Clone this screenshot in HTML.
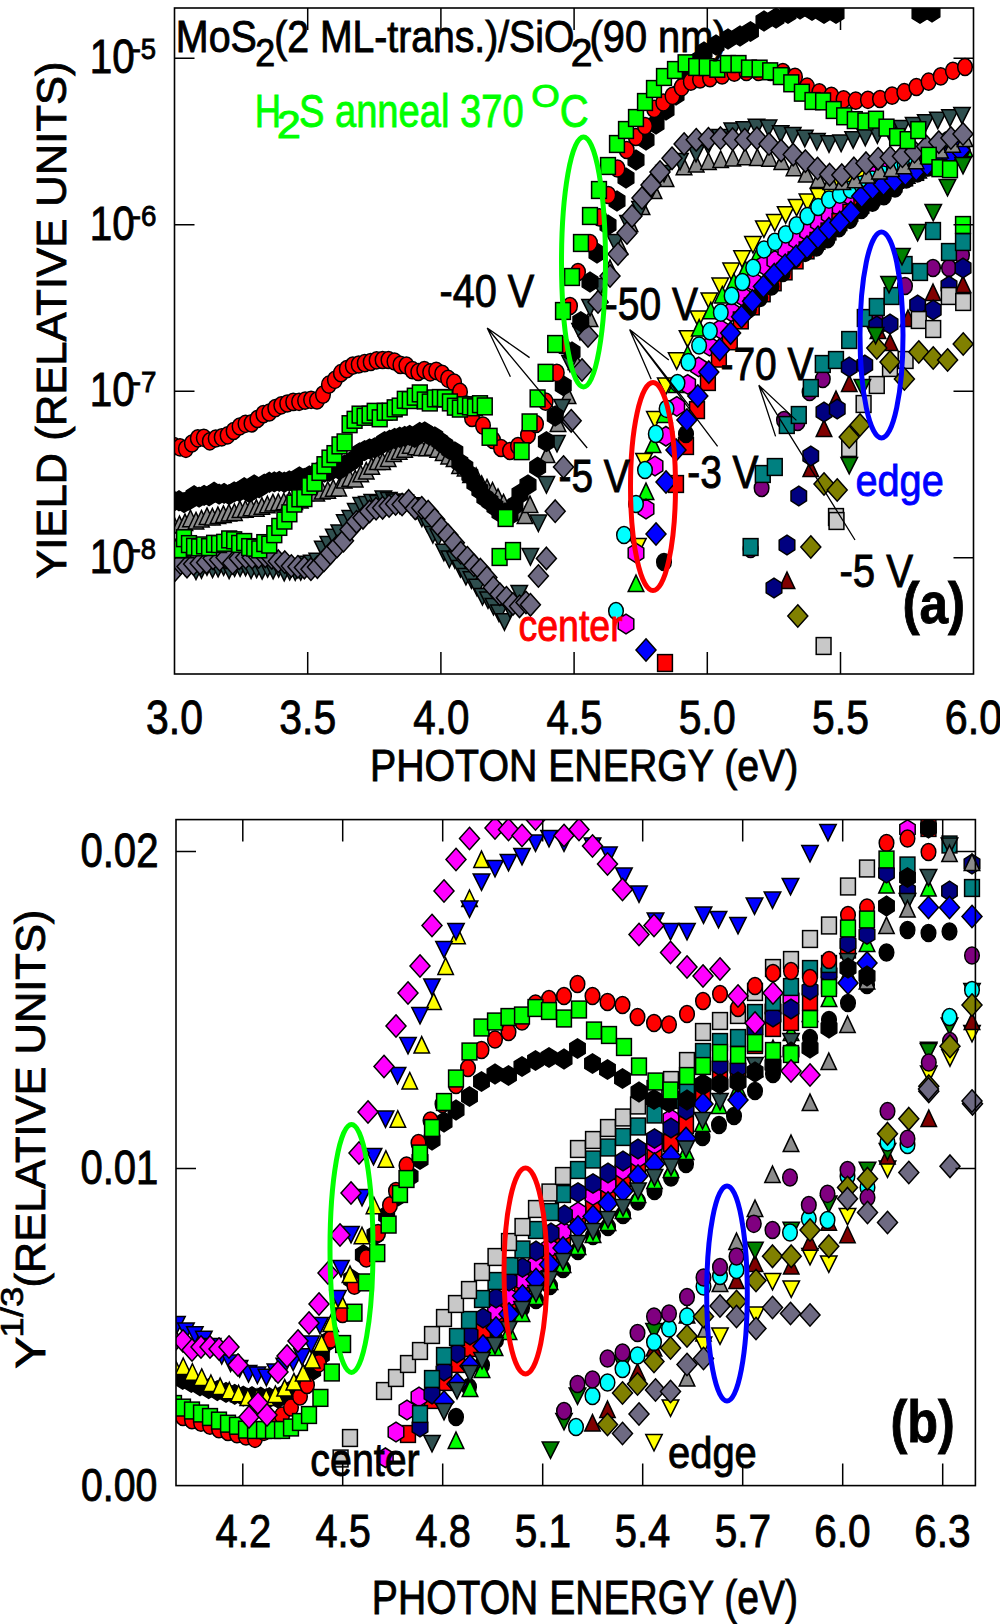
<!DOCTYPE html>
<html><head><meta charset="utf-8"><style>
html,body{margin:0;padding:0;background:#fff;}
svg{display:block;}
text{font-family:"Liberation Sans",sans-serif;}
</style></head><body>
<svg width="1000" height="1624" viewBox="0 0 1000 1624">
<defs><clipPath id="ca"><rect x="174.5" y="8" width="830" height="666"/></clipPath>
<clipPath id="cb"><rect x="176" y="819.6" width="830" height="666"/></clipPath></defs>
<g clip-path="url(#ca)" stroke="#000" stroke-width="1.5" stroke-linejoin="miter">
<path d="M638.0 554.9L646.2 538.4L629.8 538.4Z" fill="#ffff00"/>
<path d="M644.0 469.9L652.2 453.4L635.8 453.4Z" fill="#ffff00"/>
<path d="M654.9 428.0L663.1 411.5L646.6 411.5Z" fill="#ffff00"/>
<path d="M665.8 394.6L674.0 378.1L657.5 378.1Z" fill="#ffff00"/>
<path d="M676.7 369.3L684.9 352.8L668.4 352.8Z" fill="#ffff00"/>
<path d="M687.6 347.2L695.8 330.7L679.3 330.7Z" fill="#ffff00"/>
<path d="M698.5 327.4L706.7 310.9L690.2 310.9Z" fill="#ffff00"/>
<path d="M709.4 309.4L717.6 292.9L701.1 292.9Z" fill="#ffff00"/>
<path d="M720.3 294.5L728.5 278.0L712.0 278.0Z" fill="#ffff00"/>
<path d="M731.2 279.5L739.4 263.0L722.9 263.0Z" fill="#ffff00"/>
<path d="M742.1 267.3L750.3 250.8L733.8 250.8Z" fill="#ffff00"/>
<path d="M753.0 253.0L761.2 236.5L744.7 236.5Z" fill="#ffff00"/>
<path d="M763.9 237.4L772.1 220.9L755.6 220.9Z" fill="#ffff00"/>
<path d="M774.8 231.0L783.0 214.5L766.5 214.5Z" fill="#ffff00"/>
<path d="M785.7 223.2L793.9 206.7L777.4 206.7Z" fill="#ffff00"/>
<path d="M796.6 215.9L804.8 199.4L788.3 199.4Z" fill="#ffff00"/>
<path d="M807.4 210.5L815.7 194.0L799.2 194.0Z" fill="#ffff00"/>
<path d="M818.3 204.9L826.6 188.4L810.1 188.4Z" fill="#ffff00"/>
<path d="M829.2 199.9L837.5 183.4L821.0 183.4Z" fill="#ffff00"/>
<path d="M840.1 195.7L848.4 179.2L831.9 179.2Z" fill="#ffff00"/>
<path d="M851.0 191.5L859.3 175.0L842.8 175.0Z" fill="#ffff00"/>
<path d="M861.9 187.3L870.2 170.8L853.7 170.8Z" fill="#ffff00"/>
<path d="M872.8 183.1L881.1 166.6L864.6 166.6Z" fill="#ffff00"/>
<path d="M883.7 178.7L892.0 162.2L875.5 162.2Z" fill="#ffff00"/>
<path d="M894.6 174.2L902.9 157.7L886.4 157.7Z" fill="#ffff00"/>
<path d="M905.5 169.7L913.8 153.2L897.3 153.2Z" fill="#ffff00"/>
<path d="M916.4 165.6L924.7 149.1L908.2 149.1Z" fill="#ffff00"/>
<path d="M927.3 161.7L935.6 145.2L919.1 145.2Z" fill="#ffff00"/>
<path d="M938.2 157.7L946.5 141.2L930.0 141.2Z" fill="#ffff00"/>
<path d="M949.1 153.8L957.4 137.3L940.9 137.3Z" fill="#ffff00"/>
<path d="M960.0 149.9L968.2 133.4L951.8 133.4Z" fill="#ffff00"/>
<path d="M636.0 575.1L643.8 591.6L628.2 591.6Z" fill="#00ff00"/>
<path d="M646.0 483.1L653.8 499.6L638.2 499.6Z" fill="#00ff00"/>
<path d="M653.0 436.1L660.8 452.6L645.2 452.6Z" fill="#00ff00"/>
<path d="M664.6 406.0L672.3 422.5L656.8 422.5Z" fill="#00ff00"/>
<path d="M676.1 375.9L683.9 392.4L668.4 392.4Z" fill="#00ff00"/>
<path d="M687.7 345.8L695.4 362.3L679.9 362.3Z" fill="#00ff00"/>
<path d="M699.2 319.6L707.0 336.1L691.5 336.1Z" fill="#00ff00"/>
<path d="M710.8 302.3L718.5 318.8L703.0 318.8Z" fill="#00ff00"/>
<path d="M722.3 286.4L730.1 302.9L714.6 302.9Z" fill="#00ff00"/>
<path d="M733.9 273.8L741.6 290.3L726.1 290.3Z" fill="#00ff00"/>
<path d="M745.4 261.1L753.2 277.6L737.7 277.6Z" fill="#00ff00"/>
<path d="M757.0 248.4L764.8 264.9L749.2 264.9Z" fill="#00ff00"/>
<path d="M768.6 238.7L776.3 255.2L760.8 255.2Z" fill="#00ff00"/>
<path d="M780.1 230.0L787.9 246.5L772.4 246.5Z" fill="#00ff00"/>
<path d="M791.7 221.4L799.4 237.9L783.9 237.9Z" fill="#00ff00"/>
<path d="M803.2 213.5L811.0 230.0L795.5 230.0Z" fill="#00ff00"/>
<path d="M814.8 207.7L822.5 224.2L807.0 224.2Z" fill="#00ff00"/>
<path d="M826.3 201.9L834.1 218.4L818.6 218.4Z" fill="#00ff00"/>
<path d="M837.9 196.2L845.6 212.7L830.1 212.7Z" fill="#00ff00"/>
<path d="M849.4 190.4L857.2 206.9L841.7 206.9Z" fill="#00ff00"/>
<path d="M861.0 185.7L868.8 202.2L853.2 202.2Z" fill="#00ff00"/>
<path d="M872.6 181.1L880.3 197.6L864.8 197.6Z" fill="#00ff00"/>
<path d="M884.1 176.5L891.9 193.0L876.4 193.0Z" fill="#00ff00"/>
<path d="M895.7 171.8L903.4 188.3L887.9 188.3Z" fill="#00ff00"/>
<path d="M907.2 166.8L915.0 183.3L899.5 183.3Z" fill="#00ff00"/>
<path d="M918.8 161.4L926.5 177.9L911.0 177.9Z" fill="#00ff00"/>
<path d="M930.3 156.1L938.1 172.6L922.6 172.6Z" fill="#00ff00"/>
<path d="M941.9 150.8L949.6 167.3L934.1 167.3Z" fill="#00ff00"/>
<path d="M953.4 145.4L961.2 161.9L945.7 161.9Z" fill="#00ff00"/>
<path d="M965.0 140.1L972.8 156.6L957.2 156.6Z" fill="#00ff00"/>
<path d="M626.0 614.2L633.8 619.1L633.8 628.9L626.0 633.8L618.2 628.9L618.2 619.1Z" fill="#ff00ff"/>
<path d="M636.0 543.2L643.8 548.1L643.8 557.9L636.0 562.8L628.2 557.9L628.2 548.1Z" fill="#ff00ff"/>
<path d="M646.0 499.2L653.8 504.1L653.8 513.9L646.0 518.8L638.2 513.9L638.2 504.1Z" fill="#ff00ff"/>
<path d="M655.0 456.2L662.8 461.1L662.8 470.9L655.0 475.8L647.2 470.9L647.2 461.1Z" fill="#ff00ff"/>
<path d="M665.9 426.5L673.6 431.4L673.6 441.2L665.9 446.0L658.1 441.2L658.1 431.4Z" fill="#ff00ff"/>
<path d="M676.8 396.6L684.5 401.5L684.5 411.2L676.8 416.1L669.0 411.2L669.0 401.5Z" fill="#ff00ff"/>
<path d="M687.7 374.7L695.4 379.5L695.4 389.3L687.7 394.2L679.9 389.3L679.9 379.5Z" fill="#ff00ff"/>
<path d="M698.6 357.1L706.3 362.0L706.3 371.7L698.6 376.6L690.8 371.7L690.8 362.0Z" fill="#ff00ff"/>
<path d="M709.5 336.4L717.2 341.3L717.2 351.1L709.5 355.9L701.7 351.1L701.7 341.3Z" fill="#ff00ff"/>
<path d="M720.4 319.4L728.1 324.3L728.1 334.0L720.4 338.9L712.6 334.0L712.6 324.3Z" fill="#ff00ff"/>
<path d="M731.2 302.0L739.0 306.9L739.0 316.6L731.2 321.5L723.5 316.6L723.5 306.9Z" fill="#ff00ff"/>
<path d="M742.1 286.4L749.9 291.3L749.9 301.0L742.1 305.9L734.4 301.0L734.4 291.3Z" fill="#ff00ff"/>
<path d="M753.0 271.7L760.8 276.6L760.8 286.3L753.0 291.2L745.3 286.3L745.3 276.6Z" fill="#ff00ff"/>
<path d="M763.9 255.4L771.7 260.2L771.7 270.0L763.9 274.9L756.2 270.0L756.2 260.2Z" fill="#ff00ff"/>
<path d="M774.8 250.7L782.6 255.6L782.6 265.4L774.8 270.2L767.1 265.4L767.1 255.6Z" fill="#ff00ff"/>
<path d="M785.7 239.7L793.5 244.6L793.5 254.4L785.7 259.2L778.0 254.4L778.0 244.6Z" fill="#ff00ff"/>
<path d="M796.6 230.2L804.4 235.1L804.4 244.8L796.6 249.7L788.9 244.8L788.9 235.1Z" fill="#ff00ff"/>
<path d="M807.5 221.9L815.2 226.8L815.2 236.5L807.5 241.4L799.8 236.5L799.8 226.8Z" fill="#ff00ff"/>
<path d="M818.4 212.5L826.1 217.3L826.1 227.1L818.4 232.0L810.6 227.1L810.6 217.3Z" fill="#ff00ff"/>
<path d="M829.3 204.8L837.0 209.7L837.0 219.4L829.3 224.3L821.5 219.4L821.5 209.7Z" fill="#ff00ff"/>
<path d="M840.2 197.7L847.9 202.5L847.9 212.3L840.2 217.2L832.4 212.3L832.4 202.5Z" fill="#ff00ff"/>
<path d="M851.1 186.8L858.8 191.7L858.8 201.4L851.1 206.3L843.3 201.4L843.3 191.7Z" fill="#ff00ff"/>
<path d="M862.0 175.9L869.7 180.8L869.7 190.5L862.0 195.4L854.2 190.5L854.2 180.8Z" fill="#ff00ff"/>
<path d="M872.9 166.0L880.6 170.9L880.6 180.7L872.9 185.5L865.1 180.7L865.1 170.9Z" fill="#ff00ff"/>
<path d="M883.8 159.9L891.5 164.8L891.5 174.5L883.8 179.4L876.0 174.5L876.0 164.8Z" fill="#ff00ff"/>
<path d="M894.6 154.9L902.4 159.8L902.4 169.6L894.6 174.4L886.9 169.6L886.9 159.8Z" fill="#ff00ff"/>
<path d="M905.5 149.7L913.3 154.6L913.3 164.3L905.5 169.2L897.8 164.3L897.8 154.6Z" fill="#ff00ff"/>
<path d="M916.4 145.8L924.2 150.7L924.2 160.4L916.4 165.3L908.7 160.4L908.7 150.7Z" fill="#ff00ff"/>
<path d="M927.3 141.9L935.1 146.8L935.1 156.5L927.3 161.4L919.6 156.5L919.6 146.8Z" fill="#ff00ff"/>
<path d="M938.2 138.0L946.0 142.9L946.0 152.7L938.2 157.5L930.5 152.7L930.5 142.9Z" fill="#ff00ff"/>
<path d="M949.1 134.1L956.9 139.0L956.9 148.8L949.1 153.6L941.4 148.8L941.4 139.0Z" fill="#ff00ff"/>
<path d="M960.0 130.2L967.8 135.1L967.8 144.9L960.0 149.8L952.2 144.9L952.2 135.1Z" fill="#ff00ff"/>
<ellipse cx="616.0" cy="611.0" rx="7.30" ry="8.60" fill="#00ffff"/>
<ellipse cx="624.0" cy="535.0" rx="7.30" ry="8.60" fill="#00ffff"/>
<ellipse cx="636.0" cy="504.0" rx="7.30" ry="8.60" fill="#00ffff"/>
<ellipse cx="645.0" cy="470.0" rx="7.30" ry="8.60" fill="#00ffff"/>
<ellipse cx="655.8" cy="433.9" rx="7.30" ry="8.60" fill="#00ffff"/>
<ellipse cx="666.6" cy="408.8" rx="7.30" ry="8.60" fill="#00ffff"/>
<ellipse cx="677.5" cy="383.1" rx="7.30" ry="8.60" fill="#00ffff"/>
<ellipse cx="688.3" cy="362.1" rx="7.30" ry="8.60" fill="#00ffff"/>
<ellipse cx="699.1" cy="345.5" rx="7.30" ry="8.60" fill="#00ffff"/>
<ellipse cx="709.9" cy="331.2" rx="7.30" ry="8.60" fill="#00ffff"/>
<ellipse cx="720.8" cy="312.6" rx="7.30" ry="8.60" fill="#00ffff"/>
<ellipse cx="731.6" cy="295.9" rx="7.30" ry="8.60" fill="#00ffff"/>
<ellipse cx="742.4" cy="282.0" rx="7.30" ry="8.60" fill="#00ffff"/>
<ellipse cx="753.2" cy="267.8" rx="7.30" ry="8.60" fill="#00ffff"/>
<ellipse cx="764.0" cy="249.5" rx="7.30" ry="8.60" fill="#00ffff"/>
<ellipse cx="774.9" cy="241.8" rx="7.30" ry="8.60" fill="#00ffff"/>
<ellipse cx="785.7" cy="234.4" rx="7.30" ry="8.60" fill="#00ffff"/>
<ellipse cx="796.5" cy="225.3" rx="7.30" ry="8.60" fill="#00ffff"/>
<ellipse cx="807.3" cy="216.1" rx="7.30" ry="8.60" fill="#00ffff"/>
<ellipse cx="818.1" cy="207.0" rx="7.30" ry="8.60" fill="#00ffff"/>
<ellipse cx="829.0" cy="199.7" rx="7.30" ry="8.60" fill="#00ffff"/>
<ellipse cx="839.8" cy="194.6" rx="7.30" ry="8.60" fill="#00ffff"/>
<ellipse cx="850.6" cy="189.7" rx="7.30" ry="8.60" fill="#00ffff"/>
<ellipse cx="861.4" cy="184.7" rx="7.30" ry="8.60" fill="#00ffff"/>
<ellipse cx="872.2" cy="179.7" rx="7.30" ry="8.60" fill="#00ffff"/>
<ellipse cx="883.1" cy="174.7" rx="7.30" ry="8.60" fill="#00ffff"/>
<ellipse cx="893.9" cy="169.7" rx="7.30" ry="8.60" fill="#00ffff"/>
<ellipse cx="904.7" cy="164.6" rx="7.30" ry="8.60" fill="#00ffff"/>
<ellipse cx="915.5" cy="158.4" rx="7.30" ry="8.60" fill="#00ffff"/>
<ellipse cx="926.4" cy="152.3" rx="7.30" ry="8.60" fill="#00ffff"/>
<ellipse cx="937.2" cy="146.1" rx="7.30" ry="8.60" fill="#00ffff"/>
<ellipse cx="948.0" cy="140.0" rx="7.30" ry="8.60" fill="#00ffff"/>
<rect x="657.6" y="654.6" width="14.8" height="16.8" fill="#ff0000"/>
<rect x="668.6" y="475.6" width="14.8" height="16.8" fill="#ff0000"/>
<rect x="678.6" y="437.6" width="14.8" height="16.8" fill="#ff0000"/>
<rect x="689.6" y="401.7" width="14.8" height="16.8" fill="#ff0000"/>
<rect x="700.5" y="373.6" width="14.8" height="16.8" fill="#ff0000"/>
<rect x="711.5" y="350.2" width="14.8" height="16.8" fill="#ff0000"/>
<rect x="722.4" y="332.9" width="14.8" height="16.8" fill="#ff0000"/>
<rect x="733.4" y="312.0" width="14.8" height="16.8" fill="#ff0000"/>
<rect x="744.4" y="298.0" width="14.8" height="16.8" fill="#ff0000"/>
<rect x="755.3" y="284.9" width="14.8" height="16.8" fill="#ff0000"/>
<rect x="766.3" y="273.9" width="14.8" height="16.8" fill="#ff0000"/>
<rect x="777.2" y="263.0" width="14.8" height="16.8" fill="#ff0000"/>
<rect x="788.2" y="252.0" width="14.8" height="16.8" fill="#ff0000"/>
<rect x="799.2" y="242.0" width="14.8" height="16.8" fill="#ff0000"/>
<rect x="810.1" y="232.5" width="14.8" height="16.8" fill="#ff0000"/>
<rect x="821.1" y="223.1" width="14.8" height="16.8" fill="#ff0000"/>
<rect x="832.0" y="213.7" width="14.8" height="16.8" fill="#ff0000"/>
<rect x="843.0" y="204.3" width="14.8" height="16.8" fill="#ff0000"/>
<rect x="854.0" y="196.3" width="14.8" height="16.8" fill="#ff0000"/>
<rect x="864.9" y="188.3" width="14.8" height="16.8" fill="#ff0000"/>
<rect x="875.9" y="181.4" width="14.8" height="16.8" fill="#ff0000"/>
<rect x="886.8" y="175.2" width="14.8" height="16.8" fill="#ff0000"/>
<rect x="897.8" y="169.0" width="14.8" height="16.8" fill="#ff0000"/>
<rect x="908.8" y="163.5" width="14.8" height="16.8" fill="#ff0000"/>
<rect x="919.7" y="158.0" width="14.8" height="16.8" fill="#ff0000"/>
<rect x="930.7" y="152.6" width="14.8" height="16.8" fill="#ff0000"/>
<rect x="941.6" y="147.1" width="14.8" height="16.8" fill="#ff0000"/>
<rect x="952.6" y="141.6" width="14.8" height="16.8" fill="#ff0000"/>
<ellipse cx="664.0" cy="562.0" rx="7.30" ry="8.60" fill="#000000"/>
<ellipse cx="686.0" cy="434.0" rx="7.30" ry="8.60" fill="#000000"/>
<ellipse cx="749.0" cy="309.0" rx="7.30" ry="8.60" fill="#000000"/>
<ellipse cx="760.2" cy="297.8" rx="7.30" ry="8.60" fill="#000000"/>
<ellipse cx="771.5" cy="286.5" rx="7.30" ry="8.60" fill="#000000"/>
<ellipse cx="782.7" cy="272.9" rx="7.30" ry="8.60" fill="#000000"/>
<ellipse cx="793.9" cy="259.5" rx="7.30" ry="8.60" fill="#000000"/>
<ellipse cx="805.2" cy="252.8" rx="7.30" ry="8.60" fill="#000000"/>
<ellipse cx="816.4" cy="247.5" rx="7.30" ry="8.60" fill="#000000"/>
<ellipse cx="827.6" cy="239.1" rx="7.30" ry="8.60" fill="#000000"/>
<ellipse cx="838.9" cy="228.1" rx="7.30" ry="8.60" fill="#000000"/>
<ellipse cx="850.1" cy="219.8" rx="7.30" ry="8.60" fill="#000000"/>
<ellipse cx="861.3" cy="210.0" rx="7.30" ry="8.60" fill="#000000"/>
<ellipse cx="872.5" cy="202.6" rx="7.30" ry="8.60" fill="#000000"/>
<ellipse cx="883.8" cy="196.1" rx="7.30" ry="8.60" fill="#000000"/>
<ellipse cx="895.0" cy="188.4" rx="7.30" ry="8.60" fill="#000000"/>
<ellipse cx="906.2" cy="179.5" rx="7.30" ry="8.60" fill="#000000"/>
<ellipse cx="917.5" cy="173.3" rx="7.30" ry="8.60" fill="#000000"/>
<ellipse cx="928.7" cy="167.3" rx="7.30" ry="8.60" fill="#000000"/>
<ellipse cx="939.9" cy="161.2" rx="7.30" ry="8.60" fill="#000000"/>
<ellipse cx="951.2" cy="155.2" rx="7.30" ry="8.60" fill="#000000"/>
<ellipse cx="962.4" cy="149.2" rx="7.30" ry="8.60" fill="#000000"/>
<path d="M646.0 638.8L656.0 650.0L646.0 661.2L636.0 650.0Z" fill="#0000ff"/>
<path d="M656.0 522.8L666.0 534.0L656.0 545.2L646.0 534.0Z" fill="#0000ff"/>
<path d="M666.0 470.8L676.0 482.0L666.0 493.2L656.0 482.0Z" fill="#0000ff"/>
<path d="M676.0 438.8L686.0 450.0L676.0 461.2L666.0 450.0Z" fill="#0000ff"/>
<path d="M686.9 408.8L696.9 420.0L686.9 431.2L676.9 420.0Z" fill="#0000ff"/>
<path d="M697.8 384.8L707.8 396.0L697.8 407.2L687.8 396.0Z" fill="#0000ff"/>
<path d="M708.8 360.9L718.8 372.1L708.8 383.3L698.8 372.1Z" fill="#0000ff"/>
<path d="M719.7 338.3L729.7 349.5L719.7 360.7L709.7 349.5Z" fill="#0000ff"/>
<path d="M730.6 321.9L740.6 333.1L730.6 344.3L720.6 333.1Z" fill="#0000ff"/>
<path d="M741.5 305.5L751.5 316.7L741.5 327.9L731.5 316.7Z" fill="#0000ff"/>
<path d="M752.5 290.0L762.5 301.2L752.5 312.4L742.5 301.2Z" fill="#0000ff"/>
<path d="M763.4 275.3L773.4 286.5L763.4 297.7L753.4 286.5Z" fill="#0000ff"/>
<path d="M774.3 263.5L784.3 274.7L774.3 285.9L764.3 274.7Z" fill="#0000ff"/>
<path d="M785.2 254.1L795.2 265.3L785.2 276.5L775.2 265.3Z" fill="#0000ff"/>
<path d="M796.2 245.1L806.2 256.3L796.2 267.5L786.2 256.3Z" fill="#0000ff"/>
<path d="M807.1 236.0L817.1 247.2L807.1 258.4L797.1 247.2Z" fill="#0000ff"/>
<path d="M818.0 226.1L828.0 237.3L818.0 248.5L808.0 237.3Z" fill="#0000ff"/>
<path d="M828.9 217.5L838.9 228.7L828.9 239.9L818.9 228.7Z" fill="#0000ff"/>
<path d="M839.8 211.2L849.8 222.4L839.8 233.6L829.8 222.4Z" fill="#0000ff"/>
<path d="M850.8 201.3L860.8 212.5L850.8 223.7L840.8 212.5Z" fill="#0000ff"/>
<path d="M861.7 185.0L871.7 196.2L861.7 207.4L851.7 196.2Z" fill="#0000ff"/>
<path d="M872.6 176.9L882.6 188.1L872.6 199.3L862.6 188.1Z" fill="#0000ff"/>
<path d="M883.5 173.1L893.5 184.3L883.5 195.5L873.5 184.3Z" fill="#0000ff"/>
<path d="M894.5 169.3L904.5 180.5L894.5 191.7L884.5 180.5Z" fill="#0000ff"/>
<path d="M905.4 163.2L915.4 174.4L905.4 185.6L895.4 174.4Z" fill="#0000ff"/>
<path d="M916.3 158.3L926.3 169.5L916.3 180.7L906.3 169.5Z" fill="#0000ff"/>
<path d="M927.2 153.4L937.2 164.6L927.2 175.8L917.2 164.6Z" fill="#0000ff"/>
<path d="M938.2 148.6L948.2 159.8L938.2 171.0L928.2 159.8Z" fill="#0000ff"/>
<path d="M949.1 143.7L959.1 154.9L949.1 166.1L939.1 154.9Z" fill="#0000ff"/>
<path d="M960.0 138.8L970.0 150.0L960.0 161.2L950.0 150.0Z" fill="#0000ff"/>
<path d="M174.0 516.6L181.8 533.1L166.2 533.1Z" fill="#8c8c8c"/>
<path d="M179.5 516.1L187.2 532.6L171.7 532.6Z" fill="#8c8c8c"/>
<path d="M185.0 514.1L192.7 530.6L177.2 530.6Z" fill="#8c8c8c"/>
<path d="M190.5 510.3L198.2 526.8L182.7 526.8Z" fill="#8c8c8c"/>
<path d="M196.0 512.4L203.7 528.9L188.2 528.9Z" fill="#8c8c8c"/>
<path d="M201.5 510.5L209.2 527.0L193.7 527.0Z" fill="#8c8c8c"/>
<path d="M207.0 507.9L214.7 524.4L199.2 524.4Z" fill="#8c8c8c"/>
<path d="M212.4 508.5L220.2 525.0L204.7 525.0Z" fill="#8c8c8c"/>
<path d="M217.9 507.1L225.7 523.6L210.2 523.6Z" fill="#8c8c8c"/>
<path d="M223.4 505.9L231.2 522.4L215.7 522.4Z" fill="#8c8c8c"/>
<path d="M228.9 504.4L236.7 520.9L221.2 520.9Z" fill="#8c8c8c"/>
<path d="M234.4 504.0L242.2 520.5L226.7 520.5Z" fill="#8c8c8c"/>
<path d="M239.9 501.0L247.7 517.5L232.2 517.5Z" fill="#8c8c8c"/>
<path d="M245.4 500.8L253.1 517.3L237.6 517.3Z" fill="#8c8c8c"/>
<path d="M250.9 499.2L258.6 515.7L243.1 515.7Z" fill="#8c8c8c"/>
<path d="M256.4 499.7L264.1 516.2L248.6 516.2Z" fill="#8c8c8c"/>
<path d="M261.9 497.8L269.6 514.3L254.1 514.3Z" fill="#8c8c8c"/>
<path d="M267.4 496.2L275.1 512.7L259.6 512.7Z" fill="#8c8c8c"/>
<path d="M272.9 494.4L280.6 510.9L265.1 510.9Z" fill="#8c8c8c"/>
<path d="M278.3 494.0L286.1 510.5L270.6 510.5Z" fill="#8c8c8c"/>
<path d="M283.8 493.3L291.6 509.8L276.1 509.8Z" fill="#8c8c8c"/>
<path d="M289.3 491.8L297.1 508.3L281.6 508.3Z" fill="#8c8c8c"/>
<path d="M294.8 493.1L302.6 509.6L287.1 509.6Z" fill="#8c8c8c"/>
<path d="M300.3 491.5L308.1 508.0L292.6 508.0Z" fill="#8c8c8c"/>
<path d="M305.8 484.2L313.6 500.7L298.1 500.7Z" fill="#8c8c8c"/>
<path d="M311.3 483.7L319.1 500.2L303.6 500.2Z" fill="#8c8c8c"/>
<path d="M316.8 484.6L324.5 501.1L309.0 501.1Z" fill="#8c8c8c"/>
<path d="M322.3 482.5L330.0 499.0L314.5 499.0Z" fill="#8c8c8c"/>
<path d="M327.8 481.7L335.5 498.2L320.0 498.2Z" fill="#8c8c8c"/>
<path d="M333.3 479.7L341.0 496.2L325.5 496.2Z" fill="#8c8c8c"/>
<path d="M338.8 479.5L346.5 496.0L331.0 496.0Z" fill="#8c8c8c"/>
<path d="M344.3 471.6L352.0 488.1L336.5 488.1Z" fill="#8c8c8c"/>
<path d="M349.7 469.7L357.5 486.2L342.0 486.2Z" fill="#8c8c8c"/>
<path d="M355.2 470.4L363.0 486.9L347.5 486.9Z" fill="#8c8c8c"/>
<path d="M360.7 465.3L368.5 481.8L353.0 481.8Z" fill="#8c8c8c"/>
<path d="M366.2 462.4L374.0 478.9L358.5 478.9Z" fill="#8c8c8c"/>
<path d="M371.7 457.7L379.5 474.2L364.0 474.2Z" fill="#8c8c8c"/>
<path d="M377.2 453.1L385.0 469.6L369.5 469.6Z" fill="#8c8c8c"/>
<path d="M382.7 452.9L390.4 469.4L374.9 469.4Z" fill="#8c8c8c"/>
<path d="M388.2 449.9L395.9 466.4L380.4 466.4Z" fill="#8c8c8c"/>
<path d="M393.7 445.0L401.4 461.5L385.9 461.5Z" fill="#8c8c8c"/>
<path d="M399.2 442.8L406.9 459.3L391.4 459.3Z" fill="#8c8c8c"/>
<path d="M404.7 440.8L412.4 457.3L396.9 457.3Z" fill="#8c8c8c"/>
<path d="M410.2 436.7L417.9 453.2L402.4 453.2Z" fill="#8c8c8c"/>
<path d="M415.7 438.3L423.4 454.8L407.9 454.8Z" fill="#8c8c8c"/>
<path d="M421.1 439.0L428.9 455.5L413.4 455.5Z" fill="#8c8c8c"/>
<path d="M426.6 439.3L434.4 455.8L418.9 455.8Z" fill="#8c8c8c"/>
<path d="M432.1 438.8L439.9 455.3L424.4 455.3Z" fill="#8c8c8c"/>
<path d="M437.6 440.8L445.4 457.3L429.9 457.3Z" fill="#8c8c8c"/>
<path d="M443.1 443.9L450.9 460.4L435.4 460.4Z" fill="#8c8c8c"/>
<path d="M448.6 447.5L456.4 464.0L440.9 464.0Z" fill="#8c8c8c"/>
<path d="M454.1 450.1L461.8 466.6L446.3 466.6Z" fill="#8c8c8c"/>
<path d="M459.6 456.9L467.3 473.4L451.8 473.4Z" fill="#8c8c8c"/>
<path d="M465.1 459.4L472.8 475.9L457.3 475.9Z" fill="#8c8c8c"/>
<path d="M470.6 465.9L478.3 482.4L462.8 482.4Z" fill="#8c8c8c"/>
<path d="M476.1 467.9L483.8 484.4L468.3 484.4Z" fill="#8c8c8c"/>
<path d="M481.6 475.9L489.3 492.4L473.8 492.4Z" fill="#8c8c8c"/>
<path d="M487.0 479.4L494.8 495.9L479.3 495.9Z" fill="#8c8c8c"/>
<path d="M492.5 482.5L500.3 499.0L484.8 499.0Z" fill="#8c8c8c"/>
<path d="M498.0 488.9L505.8 505.4L490.3 505.4Z" fill="#8c8c8c"/>
<path d="M503.5 494.4L511.3 510.9L495.8 510.9Z" fill="#8c8c8c"/>
<path d="M509.0 499.6L516.8 516.1L501.3 516.1Z" fill="#8c8c8c"/>
<path d="M514.5 500.9L522.3 517.4L506.8 517.4Z" fill="#8c8c8c"/>
<path d="M520.0 503.4L527.8 519.9L512.2 519.9Z" fill="#8c8c8c"/>
<path d="M525.0 507.1L532.8 523.6L517.2 523.6Z" fill="#8c8c8c"/>
<path d="M530.0 496.1L537.8 512.6L522.2 512.6Z" fill="#8c8c8c"/>
<path d="M547.0 446.1L554.8 462.6L539.2 462.6Z" fill="#8c8c8c"/>
<path d="M558.0 415.1L565.8 431.6L550.2 431.6Z" fill="#8c8c8c"/>
<path d="M568.0 387.1L575.8 403.6L560.2 403.6Z" fill="#8c8c8c"/>
<path d="M576.0 353.1L583.8 369.6L568.2 369.6Z" fill="#8c8c8c"/>
<path d="M590.0 310.1L597.8 326.6L582.2 326.6Z" fill="#8c8c8c"/>
<path d="M600.0 286.1L607.8 302.6L592.2 302.6Z" fill="#8c8c8c"/>
<path d="M610.0 260.1L617.8 276.6L602.2 276.6Z" fill="#8c8c8c"/>
<path d="M620.0 238.1L627.8 254.6L612.2 254.6Z" fill="#8c8c8c"/>
<path d="M630.0 215.1L637.8 231.6L622.2 231.6Z" fill="#8c8c8c"/>
<path d="M642.0 198.1L649.8 214.6L634.2 214.6Z" fill="#8c8c8c"/>
<path d="M654.0 182.1L661.8 198.6L646.2 198.6Z" fill="#8c8c8c"/>
<path d="M666.0 170.1L673.8 186.6L658.2 186.6Z" fill="#8c8c8c"/>
<path d="M684.0 158.3L691.8 174.8L676.2 174.8Z" fill="#8c8c8c"/>
<path d="M696.2 155.6L704.0 172.1L688.5 172.1Z" fill="#8c8c8c"/>
<path d="M708.4 152.9L716.2 169.4L700.7 169.4Z" fill="#8c8c8c"/>
<path d="M720.7 151.0L728.4 167.5L712.9 167.5Z" fill="#8c8c8c"/>
<path d="M732.9 149.5L740.6 166.0L725.1 166.0Z" fill="#8c8c8c"/>
<path d="M745.1 148.2L752.8 164.7L737.3 164.7Z" fill="#8c8c8c"/>
<path d="M757.3 148.9L765.1 165.4L749.6 165.4Z" fill="#8c8c8c"/>
<path d="M769.5 149.7L777.3 166.2L761.8 166.2Z" fill="#8c8c8c"/>
<path d="M781.7 153.1L789.5 169.6L774.0 169.6Z" fill="#8c8c8c"/>
<path d="M794.0 159.3L801.7 175.8L786.2 175.8Z" fill="#8c8c8c"/>
<path d="M806.2 165.6L813.9 182.1L798.4 182.1Z" fill="#8c8c8c"/>
<path d="M818.4 170.9L826.1 187.4L810.6 187.4Z" fill="#8c8c8c"/>
<path d="M830.6 173.1L838.4 189.6L822.9 189.6Z" fill="#8c8c8c"/>
<path d="M842.8 173.1L850.6 189.6L835.1 189.6Z" fill="#8c8c8c"/>
<path d="M855.0 171.2L862.8 187.7L847.3 187.7Z" fill="#8c8c8c"/>
<path d="M867.3 166.5L875.0 183.0L859.5 183.0Z" fill="#8c8c8c"/>
<path d="M879.5 162.4L887.2 178.9L871.7 178.9Z" fill="#8c8c8c"/>
<path d="M891.7 160.1L899.4 176.6L883.9 176.6Z" fill="#8c8c8c"/>
<path d="M903.9 157.3L911.7 173.8L896.2 173.8Z" fill="#8c8c8c"/>
<path d="M916.1 152.2L923.9 168.7L908.4 168.7Z" fill="#8c8c8c"/>
<path d="M928.3 147.1L936.1 163.6L920.6 163.6Z" fill="#8c8c8c"/>
<path d="M940.6 141.6L948.3 158.1L932.8 158.1Z" fill="#8c8c8c"/>
<path d="M952.8 135.8L960.5 152.3L945.0 152.3Z" fill="#8c8c8c"/>
<path d="M965.0 130.1L972.8 146.6L957.2 146.6Z" fill="#8c8c8c"/>
<path d="M174.0 576.3L182.2 559.8L165.8 559.8Z" fill="#2f4f4f"/>
<path d="M179.5 574.9L187.8 558.4L171.3 558.4Z" fill="#2f4f4f"/>
<path d="M185.0 575.1L193.3 558.6L176.8 558.6Z" fill="#2f4f4f"/>
<path d="M190.5 571.0L198.8 554.5L182.3 554.5Z" fill="#2f4f4f"/>
<path d="M196.0 579.5L204.3 563.0L187.8 563.0Z" fill="#2f4f4f"/>
<path d="M201.5 578.2L209.8 561.7L193.3 561.7Z" fill="#2f4f4f"/>
<path d="M207.0 575.2L215.3 558.7L198.8 558.7Z" fill="#2f4f4f"/>
<path d="M212.6 577.5L220.8 561.0L204.3 561.0Z" fill="#2f4f4f"/>
<path d="M218.1 576.8L226.3 560.3L209.8 560.3Z" fill="#2f4f4f"/>
<path d="M223.6 575.3L231.8 558.8L215.3 558.8Z" fill="#2f4f4f"/>
<path d="M229.1 578.6L237.3 562.1L220.8 562.1Z" fill="#2f4f4f"/>
<path d="M234.6 576.3L242.8 559.8L226.3 559.8Z" fill="#2f4f4f"/>
<path d="M240.1 576.4L248.3 559.9L231.8 559.9Z" fill="#2f4f4f"/>
<path d="M245.6 575.7L253.9 559.2L237.4 559.2Z" fill="#2f4f4f"/>
<path d="M251.1 578.5L259.4 562.0L242.9 562.0Z" fill="#2f4f4f"/>
<path d="M256.6 577.6L264.9 561.1L248.4 561.1Z" fill="#2f4f4f"/>
<path d="M262.1 579.1L270.4 562.6L253.9 562.6Z" fill="#2f4f4f"/>
<path d="M267.6 577.1L275.9 560.6L259.4 560.6Z" fill="#2f4f4f"/>
<path d="M273.1 578.8L281.4 562.3L264.9 562.3Z" fill="#2f4f4f"/>
<path d="M278.7 577.0L286.9 560.5L270.4 560.5Z" fill="#2f4f4f"/>
<path d="M284.2 580.8L292.4 564.3L275.9 564.3Z" fill="#2f4f4f"/>
<path d="M289.7 579.8L297.9 563.3L281.4 563.3Z" fill="#2f4f4f"/>
<path d="M295.2 580.3L303.4 563.8L286.9 563.8Z" fill="#2f4f4f"/>
<path d="M300.7 580.1L308.9 563.6L292.4 563.6Z" fill="#2f4f4f"/>
<path d="M306.2 572.7L314.4 556.2L297.9 556.2Z" fill="#2f4f4f"/>
<path d="M311.7 571.7L320.0 555.2L303.5 555.2Z" fill="#2f4f4f"/>
<path d="M317.2 569.7L325.5 553.2L309.0 553.2Z" fill="#2f4f4f"/>
<path d="M322.7 557.7L331.0 541.2L314.5 541.2Z" fill="#2f4f4f"/>
<path d="M328.2 552.9L336.5 536.4L320.0 536.4Z" fill="#2f4f4f"/>
<path d="M333.7 545.7L342.0 529.2L325.5 529.2Z" fill="#2f4f4f"/>
<path d="M339.2 541.4L347.5 524.9L331.0 524.9Z" fill="#2f4f4f"/>
<path d="M344.8 531.3L353.0 514.8L336.5 514.8Z" fill="#2f4f4f"/>
<path d="M350.3 527.0L358.5 510.5L342.0 510.5Z" fill="#2f4f4f"/>
<path d="M355.8 520.1L364.0 503.6L347.5 503.6Z" fill="#2f4f4f"/>
<path d="M361.3 514.1L369.5 497.6L353.0 497.6Z" fill="#2f4f4f"/>
<path d="M366.8 513.1L375.0 496.6L358.5 496.6Z" fill="#2f4f4f"/>
<path d="M372.3 511.1L380.5 494.6L364.0 494.6Z" fill="#2f4f4f"/>
<path d="M377.8 512.1L386.1 495.6L369.6 495.6Z" fill="#2f4f4f"/>
<path d="M383.3 507.6L391.6 491.1L375.1 491.1Z" fill="#2f4f4f"/>
<path d="M388.8 509.1L397.1 492.6L380.6 492.6Z" fill="#2f4f4f"/>
<path d="M394.3 510.4L402.6 493.9L386.1 493.9Z" fill="#2f4f4f"/>
<path d="M399.8 513.5L408.1 497.0L391.6 497.0Z" fill="#2f4f4f"/>
<path d="M405.3 511.6L413.6 495.1L397.1 495.1Z" fill="#2f4f4f"/>
<path d="M410.9 514.3L419.1 497.8L402.6 497.8Z" fill="#2f4f4f"/>
<path d="M416.4 518.6L424.6 502.1L408.1 502.1Z" fill="#2f4f4f"/>
<path d="M421.9 526.5L430.1 510.0L413.6 510.0Z" fill="#2f4f4f"/>
<path d="M427.4 532.0L435.6 515.5L419.1 515.5Z" fill="#2f4f4f"/>
<path d="M432.9 543.0L441.1 526.5L424.6 526.5Z" fill="#2f4f4f"/>
<path d="M438.4 545.5L446.6 529.0L430.1 529.0Z" fill="#2f4f4f"/>
<path d="M443.9 560.7L452.2 544.2L435.7 544.2Z" fill="#2f4f4f"/>
<path d="M449.4 567.5L457.7 551.0L441.2 551.0Z" fill="#2f4f4f"/>
<path d="M454.9 568.2L463.2 551.7L446.7 551.7Z" fill="#2f4f4f"/>
<path d="M460.4 577.1L468.7 560.6L452.2 560.6Z" fill="#2f4f4f"/>
<path d="M465.9 584.9L474.2 568.4L457.7 568.4Z" fill="#2f4f4f"/>
<path d="M471.4 588.3L479.7 571.8L463.2 571.8Z" fill="#2f4f4f"/>
<path d="M477.0 595.8L485.2 579.3L468.7 579.3Z" fill="#2f4f4f"/>
<path d="M482.5 605.0L490.7 588.5L474.2 588.5Z" fill="#2f4f4f"/>
<path d="M488.0 608.4L496.2 591.9L479.7 591.9Z" fill="#2f4f4f"/>
<path d="M493.5 614.9L501.7 598.4L485.2 598.4Z" fill="#2f4f4f"/>
<path d="M499.0 621.5L507.2 605.0L490.7 605.0Z" fill="#2f4f4f"/>
<path d="M504.5 630.2L512.7 613.7L496.2 613.7Z" fill="#2f4f4f"/>
<path d="M510.0 617.5L518.2 601.0L501.8 601.0Z" fill="#2f4f4f"/>
<path d="M519.2 601.9L527.5 585.4L511.0 585.4Z" fill="#2f4f4f"/>
<path d="M530.4 565.1L538.6 548.6L522.1 548.6Z" fill="#2f4f4f"/>
<path d="M538.4 531.5L546.6 515.0L530.1 515.0Z" fill="#2f4f4f"/>
<path d="M546.4 493.1L554.6 476.6L538.1 476.6Z" fill="#2f4f4f"/>
<path d="M557.0 451.9L565.2 435.4L548.8 435.4Z" fill="#2f4f4f"/>
<path d="M562.0 415.9L570.2 399.4L553.8 399.4Z" fill="#2f4f4f"/>
<path d="M570.0 371.9L578.2 355.4L561.8 355.4Z" fill="#2f4f4f"/>
<path d="M580.0 339.9L588.2 323.4L571.8 323.4Z" fill="#2f4f4f"/>
<path d="M590.0 315.9L598.2 299.4L581.8 299.4Z" fill="#2f4f4f"/>
<path d="M600.0 294.9L608.2 278.4L591.8 278.4Z" fill="#2f4f4f"/>
<path d="M615.0 250.9L623.2 234.4L606.8 234.4Z" fill="#2f4f4f"/>
<path d="M628.0 231.9L636.2 215.4L619.8 215.4Z" fill="#2f4f4f"/>
<path d="M640.0 217.9L648.2 201.4L631.8 201.4Z" fill="#2f4f4f"/>
<path d="M652.0 197.9L660.2 181.4L643.8 181.4Z" fill="#2f4f4f"/>
<path d="M664.0 181.9L672.2 165.4L655.8 165.4Z" fill="#2f4f4f"/>
<path d="M680.0 169.9L688.2 153.4L671.8 153.4Z" fill="#2f4f4f"/>
<path d="M696.0 161.9L704.2 145.4L687.8 145.4Z" fill="#2f4f4f"/>
<path d="M708.1 153.8L716.3 137.3L699.8 137.3Z" fill="#2f4f4f"/>
<path d="M720.2 146.1L728.4 129.6L711.9 129.6Z" fill="#2f4f4f"/>
<path d="M732.3 139.6L740.5 123.1L724.0 123.1Z" fill="#2f4f4f"/>
<path d="M744.4 138.3L752.6 121.8L736.1 121.8Z" fill="#2f4f4f"/>
<path d="M756.5 135.8L764.7 119.3L748.2 119.3Z" fill="#2f4f4f"/>
<path d="M768.5 136.5L776.8 120.0L760.3 120.0Z" fill="#2f4f4f"/>
<path d="M780.6 142.3L788.9 125.8L772.4 125.8Z" fill="#2f4f4f"/>
<path d="M792.7 144.1L801.0 127.6L784.5 127.6Z" fill="#2f4f4f"/>
<path d="M804.8 146.7L813.1 130.2L796.6 130.2Z" fill="#2f4f4f"/>
<path d="M816.9 150.0L825.2 133.5L808.7 133.5Z" fill="#2f4f4f"/>
<path d="M829.0 152.3L837.2 135.8L820.8 135.8Z" fill="#2f4f4f"/>
<path d="M841.1 151.6L849.3 135.1L832.8 135.1Z" fill="#2f4f4f"/>
<path d="M853.2 148.2L861.4 131.7L844.9 131.7Z" fill="#2f4f4f"/>
<path d="M865.3 145.7L873.5 129.2L857.0 129.2Z" fill="#2f4f4f"/>
<path d="M877.4 143.2L885.6 126.7L869.1 126.7Z" fill="#2f4f4f"/>
<path d="M889.5 140.2L897.7 123.7L881.2 123.7Z" fill="#2f4f4f"/>
<path d="M901.5 137.1L909.8 120.6L893.3 120.6Z" fill="#2f4f4f"/>
<path d="M913.6 134.0L921.9 117.5L905.4 117.5Z" fill="#2f4f4f"/>
<path d="M925.7 131.2L934.0 114.7L917.5 114.7Z" fill="#2f4f4f"/>
<path d="M937.8 128.7L946.1 112.2L929.6 112.2Z" fill="#2f4f4f"/>
<path d="M949.9 126.3L958.2 109.8L941.7 109.8Z" fill="#2f4f4f"/>
<path d="M962.0 123.9L970.2 107.4L953.8 107.4Z" fill="#2f4f4f"/>
<path d="M174.0 559.9L184.0 571.1L174.0 582.3L164.0 571.1Z" fill="#6e6a82"/>
<path d="M180.5 552.0L190.5 563.2L180.5 574.4L170.5 563.2Z" fill="#6e6a82"/>
<path d="M187.0 555.4L197.0 566.6L187.0 577.8L177.0 566.6Z" fill="#6e6a82"/>
<path d="M193.6 552.9L203.6 564.1L193.6 575.3L183.6 564.1Z" fill="#6e6a82"/>
<path d="M200.1 552.1L210.1 563.3L200.1 574.5L190.1 563.3Z" fill="#6e6a82"/>
<path d="M206.6 551.2L216.6 562.4L206.6 573.6L196.6 562.4Z" fill="#6e6a82"/>
<path d="M213.1 547.1L223.1 558.3L213.1 569.5L203.1 558.3Z" fill="#6e6a82"/>
<path d="M219.6 548.5L229.6 559.7L219.6 570.9L209.6 559.7Z" fill="#6e6a82"/>
<path d="M226.1 546.3L236.1 557.5L226.1 568.7L216.1 557.5Z" fill="#6e6a82"/>
<path d="M232.7 551.8L242.7 563.0L232.7 574.2L222.7 563.0Z" fill="#6e6a82"/>
<path d="M239.2 547.1L249.2 558.3L239.2 569.5L229.2 558.3Z" fill="#6e6a82"/>
<path d="M245.7 546.3L255.7 557.5L245.7 568.7L235.7 557.5Z" fill="#6e6a82"/>
<path d="M252.2 546.4L262.2 557.6L252.2 568.8L242.2 557.6Z" fill="#6e6a82"/>
<path d="M258.7 545.8L268.7 557.0L258.7 568.2L248.7 557.0Z" fill="#6e6a82"/>
<path d="M265.3 545.2L275.3 556.4L265.3 567.6L255.3 556.4Z" fill="#6e6a82"/>
<path d="M271.8 546.7L281.8 557.9L271.8 569.1L261.8 557.9Z" fill="#6e6a82"/>
<path d="M278.3 550.0L288.3 561.2L278.3 572.4L268.3 561.2Z" fill="#6e6a82"/>
<path d="M284.8 550.9L294.8 562.1L284.8 573.3L274.8 562.1Z" fill="#6e6a82"/>
<path d="M291.3 554.8L301.3 566.0L291.3 577.2L281.3 566.0Z" fill="#6e6a82"/>
<path d="M297.9 555.6L307.9 566.8L297.9 578.0L287.9 566.8Z" fill="#6e6a82"/>
<path d="M304.4 556.4L314.4 567.6L304.4 578.8L294.4 567.6Z" fill="#6e6a82"/>
<path d="M310.9 558.0L320.9 569.2L310.9 580.4L300.9 569.2Z" fill="#6e6a82"/>
<path d="M317.4 555.9L327.4 567.1L317.4 578.3L307.4 567.1Z" fill="#6e6a82"/>
<path d="M323.9 549.3L333.9 560.5L323.9 571.7L313.9 560.5Z" fill="#6e6a82"/>
<path d="M330.4 542.0L340.4 553.2L330.4 564.4L320.4 553.2Z" fill="#6e6a82"/>
<path d="M337.0 535.3L347.0 546.5L337.0 557.7L327.0 546.5Z" fill="#6e6a82"/>
<path d="M343.5 529.5L353.5 540.7L343.5 551.9L333.5 540.7Z" fill="#6e6a82"/>
<path d="M350.0 518.4L360.0 529.6L350.0 540.8L340.0 529.6Z" fill="#6e6a82"/>
<path d="M356.5 510.6L366.5 521.8L356.5 533.0L346.5 521.8Z" fill="#6e6a82"/>
<path d="M363.0 506.6L373.0 517.8L363.0 529.0L353.0 517.8Z" fill="#6e6a82"/>
<path d="M369.6 500.2L379.6 511.4L369.6 522.6L359.6 511.4Z" fill="#6e6a82"/>
<path d="M376.1 497.5L386.1 508.7L376.1 519.9L366.1 508.7Z" fill="#6e6a82"/>
<path d="M382.6 496.6L392.6 507.8L382.6 519.0L372.6 507.8Z" fill="#6e6a82"/>
<path d="M389.1 494.8L399.1 506.0L389.1 517.2L379.1 506.0Z" fill="#6e6a82"/>
<path d="M395.6 492.8L405.6 504.0L395.6 515.2L385.6 504.0Z" fill="#6e6a82"/>
<path d="M402.1 493.3L412.1 504.5L402.1 515.7L392.1 504.5Z" fill="#6e6a82"/>
<path d="M408.7 489.7L418.7 500.9L408.7 512.1L398.7 500.9Z" fill="#6e6a82"/>
<path d="M415.2 497.1L425.2 508.3L415.2 519.5L405.2 508.3Z" fill="#6e6a82"/>
<path d="M421.7 496.6L431.7 507.8L421.7 519.0L411.7 507.8Z" fill="#6e6a82"/>
<path d="M428.2 500.5L438.2 511.7L428.2 522.9L418.2 511.7Z" fill="#6e6a82"/>
<path d="M434.7 508.3L444.7 519.5L434.7 530.7L424.7 519.5Z" fill="#6e6a82"/>
<path d="M441.3 516.9L451.3 528.1L441.3 539.3L431.3 528.1Z" fill="#6e6a82"/>
<path d="M447.8 523.8L457.8 535.0L447.8 546.2L437.8 535.0Z" fill="#6e6a82"/>
<path d="M454.3 531.6L464.3 542.8L454.3 554.0L444.3 542.8Z" fill="#6e6a82"/>
<path d="M460.8 541.5L470.8 552.7L460.8 563.9L450.8 552.7Z" fill="#6e6a82"/>
<path d="M467.3 546.6L477.3 557.8L467.3 569.0L457.3 557.8Z" fill="#6e6a82"/>
<path d="M473.9 554.0L483.9 565.2L473.9 576.4L463.9 565.2Z" fill="#6e6a82"/>
<path d="M480.4 558.4L490.4 569.6L480.4 580.8L470.4 569.6Z" fill="#6e6a82"/>
<path d="M486.9 566.3L496.9 577.5L486.9 588.7L476.9 577.5Z" fill="#6e6a82"/>
<path d="M493.4 576.3L503.4 587.5L493.4 598.7L483.4 587.5Z" fill="#6e6a82"/>
<path d="M499.9 583.1L509.9 594.3L499.9 605.5L489.9 594.3Z" fill="#6e6a82"/>
<path d="M506.4 586.6L516.4 597.8L506.4 609.0L496.4 597.8Z" fill="#6e6a82"/>
<path d="M513.0 592.7L523.0 603.9L513.0 615.1L503.0 603.9Z" fill="#6e6a82"/>
<path d="M519.5 595.1L529.5 606.3L519.5 617.5L509.5 606.3Z" fill="#6e6a82"/>
<path d="M526.0 591.3L536.0 602.5L526.0 613.7L516.0 602.5Z" fill="#6e6a82"/>
<path d="M530.4 593.6L540.4 604.8L530.4 616.0L520.4 604.8Z" fill="#6e6a82"/>
<path d="M538.4 564.8L548.4 576.0L538.4 587.2L528.4 576.0Z" fill="#6e6a82"/>
<path d="M546.4 547.2L556.4 558.4L546.4 569.6L536.4 558.4Z" fill="#6e6a82"/>
<path d="M555.2 500.0L565.2 511.2L555.2 522.4L545.2 511.2Z" fill="#6e6a82"/>
<path d="M563.5 455.8L573.5 467.0L563.5 478.2L553.5 467.0Z" fill="#6e6a82"/>
<path d="M571.2 409.6L581.2 420.8L571.2 432.0L561.2 420.8Z" fill="#6e6a82"/>
<path d="M582.0 358.8L592.0 370.0L582.0 381.2L572.0 370.0Z" fill="#6e6a82"/>
<path d="M588.0 324.8L598.0 336.0L588.0 347.2L578.0 336.0Z" fill="#6e6a82"/>
<path d="M598.0 290.8L608.0 302.0L598.0 313.2L588.0 302.0Z" fill="#6e6a82"/>
<path d="M610.0 264.8L620.0 276.0L610.0 287.2L600.0 276.0Z" fill="#6e6a82"/>
<path d="M618.0 242.8L628.0 254.0L618.0 265.2L608.0 254.0Z" fill="#6e6a82"/>
<path d="M627.0 221.8L637.0 233.0L627.0 244.2L617.0 233.0Z" fill="#6e6a82"/>
<path d="M632.0 204.8L642.0 216.0L632.0 227.2L622.0 216.0Z" fill="#6e6a82"/>
<path d="M642.0 186.8L652.0 198.0L642.0 209.2L632.0 198.0Z" fill="#6e6a82"/>
<path d="M651.0 173.8L661.0 185.0L651.0 196.2L641.0 185.0Z" fill="#6e6a82"/>
<path d="M660.0 160.8L670.0 172.0L660.0 183.2L650.0 172.0Z" fill="#6e6a82"/>
<path d="M672.0 147.1L682.0 158.3L672.0 169.5L662.0 158.3Z" fill="#6e6a82"/>
<path d="M684.1 132.8L694.1 143.9L684.1 155.1L674.1 143.9Z" fill="#6e6a82"/>
<path d="M696.2 128.6L706.2 139.8L696.2 151.0L686.2 139.8Z" fill="#6e6a82"/>
<path d="M708.4 127.6L718.4 138.8L708.4 150.0L698.4 138.8Z" fill="#6e6a82"/>
<path d="M720.5 127.0L730.5 138.2L720.5 149.4L710.5 138.2Z" fill="#6e6a82"/>
<path d="M732.6 128.0L742.6 139.2L732.6 150.4L722.6 139.2Z" fill="#6e6a82"/>
<path d="M744.8 128.5L754.8 139.7L744.8 150.9L734.8 139.7Z" fill="#6e6a82"/>
<path d="M756.9 127.1L766.9 138.3L756.9 149.5L746.9 138.3Z" fill="#6e6a82"/>
<path d="M769.0 132.8L779.0 144.0L769.0 155.2L759.0 144.0Z" fill="#6e6a82"/>
<path d="M781.1 139.4L791.1 150.6L781.1 161.8L771.1 150.6Z" fill="#6e6a82"/>
<path d="M793.2 143.4L803.2 154.6L793.2 165.8L783.2 154.6Z" fill="#6e6a82"/>
<path d="M805.4 149.9L815.4 161.1L805.4 172.3L795.4 161.1Z" fill="#6e6a82"/>
<path d="M817.5 157.3L827.5 168.5L817.5 179.7L807.5 168.5Z" fill="#6e6a82"/>
<path d="M829.6 163.4L839.6 174.6L829.6 185.8L819.6 174.6Z" fill="#6e6a82"/>
<path d="M841.8 163.9L851.8 175.1L841.8 186.3L831.8 175.1Z" fill="#6e6a82"/>
<path d="M853.9 157.2L863.9 168.4L853.9 179.6L843.9 168.4Z" fill="#6e6a82"/>
<path d="M866.0 152.0L876.0 163.2L866.0 174.4L856.0 163.2Z" fill="#6e6a82"/>
<path d="M878.1 147.6L888.1 158.8L878.1 170.0L868.1 158.8Z" fill="#6e6a82"/>
<path d="M890.2 146.3L900.2 157.5L890.2 168.7L880.2 157.5Z" fill="#6e6a82"/>
<path d="M902.4 145.0L912.4 156.2L902.4 167.4L892.4 156.2Z" fill="#6e6a82"/>
<path d="M914.5 140.5L924.5 151.7L914.5 162.9L904.5 151.7Z" fill="#6e6a82"/>
<path d="M926.6 135.4L936.6 146.6L926.6 157.8L916.6 146.6Z" fill="#6e6a82"/>
<path d="M938.8 130.9L948.8 142.1L938.8 153.3L928.8 142.1Z" fill="#6e6a82"/>
<path d="M950.9 126.8L960.9 138.0L950.9 149.2L940.9 138.0Z" fill="#6e6a82"/>
<path d="M963.0 122.8L973.0 134.0L963.0 145.2L953.0 134.0Z" fill="#6e6a82"/>
<path d="M174.0 491.3L181.8 496.1L181.8 505.9L174.0 510.8L166.2 505.9L166.2 496.1Z" fill="#000000"/>
<path d="M179.0 491.0L186.8 495.9L186.8 505.6L179.0 510.5L171.3 505.6L171.3 495.9Z" fill="#000000"/>
<path d="M184.0 492.8L191.8 497.7L191.8 507.4L184.0 512.3L176.3 507.4L176.3 497.7Z" fill="#000000"/>
<path d="M189.0 490.3L196.8 495.2L196.8 505.0L189.0 509.8L181.3 505.0L181.3 495.2Z" fill="#000000"/>
<path d="M194.1 485.9L201.8 490.8L201.8 500.6L194.1 505.4L186.3 500.6L186.3 490.8Z" fill="#000000"/>
<path d="M199.1 487.4L206.8 492.3L206.8 502.0L199.1 506.9L191.3 502.0L191.3 492.3Z" fill="#000000"/>
<path d="M204.1 485.6L211.8 490.5L211.8 500.3L204.1 505.1L196.3 500.3L196.3 490.5Z" fill="#000000"/>
<path d="M209.1 486.0L216.9 490.8L216.9 500.6L209.1 505.5L201.4 500.6L201.4 490.8Z" fill="#000000"/>
<path d="M214.1 482.5L221.9 487.4L221.9 497.1L214.1 502.0L206.4 497.1L206.4 487.4Z" fill="#000000"/>
<path d="M219.1 484.4L226.9 489.3L226.9 499.0L219.1 503.9L211.4 499.0L211.4 489.3Z" fill="#000000"/>
<path d="M224.1 483.6L231.9 488.5L231.9 498.2L224.1 503.1L216.4 498.2L216.4 488.5Z" fill="#000000"/>
<path d="M229.2 484.8L236.9 489.6L236.9 499.4L229.2 504.3L221.4 499.4L221.4 489.6Z" fill="#000000"/>
<path d="M234.2 482.1L241.9 487.0L241.9 496.7L234.2 501.6L226.4 496.7L226.4 487.0Z" fill="#000000"/>
<path d="M239.2 481.6L246.9 486.5L246.9 496.3L239.2 501.1L231.4 496.3L231.4 486.5Z" fill="#000000"/>
<path d="M244.2 477.9L252.0 482.8L252.0 492.5L244.2 497.4L236.5 492.5L236.5 482.8Z" fill="#000000"/>
<path d="M249.2 482.7L257.0 487.6L257.0 497.4L249.2 502.2L241.5 497.4L241.5 487.6Z" fill="#000000"/>
<path d="M254.2 475.1L262.0 479.9L262.0 489.7L254.2 494.6L246.5 489.7L246.5 479.9Z" fill="#000000"/>
<path d="M259.2 478.0L267.0 482.9L267.0 492.6L259.2 497.5L251.5 492.6L251.5 482.9Z" fill="#000000"/>
<path d="M264.3 474.3L272.0 479.2L272.0 488.9L264.3 493.8L256.5 488.9L256.5 479.2Z" fill="#000000"/>
<path d="M269.3 472.5L277.0 477.4L277.0 487.1L269.3 492.0L261.5 487.1L261.5 477.4Z" fill="#000000"/>
<path d="M274.3 472.2L282.0 477.1L282.0 486.9L274.3 491.7L266.5 486.9L266.5 477.1Z" fill="#000000"/>
<path d="M279.3 471.6L287.1 476.5L287.1 486.2L279.3 491.1L271.6 486.2L271.6 476.5Z" fill="#000000"/>
<path d="M284.3 472.5L292.1 477.4L292.1 487.2L284.3 492.0L276.6 487.2L276.6 477.4Z" fill="#000000"/>
<path d="M289.3 471.2L297.1 476.0L297.1 485.8L289.3 490.7L281.6 485.8L281.6 476.0Z" fill="#000000"/>
<path d="M294.3 472.9L302.1 477.8L302.1 487.6L294.3 492.4L286.6 487.6L286.6 477.8Z" fill="#000000"/>
<path d="M299.4 467.2L307.1 472.0L307.1 481.8L299.4 486.7L291.6 481.8L291.6 472.0Z" fill="#000000"/>
<path d="M304.4 468.7L312.1 473.5L312.1 483.3L304.4 488.2L296.6 483.3L296.6 473.5Z" fill="#000000"/>
<path d="M309.4 466.1L317.1 470.9L317.1 480.7L309.4 485.6L301.6 480.7L301.6 470.9Z" fill="#000000"/>
<path d="M314.4 467.1L322.2 472.0L322.2 481.7L314.4 486.6L306.7 481.7L306.7 472.0Z" fill="#000000"/>
<path d="M319.4 461.2L327.2 466.1L327.2 475.9L319.4 480.7L311.7 475.9L311.7 466.1Z" fill="#000000"/>
<path d="M324.4 462.4L332.2 467.3L332.2 477.0L324.4 481.9L316.7 477.0L316.7 467.3Z" fill="#000000"/>
<path d="M329.4 461.7L337.2 466.6L337.2 476.4L329.4 481.2L321.7 476.4L321.7 466.6Z" fill="#000000"/>
<path d="M334.5 457.7L342.2 462.6L342.2 472.3L334.5 477.2L326.7 472.3L326.7 462.6Z" fill="#000000"/>
<path d="M339.5 459.9L347.2 464.8L347.2 474.5L339.5 479.4L331.7 474.5L331.7 464.8Z" fill="#000000"/>
<path d="M344.5 455.4L352.2 460.2L352.2 470.0L344.5 474.9L336.7 470.0L336.7 460.2Z" fill="#000000"/>
<path d="M349.5 453.1L357.3 458.0L357.3 467.7L349.5 472.6L341.8 467.7L341.8 458.0Z" fill="#000000"/>
<path d="M354.5 449.5L362.3 454.4L362.3 464.1L354.5 469.0L346.8 464.1L346.8 454.4Z" fill="#000000"/>
<path d="M359.5 443.1L367.3 448.0L367.3 457.7L359.5 462.6L351.8 457.7L351.8 448.0Z" fill="#000000"/>
<path d="M364.6 440.8L372.3 445.7L372.3 455.4L364.6 460.3L356.8 455.4L356.8 445.7Z" fill="#000000"/>
<path d="M369.6 439.2L377.3 444.0L377.3 453.8L369.6 458.7L361.8 453.8L361.8 444.0Z" fill="#000000"/>
<path d="M374.6 438.1L382.3 443.0L382.3 452.7L374.6 457.6L366.8 452.7L366.8 443.0Z" fill="#000000"/>
<path d="M379.6 435.7L387.3 440.6L387.3 450.4L379.6 455.2L371.8 450.4L371.8 440.6Z" fill="#000000"/>
<path d="M384.6 431.8L392.4 436.7L392.4 446.4L384.6 451.3L376.9 446.4L376.9 436.7Z" fill="#000000"/>
<path d="M389.6 430.5L397.4 435.3L397.4 445.1L389.6 450.0L381.9 445.1L381.9 435.3Z" fill="#000000"/>
<path d="M394.6 428.7L402.4 433.5L402.4 443.3L394.6 448.2L386.9 443.3L386.9 433.5Z" fill="#000000"/>
<path d="M399.7 427.5L407.4 432.4L407.4 442.1L399.7 447.0L391.9 442.1L391.9 432.4Z" fill="#000000"/>
<path d="M404.7 426.7L412.4 431.6L412.4 441.4L404.7 446.2L396.9 441.4L396.9 431.6Z" fill="#000000"/>
<path d="M409.7 425.6L417.4 430.5L417.4 440.3L409.7 445.1L401.9 440.3L401.9 430.5Z" fill="#000000"/>
<path d="M414.7 427.7L422.4 432.5L422.4 442.3L414.7 447.2L406.9 442.3L406.9 432.5Z" fill="#000000"/>
<path d="M419.7 422.7L427.5 427.6L427.5 437.4L419.7 442.2L412.0 437.4L412.0 427.6Z" fill="#000000"/>
<path d="M424.7 422.1L432.5 426.9L432.5 436.7L424.7 441.6L417.0 436.7L417.0 426.9Z" fill="#000000"/>
<path d="M429.7 425.6L437.5 430.5L437.5 440.2L429.7 445.1L422.0 440.2L422.0 430.5Z" fill="#000000"/>
<path d="M434.8 427.1L442.5 431.9L442.5 441.7L434.8 446.6L427.0 441.7L427.0 431.9Z" fill="#000000"/>
<path d="M439.8 431.5L447.5 436.4L447.5 446.2L439.8 451.0L432.0 446.2L432.0 436.4Z" fill="#000000"/>
<path d="M444.8 435.5L452.5 440.3L452.5 450.1L444.8 455.0L437.0 450.1L437.0 440.3Z" fill="#000000"/>
<path d="M449.8 439.9L457.5 444.8L457.5 454.6L449.8 459.4L442.0 454.6L442.0 444.8Z" fill="#000000"/>
<path d="M454.8 442.1L462.6 447.0L462.6 456.8L454.8 461.6L447.1 456.8L447.1 447.0Z" fill="#000000"/>
<path d="M459.8 453.1L467.6 457.9L467.6 467.7L459.8 472.6L452.1 467.7L452.1 457.9Z" fill="#000000"/>
<path d="M464.8 457.4L472.6 462.3L472.6 472.0L464.8 476.9L457.1 472.0L457.1 462.3Z" fill="#000000"/>
<path d="M469.9 465.2L477.6 470.0L477.6 479.8L469.9 484.7L462.1 479.8L462.1 470.0Z" fill="#000000"/>
<path d="M474.9 473.4L482.6 478.3L482.6 488.0L474.9 492.9L467.1 488.0L467.1 478.3Z" fill="#000000"/>
<path d="M479.9 480.3L487.6 485.2L487.6 494.9L479.9 499.8L472.1 494.9L472.1 485.2Z" fill="#000000"/>
<path d="M484.9 487.8L492.6 492.7L492.6 502.4L484.9 507.3L477.1 502.4L477.1 492.7Z" fill="#000000"/>
<path d="M489.9 491.8L497.7 496.7L497.7 506.4L489.9 511.3L482.2 506.4L482.2 496.7Z" fill="#000000"/>
<path d="M494.9 496.8L502.7 501.7L502.7 511.5L494.9 516.3L487.2 511.5L487.2 501.7Z" fill="#000000"/>
<path d="M499.9 502.7L507.7 507.5L507.7 517.3L499.9 522.2L492.2 517.3L492.2 507.5Z" fill="#000000"/>
<path d="M505.0 503.2L512.7 508.1L512.7 517.9L505.0 522.7L497.2 517.9L497.2 508.1Z" fill="#000000"/>
<path d="M510.0 505.4L517.7 510.2L517.7 520.0L510.0 524.9L502.2 520.0L502.2 510.2Z" fill="#000000"/>
<path d="M515.0 495.5L522.7 500.4L522.7 510.1L515.0 515.0L507.2 510.1L507.2 500.4Z" fill="#000000"/>
<path d="M520.0 484.2L527.8 489.0L527.8 498.8L520.0 503.7L512.2 498.8L512.2 489.0Z" fill="#000000"/>
<path d="M528.0 475.1L535.8 479.9L535.8 489.7L528.0 494.6L520.2 489.7L520.2 479.9Z" fill="#000000"/>
<path d="M537.6 457.4L545.4 462.3L545.4 472.1L537.6 476.9L529.9 472.1L529.9 462.3Z" fill="#000000"/>
<path d="M546.4 431.9L554.1 436.7L554.1 446.5L546.4 451.4L538.6 446.5L538.6 436.7Z" fill="#000000"/>
<path d="M555.2 406.2L563.0 411.1L563.0 420.9L555.2 425.8L547.5 420.9L547.5 411.1Z" fill="#000000"/>
<path d="M563.2 375.9L571.0 380.7L571.0 390.5L563.2 395.4L555.5 390.5L555.5 380.7Z" fill="#000000"/>
<path d="M572.0 342.2L579.8 347.1L579.8 356.9L572.0 361.8L564.2 356.9L564.2 347.1Z" fill="#000000"/>
<path d="M580.8 311.9L588.5 316.7L588.5 326.5L580.8 331.4L573.0 326.5L573.0 316.7Z" fill="#000000"/>
<path d="M590.0 272.2L597.8 277.1L597.8 286.9L590.0 291.8L582.2 286.9L582.2 277.1Z" fill="#000000"/>
<path d="M597.0 243.2L604.8 248.1L604.8 257.9L597.0 262.8L589.2 257.9L589.2 248.1Z" fill="#000000"/>
<path d="M608.0 215.2L615.8 220.1L615.8 229.9L608.0 234.8L600.2 229.9L600.2 220.1Z" fill="#000000"/>
<path d="M617.0 191.2L624.8 196.1L624.8 205.9L617.0 210.8L609.2 205.9L609.2 196.1Z" fill="#000000"/>
<path d="M626.0 168.2L633.8 173.1L633.8 182.9L626.0 187.8L618.2 182.9L618.2 173.1Z" fill="#000000"/>
<path d="M636.0 150.2L643.8 155.1L643.8 164.9L636.0 169.8L628.2 164.9L628.2 155.1Z" fill="#000000"/>
<path d="M646.0 130.2L653.8 135.1L653.8 144.9L646.0 149.8L638.2 144.9L638.2 135.1Z" fill="#000000"/>
<path d="M656.0 114.2L663.8 119.1L663.8 128.9L656.0 133.8L648.2 128.9L648.2 119.1Z" fill="#000000"/>
<path d="M666.0 100.2L673.8 105.1L673.8 114.9L666.0 119.8L658.2 114.9L658.2 105.1Z" fill="#000000"/>
<path d="M676.0 85.2L683.8 90.1L683.8 99.9L676.0 104.8L668.2 99.9L668.2 90.1Z" fill="#000000"/>
<path d="M686.0 68.2L693.8 73.1L693.8 82.9L686.0 87.8L678.2 82.9L678.2 73.1Z" fill="#000000"/>
<path d="M696.0 52.2L703.8 57.1L703.8 66.9L696.0 71.8L688.2 66.9L688.2 57.1Z" fill="#000000"/>
<path d="M704.0 42.2L711.8 47.1L711.8 56.9L704.0 61.8L696.2 56.9L696.2 47.1Z" fill="#000000"/>
<path d="M716.0 35.2L723.8 40.1L723.8 49.9L716.0 54.8L708.2 49.9L708.2 40.1Z" fill="#000000"/>
<path d="M728.0 29.2L735.8 34.1L735.8 43.9L728.0 48.8L720.2 43.9L720.2 34.1Z" fill="#000000"/>
<path d="M740.0 26.2L747.8 31.1L747.8 40.9L740.0 45.8L732.2 40.9L732.2 31.1Z" fill="#000000"/>
<path d="M750.5 21.8L758.2 26.6L758.2 36.4L750.5 41.2L742.8 36.4L742.8 26.6Z" fill="#000000"/>
<path d="M764.0 11.2L771.8 16.1L771.8 25.9L764.0 30.8L756.2 25.9L756.2 16.1Z" fill="#000000"/>
<path d="M776.0 8.2L783.8 13.1L783.8 22.9L776.0 27.8L768.2 22.9L768.2 13.1Z" fill="#000000"/>
<path d="M788.0 3.8L795.8 8.6L795.8 18.4L788.0 23.2L780.2 18.4L780.2 8.6Z" fill="#000000"/>
<path d="M800.0 -0.8L807.8 4.1L807.8 13.9L800.0 18.8L792.2 13.9L792.2 4.1Z" fill="#000000"/>
<path d="M812.0 0.8L819.8 5.6L819.8 15.4L812.0 20.2L804.2 15.4L804.2 5.6Z" fill="#000000"/>
<path d="M824.0 3.8L831.8 8.6L831.8 18.4L824.0 23.2L816.2 18.4L816.2 8.6Z" fill="#000000"/>
<path d="M836.0 3.8L843.8 8.6L843.8 18.4L836.0 23.2L828.2 18.4L828.2 8.6Z" fill="#000000"/>
<path d="M920.0 3.8L927.8 8.6L927.8 18.4L920.0 23.2L912.2 18.4L912.2 8.6Z" fill="#000000"/>
<path d="M932.0 2.2L939.8 7.1L939.8 16.9L932.0 21.8L924.2 16.9L924.2 7.1Z" fill="#000000"/>
<ellipse cx="174.0" cy="446.2" rx="7.30" ry="8.60" fill="#ff0000"/>
<ellipse cx="180.0" cy="447.3" rx="7.30" ry="8.60" fill="#ff0000"/>
<ellipse cx="185.9" cy="448.8" rx="7.30" ry="8.60" fill="#ff0000"/>
<ellipse cx="191.9" cy="443.5" rx="7.30" ry="8.60" fill="#ff0000"/>
<ellipse cx="197.8" cy="438.3" rx="7.30" ry="8.60" fill="#ff0000"/>
<ellipse cx="203.8" cy="437.8" rx="7.30" ry="8.60" fill="#ff0000"/>
<ellipse cx="209.8" cy="441.3" rx="7.30" ry="8.60" fill="#ff0000"/>
<ellipse cx="215.7" cy="438.5" rx="7.30" ry="8.60" fill="#ff0000"/>
<ellipse cx="221.7" cy="437.3" rx="7.30" ry="8.60" fill="#ff0000"/>
<ellipse cx="227.6" cy="435.3" rx="7.30" ry="8.60" fill="#ff0000"/>
<ellipse cx="233.6" cy="431.0" rx="7.30" ry="8.60" fill="#ff0000"/>
<ellipse cx="239.6" cy="426.5" rx="7.30" ry="8.60" fill="#ff0000"/>
<ellipse cx="245.5" cy="423.8" rx="7.30" ry="8.60" fill="#ff0000"/>
<ellipse cx="251.5" cy="423.4" rx="7.30" ry="8.60" fill="#ff0000"/>
<ellipse cx="257.4" cy="419.0" rx="7.30" ry="8.60" fill="#ff0000"/>
<ellipse cx="263.4" cy="414.1" rx="7.30" ry="8.60" fill="#ff0000"/>
<ellipse cx="269.3" cy="412.5" rx="7.30" ry="8.60" fill="#ff0000"/>
<ellipse cx="275.3" cy="408.1" rx="7.30" ry="8.60" fill="#ff0000"/>
<ellipse cx="281.3" cy="405.3" rx="7.30" ry="8.60" fill="#ff0000"/>
<ellipse cx="287.2" cy="403.5" rx="7.30" ry="8.60" fill="#ff0000"/>
<ellipse cx="293.2" cy="401.9" rx="7.30" ry="8.60" fill="#ff0000"/>
<ellipse cx="299.1" cy="401.8" rx="7.30" ry="8.60" fill="#ff0000"/>
<ellipse cx="305.1" cy="400.7" rx="7.30" ry="8.60" fill="#ff0000"/>
<ellipse cx="311.1" cy="399.8" rx="7.30" ry="8.60" fill="#ff0000"/>
<ellipse cx="317.0" cy="400.5" rx="7.30" ry="8.60" fill="#ff0000"/>
<ellipse cx="323.0" cy="394.6" rx="7.30" ry="8.60" fill="#ff0000"/>
<ellipse cx="328.9" cy="384.7" rx="7.30" ry="8.60" fill="#ff0000"/>
<ellipse cx="334.9" cy="379.8" rx="7.30" ry="8.60" fill="#ff0000"/>
<ellipse cx="340.9" cy="373.2" rx="7.30" ry="8.60" fill="#ff0000"/>
<ellipse cx="346.8" cy="369.1" rx="7.30" ry="8.60" fill="#ff0000"/>
<ellipse cx="352.8" cy="365.6" rx="7.30" ry="8.60" fill="#ff0000"/>
<ellipse cx="358.7" cy="364.5" rx="7.30" ry="8.60" fill="#ff0000"/>
<ellipse cx="364.7" cy="363.2" rx="7.30" ry="8.60" fill="#ff0000"/>
<ellipse cx="370.7" cy="362.0" rx="7.30" ry="8.60" fill="#ff0000"/>
<ellipse cx="376.6" cy="360.3" rx="7.30" ry="8.60" fill="#ff0000"/>
<ellipse cx="382.6" cy="360.0" rx="7.30" ry="8.60" fill="#ff0000"/>
<ellipse cx="388.5" cy="360.0" rx="7.30" ry="8.60" fill="#ff0000"/>
<ellipse cx="394.5" cy="361.5" rx="7.30" ry="8.60" fill="#ff0000"/>
<ellipse cx="400.4" cy="364.9" rx="7.30" ry="8.60" fill="#ff0000"/>
<ellipse cx="406.4" cy="365.5" rx="7.30" ry="8.60" fill="#ff0000"/>
<ellipse cx="412.4" cy="370.1" rx="7.30" ry="8.60" fill="#ff0000"/>
<ellipse cx="418.3" cy="372.0" rx="7.30" ry="8.60" fill="#ff0000"/>
<ellipse cx="424.3" cy="370.0" rx="7.30" ry="8.60" fill="#ff0000"/>
<ellipse cx="430.2" cy="372.3" rx="7.30" ry="8.60" fill="#ff0000"/>
<ellipse cx="436.2" cy="370.9" rx="7.30" ry="8.60" fill="#ff0000"/>
<ellipse cx="442.2" cy="373.8" rx="7.30" ry="8.60" fill="#ff0000"/>
<ellipse cx="448.1" cy="378.8" rx="7.30" ry="8.60" fill="#ff0000"/>
<ellipse cx="454.1" cy="382.6" rx="7.30" ry="8.60" fill="#ff0000"/>
<ellipse cx="460.0" cy="391.9" rx="7.30" ry="8.60" fill="#ff0000"/>
<ellipse cx="466.0" cy="404.7" rx="7.30" ry="8.60" fill="#ff0000"/>
<ellipse cx="472.0" cy="418.0" rx="7.30" ry="8.60" fill="#ff0000"/>
<ellipse cx="483.0" cy="425.6" rx="7.30" ry="8.60" fill="#ff0000"/>
<ellipse cx="493.0" cy="440.0" rx="7.30" ry="8.60" fill="#ff0000"/>
<ellipse cx="501.0" cy="448.0" rx="7.30" ry="8.60" fill="#ff0000"/>
<ellipse cx="510.0" cy="451.0" rx="7.30" ry="8.60" fill="#ff0000"/>
<ellipse cx="518.0" cy="446.0" rx="7.30" ry="8.60" fill="#ff0000"/>
<ellipse cx="528.0" cy="435.0" rx="7.30" ry="8.60" fill="#ff0000"/>
<ellipse cx="536.0" cy="424.0" rx="7.30" ry="8.60" fill="#ff0000"/>
<ellipse cx="545.6" cy="401.6" rx="7.30" ry="8.60" fill="#ff0000"/>
<ellipse cx="556.8" cy="372.8" rx="7.30" ry="8.60" fill="#ff0000"/>
<ellipse cx="562.0" cy="345.0" rx="7.30" ry="8.60" fill="#ff0000"/>
<ellipse cx="570.0" cy="306.0" rx="7.30" ry="8.60" fill="#ff0000"/>
<ellipse cx="578.0" cy="272.0" rx="7.30" ry="8.60" fill="#ff0000"/>
<ellipse cx="590.0" cy="243.0" rx="7.30" ry="8.60" fill="#ff0000"/>
<ellipse cx="599.2" cy="217.3" rx="7.30" ry="8.60" fill="#ff0000"/>
<ellipse cx="608.3" cy="195.0" rx="7.30" ry="8.60" fill="#ff0000"/>
<ellipse cx="617.5" cy="168.5" rx="7.30" ry="8.60" fill="#ff0000"/>
<ellipse cx="626.7" cy="150.0" rx="7.30" ry="8.60" fill="#ff0000"/>
<ellipse cx="635.8" cy="137.0" rx="7.30" ry="8.60" fill="#ff0000"/>
<ellipse cx="645.0" cy="126.0" rx="7.30" ry="8.60" fill="#ff0000"/>
<ellipse cx="654.2" cy="108.9" rx="7.30" ry="8.60" fill="#ff0000"/>
<ellipse cx="663.3" cy="102.5" rx="7.30" ry="8.60" fill="#ff0000"/>
<ellipse cx="672.5" cy="95.8" rx="7.30" ry="8.60" fill="#ff0000"/>
<ellipse cx="681.7" cy="87.3" rx="7.30" ry="8.60" fill="#ff0000"/>
<ellipse cx="690.8" cy="81.7" rx="7.30" ry="8.60" fill="#ff0000"/>
<ellipse cx="700.0" cy="79.5" rx="7.30" ry="8.60" fill="#ff0000"/>
<ellipse cx="710.0" cy="78.1" rx="7.30" ry="8.60" fill="#ff0000"/>
<ellipse cx="722.1" cy="75.5" rx="7.30" ry="8.60" fill="#ff0000"/>
<ellipse cx="734.3" cy="72.7" rx="7.30" ry="8.60" fill="#ff0000"/>
<ellipse cx="746.4" cy="72.0" rx="7.30" ry="8.60" fill="#ff0000"/>
<ellipse cx="758.6" cy="72.0" rx="7.30" ry="8.60" fill="#ff0000"/>
<ellipse cx="770.7" cy="72.0" rx="7.30" ry="8.60" fill="#ff0000"/>
<ellipse cx="782.9" cy="72.0" rx="7.30" ry="8.60" fill="#ff0000"/>
<ellipse cx="795.0" cy="76.9" rx="7.30" ry="8.60" fill="#ff0000"/>
<ellipse cx="807.1" cy="86.7" rx="7.30" ry="8.60" fill="#ff0000"/>
<ellipse cx="819.3" cy="92.4" rx="7.30" ry="8.60" fill="#ff0000"/>
<ellipse cx="831.4" cy="95.9" rx="7.30" ry="8.60" fill="#ff0000"/>
<ellipse cx="843.6" cy="99.4" rx="7.30" ry="8.60" fill="#ff0000"/>
<ellipse cx="855.7" cy="100.6" rx="7.30" ry="8.60" fill="#ff0000"/>
<ellipse cx="867.9" cy="99.8" rx="7.30" ry="8.60" fill="#ff0000"/>
<ellipse cx="880.0" cy="99.0" rx="7.30" ry="8.60" fill="#ff0000"/>
<ellipse cx="892.1" cy="95.6" rx="7.30" ry="8.60" fill="#ff0000"/>
<ellipse cx="904.3" cy="92.2" rx="7.30" ry="8.60" fill="#ff0000"/>
<ellipse cx="916.4" cy="87.0" rx="7.30" ry="8.60" fill="#ff0000"/>
<ellipse cx="928.6" cy="81.7" rx="7.30" ry="8.60" fill="#ff0000"/>
<ellipse cx="940.7" cy="76.4" rx="7.30" ry="8.60" fill="#ff0000"/>
<ellipse cx="952.9" cy="70.8" rx="7.30" ry="8.60" fill="#ff0000"/>
<ellipse cx="965.0" cy="67.0" rx="7.30" ry="8.60" fill="#ff0000"/>
<rect x="166.6" y="539.2" width="14.8" height="16.8" fill="#00ff00"/>
<rect x="171.6" y="540.8" width="14.8" height="16.8" fill="#00ff00"/>
<rect x="176.6" y="529.8" width="14.8" height="16.8" fill="#00ff00"/>
<rect x="181.6" y="535.7" width="14.8" height="16.8" fill="#00ff00"/>
<rect x="186.7" y="538.4" width="14.8" height="16.8" fill="#00ff00"/>
<rect x="191.7" y="539.0" width="14.8" height="16.8" fill="#00ff00"/>
<rect x="196.7" y="537.0" width="14.8" height="16.8" fill="#00ff00"/>
<rect x="201.7" y="538.7" width="14.8" height="16.8" fill="#00ff00"/>
<rect x="206.7" y="535.4" width="14.8" height="16.8" fill="#00ff00"/>
<rect x="211.7" y="535.7" width="14.8" height="16.8" fill="#00ff00"/>
<rect x="216.8" y="534.4" width="14.8" height="16.8" fill="#00ff00"/>
<rect x="221.8" y="531.0" width="14.8" height="16.8" fill="#00ff00"/>
<rect x="226.8" y="531.9" width="14.8" height="16.8" fill="#00ff00"/>
<rect x="231.8" y="535.5" width="14.8" height="16.8" fill="#00ff00"/>
<rect x="236.8" y="533.6" width="14.8" height="16.8" fill="#00ff00"/>
<rect x="241.8" y="538.7" width="14.8" height="16.8" fill="#00ff00"/>
<rect x="246.9" y="539.3" width="14.8" height="16.8" fill="#00ff00"/>
<rect x="251.9" y="541.0" width="14.8" height="16.8" fill="#00ff00"/>
<rect x="256.9" y="534.7" width="14.8" height="16.8" fill="#00ff00"/>
<rect x="261.9" y="536.2" width="14.8" height="16.8" fill="#00ff00"/>
<rect x="266.9" y="525.8" width="14.8" height="16.8" fill="#00ff00"/>
<rect x="271.9" y="518.5" width="14.8" height="16.8" fill="#00ff00"/>
<rect x="277.0" y="512.2" width="14.8" height="16.8" fill="#00ff00"/>
<rect x="282.0" y="504.9" width="14.8" height="16.8" fill="#00ff00"/>
<rect x="287.0" y="495.2" width="14.8" height="16.8" fill="#00ff00"/>
<rect x="292.0" y="489.9" width="14.8" height="16.8" fill="#00ff00"/>
<rect x="297.0" y="489.7" width="14.8" height="16.8" fill="#00ff00"/>
<rect x="302.0" y="477.9" width="14.8" height="16.8" fill="#00ff00"/>
<rect x="307.1" y="474.3" width="14.8" height="16.8" fill="#00ff00"/>
<rect x="312.1" y="463.5" width="14.8" height="16.8" fill="#00ff00"/>
<rect x="317.1" y="456.8" width="14.8" height="16.8" fill="#00ff00"/>
<rect x="322.1" y="450.2" width="14.8" height="16.8" fill="#00ff00"/>
<rect x="327.1" y="445.7" width="14.8" height="16.8" fill="#00ff00"/>
<rect x="332.1" y="437.0" width="14.8" height="16.8" fill="#00ff00"/>
<rect x="337.2" y="434.0" width="14.8" height="16.8" fill="#00ff00"/>
<rect x="342.2" y="415.8" width="14.8" height="16.8" fill="#00ff00"/>
<rect x="347.2" y="411.4" width="14.8" height="16.8" fill="#00ff00"/>
<rect x="352.2" y="406.2" width="14.8" height="16.8" fill="#00ff00"/>
<rect x="357.2" y="408.4" width="14.8" height="16.8" fill="#00ff00"/>
<rect x="362.2" y="406.3" width="14.8" height="16.8" fill="#00ff00"/>
<rect x="367.3" y="403.4" width="14.8" height="16.8" fill="#00ff00"/>
<rect x="372.3" y="409.9" width="14.8" height="16.8" fill="#00ff00"/>
<rect x="377.3" y="403.4" width="14.8" height="16.8" fill="#00ff00"/>
<rect x="382.3" y="403.3" width="14.8" height="16.8" fill="#00ff00"/>
<rect x="387.3" y="399.9" width="14.8" height="16.8" fill="#00ff00"/>
<rect x="392.3" y="398.2" width="14.8" height="16.8" fill="#00ff00"/>
<rect x="397.4" y="391.4" width="14.8" height="16.8" fill="#00ff00"/>
<rect x="402.4" y="391.7" width="14.8" height="16.8" fill="#00ff00"/>
<rect x="407.4" y="388.3" width="14.8" height="16.8" fill="#00ff00"/>
<rect x="412.4" y="385.0" width="14.8" height="16.8" fill="#00ff00"/>
<rect x="417.4" y="392.1" width="14.8" height="16.8" fill="#00ff00"/>
<rect x="422.4" y="394.1" width="14.8" height="16.8" fill="#00ff00"/>
<rect x="427.5" y="390.0" width="14.8" height="16.8" fill="#00ff00"/>
<rect x="432.5" y="389.6" width="14.8" height="16.8" fill="#00ff00"/>
<rect x="437.5" y="389.9" width="14.8" height="16.8" fill="#00ff00"/>
<rect x="442.5" y="394.0" width="14.8" height="16.8" fill="#00ff00"/>
<rect x="447.5" y="398.3" width="14.8" height="16.8" fill="#00ff00"/>
<rect x="452.5" y="400.2" width="14.8" height="16.8" fill="#00ff00"/>
<rect x="457.6" y="396.8" width="14.8" height="16.8" fill="#00ff00"/>
<rect x="462.6" y="398.0" width="14.8" height="16.8" fill="#00ff00"/>
<rect x="467.6" y="398.9" width="14.8" height="16.8" fill="#00ff00"/>
<rect x="472.6" y="395.8" width="14.8" height="16.8" fill="#00ff00"/>
<rect x="477.4" y="398.0" width="14.8" height="16.8" fill="#00ff00"/>
<rect x="482.2" y="428.4" width="14.8" height="16.8" fill="#00ff00"/>
<rect x="514.2" y="442.8" width="14.8" height="16.8" fill="#00ff00"/>
<rect x="522.2" y="414.0" width="14.8" height="16.8" fill="#00ff00"/>
<rect x="530.2" y="390.0" width="14.8" height="16.8" fill="#00ff00"/>
<rect x="538.2" y="364.4" width="14.8" height="16.8" fill="#00ff00"/>
<rect x="547.8" y="335.6" width="14.8" height="16.8" fill="#00ff00"/>
<rect x="555.6" y="302.6" width="14.8" height="16.8" fill="#00ff00"/>
<rect x="564.6" y="268.6" width="14.8" height="16.8" fill="#00ff00"/>
<rect x="573.6" y="234.6" width="14.8" height="16.8" fill="#00ff00"/>
<rect x="582.6" y="207.6" width="14.8" height="16.8" fill="#00ff00"/>
<rect x="591.6" y="181.6" width="14.8" height="16.8" fill="#00ff00"/>
<rect x="600.6" y="157.6" width="14.8" height="16.8" fill="#00ff00"/>
<rect x="609.6" y="135.6" width="14.8" height="16.8" fill="#00ff00"/>
<rect x="618.6" y="121.6" width="14.8" height="16.8" fill="#00ff00"/>
<rect x="628.6" y="109.6" width="14.8" height="16.8" fill="#00ff00"/>
<rect x="637.6" y="93.6" width="14.8" height="16.8" fill="#00ff00"/>
<rect x="646.6" y="80.6" width="14.8" height="16.8" fill="#00ff00"/>
<rect x="656.6" y="68.6" width="14.8" height="16.8" fill="#00ff00"/>
<rect x="667.6" y="61.6" width="14.8" height="16.8" fill="#00ff00"/>
<rect x="678.2" y="54.9" width="14.8" height="16.8" fill="#00ff00"/>
<rect x="688.8" y="58.6" width="14.8" height="16.8" fill="#00ff00"/>
<rect x="699.3" y="58.7" width="14.8" height="16.8" fill="#00ff00"/>
<rect x="709.9" y="60.4" width="14.8" height="16.8" fill="#00ff00"/>
<rect x="720.5" y="55.6" width="14.8" height="16.8" fill="#00ff00"/>
<rect x="731.1" y="55.6" width="14.8" height="16.8" fill="#00ff00"/>
<rect x="741.6" y="60.1" width="14.8" height="16.8" fill="#00ff00"/>
<rect x="752.2" y="60.2" width="14.8" height="16.8" fill="#00ff00"/>
<rect x="762.8" y="62.9" width="14.8" height="16.8" fill="#00ff00"/>
<rect x="773.4" y="67.7" width="14.8" height="16.8" fill="#00ff00"/>
<rect x="783.9" y="74.9" width="14.8" height="16.8" fill="#00ff00"/>
<rect x="794.5" y="84.3" width="14.8" height="16.8" fill="#00ff00"/>
<rect x="805.1" y="92.6" width="14.8" height="16.8" fill="#00ff00"/>
<rect x="815.7" y="93.0" width="14.8" height="16.8" fill="#00ff00"/>
<rect x="826.3" y="101.6" width="14.8" height="16.8" fill="#00ff00"/>
<rect x="836.8" y="107.9" width="14.8" height="16.8" fill="#00ff00"/>
<rect x="847.4" y="111.7" width="14.8" height="16.8" fill="#00ff00"/>
<rect x="858.0" y="113.1" width="14.8" height="16.8" fill="#00ff00"/>
<rect x="868.6" y="111.3" width="14.8" height="16.8" fill="#00ff00"/>
<rect x="879.1" y="119.2" width="14.8" height="16.8" fill="#00ff00"/>
<rect x="889.7" y="128.7" width="14.8" height="16.8" fill="#00ff00"/>
<rect x="900.3" y="131.7" width="14.8" height="16.8" fill="#00ff00"/>
<rect x="910.9" y="121.7" width="14.8" height="16.8" fill="#00ff00"/>
<rect x="921.4" y="147.4" width="14.8" height="16.8" fill="#00ff00"/>
<rect x="932.0" y="159.8" width="14.8" height="16.8" fill="#00ff00"/>
<rect x="942.6" y="160.8" width="14.8" height="16.8" fill="#00ff00"/>
<rect x="492.2" y="548.6" width="14.8" height="16.8" fill="#00ff00"/>
<rect x="505.6" y="542.6" width="14.8" height="16.8" fill="#00ff00"/>
<rect x="498.2" y="509.6" width="14.8" height="16.8" fill="#00ff00"/>
<ellipse cx="750.6" cy="549.0" rx="7.30" ry="8.60" fill="#800080"/>
<ellipse cx="761.6" cy="488.0" rx="7.30" ry="8.60" fill="#800080"/>
<ellipse cx="784.0" cy="420.0" rx="7.30" ry="8.60" fill="#800080"/>
<ellipse cx="797.6" cy="422.0" rx="7.30" ry="8.60" fill="#800080"/>
<ellipse cx="809.6" cy="392.0" rx="7.30" ry="8.60" fill="#800080"/>
<ellipse cx="822.8" cy="379.0" rx="7.30" ry="8.60" fill="#800080"/>
<ellipse cx="875.6" cy="318.0" rx="7.30" ry="8.60" fill="#800080"/>
<ellipse cx="905.0" cy="286.0" rx="7.30" ry="8.60" fill="#800080"/>
<ellipse cx="933.0" cy="268.0" rx="7.30" ry="8.60" fill="#800080"/>
<ellipse cx="949.0" cy="268.0" rx="7.30" ry="8.60" fill="#800080"/>
<ellipse cx="962.0" cy="255.0" rx="7.30" ry="8.60" fill="#800080"/>
<rect x="743.2" y="538.6" width="14.8" height="16.8" fill="#008080"/>
<rect x="755.4" y="465.6" width="14.8" height="16.8" fill="#008080"/>
<rect x="767.4" y="458.6" width="14.8" height="16.8" fill="#008080"/>
<rect x="779.4" y="416.6" width="14.8" height="16.8" fill="#008080"/>
<rect x="791.4" y="406.6" width="14.8" height="16.8" fill="#008080"/>
<rect x="803.4" y="379.6" width="14.8" height="16.8" fill="#008080"/>
<rect x="815.4" y="355.6" width="14.8" height="16.8" fill="#008080"/>
<rect x="828.6" y="351.6" width="14.8" height="16.8" fill="#008080"/>
<rect x="841.8" y="331.6" width="14.8" height="16.8" fill="#008080"/>
<rect x="857.4" y="309.6" width="14.8" height="16.8" fill="#008080"/>
<rect x="869.4" y="298.6" width="14.8" height="16.8" fill="#008080"/>
<rect x="884.2" y="287.6" width="14.8" height="16.8" fill="#008080"/>
<rect x="897.2" y="256.6" width="14.8" height="16.8" fill="#008080"/>
<rect x="912.6" y="263.6" width="14.8" height="16.8" fill="#008080"/>
<rect x="925.6" y="222.6" width="14.8" height="16.8" fill="#008080"/>
<rect x="941.6" y="243.6" width="14.8" height="16.8" fill="#008080"/>
<rect x="955.6" y="233.6" width="14.8" height="16.8" fill="#008080"/>
<rect x="955.6" y="216.6" width="14.8" height="16.8" fill="#00ff00"/>
<path d="M787.0 572.1L794.8 588.6L779.2 588.6Z" fill="#800000"/>
<path d="M810.8 460.1L818.5 476.6L803.0 476.6Z" fill="#800000"/>
<path d="M824.0 420.1L831.8 436.6L816.2 436.6Z" fill="#800000"/>
<path d="M836.0 391.1L843.8 407.6L828.2 407.6Z" fill="#800000"/>
<path d="M849.2 375.1L857.0 391.6L841.5 391.6Z" fill="#800000"/>
<path d="M878.0 322.1L885.8 338.6L870.2 338.6Z" fill="#800000"/>
<path d="M890.0 334.1L897.8 350.6L882.2 350.6Z" fill="#800000"/>
<path d="M908.0 310.1L915.8 326.6L900.2 326.6Z" fill="#800000"/>
<path d="M933.0 284.1L940.8 300.6L925.2 300.6Z" fill="#800000"/>
<path d="M963.0 276.1L970.8 292.6L955.2 292.6Z" fill="#800000"/>
<path d="M774.0 578.2L781.8 583.1L781.8 592.9L774.0 597.8L766.2 592.9L766.2 583.1Z" fill="#000080"/>
<path d="M787.0 535.2L794.8 540.1L794.8 549.9L787.0 554.8L779.2 549.9L779.2 540.1Z" fill="#000080"/>
<path d="M798.8 486.2L806.5 491.1L806.5 500.9L798.8 505.8L791.0 500.9L791.0 491.1Z" fill="#000080"/>
<path d="M810.8 446.2L818.5 451.1L818.5 460.9L810.8 465.8L803.0 460.9L803.0 451.1Z" fill="#000080"/>
<path d="M824.0 402.2L831.8 407.1L831.8 416.9L824.0 421.8L816.2 416.9L816.2 407.1Z" fill="#000080"/>
<path d="M837.2 399.2L845.0 404.1L845.0 413.9L837.2 418.8L829.5 413.9L829.5 404.1Z" fill="#000080"/>
<path d="M849.2 357.2L857.0 362.1L857.0 371.9L849.2 376.8L841.5 371.9L841.5 362.1Z" fill="#000080"/>
<path d="M864.8 355.2L872.5 360.1L872.5 369.9L864.8 374.8L857.0 369.9L857.0 360.1Z" fill="#000080"/>
<path d="M876.8 316.2L884.5 321.1L884.5 330.9L876.8 335.8L869.0 330.9L869.0 321.1Z" fill="#000080"/>
<path d="M890.0 314.2L897.8 319.1L897.8 328.9L890.0 333.8L882.2 328.9L882.2 319.1Z" fill="#000080"/>
<path d="M917.6 295.2L925.4 300.1L925.4 309.9L917.6 314.8L909.9 309.9L909.9 300.1Z" fill="#000080"/>
<path d="M933.2 300.2L941.0 305.1L941.0 314.9L933.2 319.8L925.5 314.9L925.5 305.1Z" fill="#000080"/>
<path d="M949.0 276.2L956.8 281.1L956.8 290.9L949.0 295.8L941.2 290.9L941.2 281.1Z" fill="#000080"/>
<path d="M963.0 258.2L970.8 263.1L970.8 272.9L963.0 277.8L955.2 272.9L955.2 263.1Z" fill="#000080"/>
<rect x="816.2" y="637.6" width="14.8" height="16.8" fill="#c8c8c8"/>
<rect x="828.6" y="508.6" width="14.8" height="16.8" fill="#c8c8c8"/>
<rect x="829.1" y="512.6" width="14.8" height="16.8" fill="#c8c8c8"/>
<rect x="841.8" y="439.6" width="14.8" height="16.8" fill="#c8c8c8"/>
<rect x="856.2" y="395.6" width="14.8" height="16.8" fill="#c8c8c8"/>
<rect x="869.4" y="376.6" width="14.8" height="16.8" fill="#c8c8c8"/>
<rect x="882.6" y="359.6" width="14.8" height="16.8" fill="#c8c8c8"/>
<rect x="898.2" y="351.6" width="14.8" height="16.8" fill="#c8c8c8"/>
<rect x="911.4" y="311.6" width="14.8" height="16.8" fill="#c8c8c8"/>
<rect x="925.8" y="320.6" width="14.8" height="16.8" fill="#c8c8c8"/>
<rect x="941.4" y="287.6" width="14.8" height="16.8" fill="#c8c8c8"/>
<rect x="955.8" y="293.6" width="14.8" height="16.8" fill="#c8c8c8"/>
<path d="M797.8 604.8L807.8 616.0L797.8 627.2L787.8 616.0Z" fill="#808000"/>
<path d="M810.8 535.8L820.8 547.0L810.8 558.2L800.8 547.0Z" fill="#808000"/>
<path d="M824.0 472.8L834.0 484.0L824.0 495.2L814.0 484.0Z" fill="#808000"/>
<path d="M837.2 478.8L847.2 490.0L837.2 501.2L827.2 490.0Z" fill="#808000"/>
<path d="M849.2 425.8L859.2 437.0L849.2 448.2L839.2 437.0Z" fill="#808000"/>
<path d="M860.0 413.8L870.0 425.0L860.0 436.2L850.0 425.0Z" fill="#808000"/>
<path d="M876.8 336.8L886.8 348.0L876.8 359.2L866.8 348.0Z" fill="#808000"/>
<path d="M890.0 350.8L900.0 362.0L890.0 373.2L880.0 362.0Z" fill="#808000"/>
<path d="M904.4 367.8L914.4 379.0L904.4 390.2L894.4 379.0Z" fill="#808000"/>
<path d="M918.8 340.8L928.8 352.0L918.8 363.2L908.8 352.0Z" fill="#808000"/>
<path d="M933.2 346.8L943.2 358.0L933.2 369.2L923.2 358.0Z" fill="#808000"/>
<path d="M947.6 348.8L957.6 360.0L947.6 371.2L937.6 360.0Z" fill="#808000"/>
<path d="M963.2 332.8L973.2 344.0L963.2 355.2L953.2 344.0Z" fill="#808000"/>
<path d="M849.2 473.9L857.5 457.4L841.0 457.4Z" fill="#008000"/>
<path d="M862.4 395.9L870.6 379.4L854.1 379.4Z" fill="#008000"/>
<path d="M875.6 343.9L883.9 327.4L867.4 327.4Z" fill="#008000"/>
<path d="M889.0 292.9L897.2 276.4L880.8 276.4Z" fill="#008000"/>
<path d="M902.0 264.9L910.2 248.4L893.8 248.4Z" fill="#008000"/>
<path d="M917.6 240.9L925.9 224.4L909.4 224.4Z" fill="#008000"/>
<path d="M933.2 220.9L941.5 204.4L925.0 204.4Z" fill="#008000"/>
<path d="M947.5 195.9L955.8 179.4L939.2 179.4Z" fill="#008000"/>
<path d="M963.0 173.9L971.2 157.4L954.8 157.4Z" fill="#008000"/>
</g>
<g clip-path="url(#cb)" stroke="#000" stroke-width="1.5" stroke-linejoin="miter">
<ellipse cx="456.0" cy="1417.0" rx="7.30" ry="8.60" fill="#000000"/>
<ellipse cx="469.0" cy="1387.0" rx="7.30" ry="8.60" fill="#000000"/>
<ellipse cx="482.0" cy="1365.0" rx="7.30" ry="8.60" fill="#000000"/>
<ellipse cx="496.0" cy="1340.0" rx="7.30" ry="8.60" fill="#000000"/>
<ellipse cx="509.0" cy="1320.0" rx="7.30" ry="8.60" fill="#000000"/>
<ellipse cx="522.0" cy="1308.0" rx="7.30" ry="8.60" fill="#000000"/>
<ellipse cx="536.0" cy="1300.0" rx="7.30" ry="8.60" fill="#000000"/>
<ellipse cx="550.0" cy="1286.0" rx="7.30" ry="8.60" fill="#000000"/>
<ellipse cx="563.0" cy="1269.0" rx="7.30" ry="8.60" fill="#000000"/>
<ellipse cx="578.0" cy="1251.0" rx="7.30" ry="8.60" fill="#000000"/>
<ellipse cx="593.0" cy="1236.0" rx="7.30" ry="8.60" fill="#000000"/>
<ellipse cx="608.0" cy="1227.0" rx="7.30" ry="8.60" fill="#000000"/>
<ellipse cx="623.0" cy="1215.0" rx="7.30" ry="8.60" fill="#000000"/>
<ellipse cx="638.0" cy="1201.5" rx="7.30" ry="8.60" fill="#000000"/>
<ellipse cx="654.5" cy="1191.0" rx="7.30" ry="8.60" fill="#000000"/>
<ellipse cx="671.0" cy="1177.5" rx="7.30" ry="8.60" fill="#000000"/>
<ellipse cx="686.0" cy="1164.0" rx="7.30" ry="8.60" fill="#000000"/>
<ellipse cx="702.5" cy="1137.0" rx="7.30" ry="8.60" fill="#000000"/>
<ellipse cx="719.0" cy="1125.0" rx="7.30" ry="8.60" fill="#000000"/>
<ellipse cx="734.0" cy="1116.0" rx="7.30" ry="8.60" fill="#000000"/>
<ellipse cx="755.0" cy="1091.0" rx="7.30" ry="8.60" fill="#000000"/>
<ellipse cx="773.0" cy="1074.0" rx="7.30" ry="8.60" fill="#000000"/>
<ellipse cx="791.0" cy="1056.0" rx="7.30" ry="8.60" fill="#000000"/>
<ellipse cx="810.0" cy="1038.0" rx="7.30" ry="8.60" fill="#000000"/>
<ellipse cx="829.0" cy="1020.0" rx="7.30" ry="8.60" fill="#000000"/>
<ellipse cx="848.0" cy="1003.0" rx="7.30" ry="8.60" fill="#000000"/>
<ellipse cx="867.0" cy="985.0" rx="7.30" ry="8.60" fill="#000000"/>
<ellipse cx="886.5" cy="952.5" rx="7.30" ry="8.60" fill="#000000"/>
<ellipse cx="907.5" cy="930.0" rx="7.30" ry="8.60" fill="#000000"/>
<ellipse cx="928.5" cy="933.0" rx="7.30" ry="8.60" fill="#000000"/>
<ellipse cx="949.5" cy="931.5" rx="7.30" ry="8.60" fill="#000000"/>
<path d="M456.0 1432.1L463.8 1448.6L448.2 1448.6Z" fill="#00ff00"/>
<path d="M470.0 1380.1L477.8 1396.6L462.2 1396.6Z" fill="#00ff00"/>
<path d="M482.0 1361.1L489.8 1377.6L474.2 1377.6Z" fill="#00ff00"/>
<path d="M495.0 1339.1L502.8 1355.6L487.2 1355.6Z" fill="#00ff00"/>
<path d="M509.0 1323.1L516.8 1339.6L501.2 1339.6Z" fill="#00ff00"/>
<path d="M522.0 1305.1L529.8 1321.6L514.2 1321.6Z" fill="#00ff00"/>
<path d="M536.0 1288.1L543.8 1304.6L528.2 1304.6Z" fill="#00ff00"/>
<path d="M550.0 1273.1L557.8 1289.6L542.2 1289.6Z" fill="#00ff00"/>
<path d="M563.0 1256.1L570.8 1272.6L555.2 1272.6Z" fill="#00ff00"/>
<path d="M578.0 1238.1L585.8 1254.6L570.2 1254.6Z" fill="#00ff00"/>
<path d="M593.0 1226.1L600.8 1242.6L585.2 1242.6Z" fill="#00ff00"/>
<path d="M608.0 1214.1L615.8 1230.6L600.2 1230.6Z" fill="#00ff00"/>
<path d="M623.0 1202.1L630.8 1218.6L615.2 1218.6Z" fill="#00ff00"/>
<path d="M638.0 1186.1L645.8 1202.6L630.2 1202.6Z" fill="#00ff00"/>
<path d="M654.5 1172.1L662.2 1188.6L646.8 1188.6Z" fill="#00ff00"/>
<path d="M671.0 1161.1L678.8 1177.6L663.2 1177.6Z" fill="#00ff00"/>
<path d="M686.0 1143.1L693.8 1159.6L678.2 1159.6Z" fill="#00ff00"/>
<path d="M702.5 1115.1L710.2 1131.6L694.8 1131.6Z" fill="#00ff00"/>
<path d="M719.0 1097.1L726.8 1113.6L711.2 1113.6Z" fill="#00ff00"/>
<path d="M738.0 1080.1L745.8 1096.6L730.2 1096.6Z" fill="#00ff00"/>
<path d="M755.0 1060.1L762.8 1076.6L747.2 1076.6Z" fill="#00ff00"/>
<path d="M773.0 1040.1L780.8 1056.6L765.2 1056.6Z" fill="#00ff00"/>
<path d="M791.0 1024.1L798.8 1040.6L783.2 1040.6Z" fill="#00ff00"/>
<path d="M810.0 1005.1L817.8 1021.6L802.2 1021.6Z" fill="#00ff00"/>
<path d="M829.0 990.1L836.8 1006.6L821.2 1006.6Z" fill="#00ff00"/>
<path d="M848.0 965.1L855.8 981.6L840.2 981.6Z" fill="#00ff00"/>
<path d="M867.0 935.1L874.8 951.6L859.2 951.6Z" fill="#00ff00"/>
<path d="M886.5 876.6L894.2 893.1L878.8 893.1Z" fill="#00ff00"/>
<path d="M928.5 879.6L936.2 896.1L920.8 896.1Z" fill="#00ff00"/>
<rect x="400.6" y="1425.6" width="14.8" height="16.8" fill="#ff0000"/>
<rect x="424.6" y="1391.6" width="14.8" height="16.8" fill="#ff0000"/>
<rect x="436.6" y="1373.6" width="14.8" height="16.8" fill="#ff0000"/>
<rect x="449.6" y="1355.6" width="14.8" height="16.8" fill="#ff0000"/>
<rect x="462.6" y="1339.6" width="14.8" height="16.8" fill="#ff0000"/>
<rect x="475.6" y="1323.6" width="14.8" height="16.8" fill="#ff0000"/>
<rect x="488.6" y="1307.6" width="14.8" height="16.8" fill="#ff0000"/>
<rect x="501.6" y="1291.6" width="14.8" height="16.8" fill="#ff0000"/>
<rect x="514.6" y="1277.6" width="14.8" height="16.8" fill="#ff0000"/>
<rect x="528.6" y="1261.6" width="14.8" height="16.8" fill="#ff0000"/>
<rect x="542.1" y="1245.6" width="14.8" height="16.8" fill="#ff0000"/>
<rect x="555.6" y="1229.6" width="14.8" height="16.8" fill="#ff0000"/>
<rect x="570.6" y="1210.6" width="14.8" height="16.8" fill="#ff0000"/>
<rect x="585.6" y="1195.6" width="14.8" height="16.8" fill="#ff0000"/>
<rect x="600.6" y="1184.6" width="14.8" height="16.8" fill="#ff0000"/>
<rect x="615.6" y="1169.6" width="14.8" height="16.8" fill="#ff0000"/>
<rect x="630.6" y="1155.6" width="14.8" height="16.8" fill="#ff0000"/>
<rect x="647.1" y="1143.6" width="14.8" height="16.8" fill="#ff0000"/>
<rect x="663.6" y="1134.6" width="14.8" height="16.8" fill="#ff0000"/>
<rect x="678.6" y="1116.6" width="14.8" height="16.8" fill="#ff0000"/>
<rect x="695.6" y="1087.6" width="14.8" height="16.8" fill="#ff0000"/>
<rect x="712.6" y="1071.6" width="14.8" height="16.8" fill="#ff0000"/>
<rect x="730.6" y="1059.6" width="14.8" height="16.8" fill="#ff0000"/>
<rect x="747.6" y="1036.6" width="14.8" height="16.8" fill="#ff0000"/>
<rect x="765.6" y="1019.6" width="14.8" height="16.8" fill="#ff0000"/>
<rect x="783.6" y="1013.6" width="14.8" height="16.8" fill="#ff0000"/>
<rect x="802.6" y="993.6" width="14.8" height="16.8" fill="#ff0000"/>
<rect x="821.6" y="976.6" width="14.8" height="16.8" fill="#ff0000"/>
<rect x="840.6" y="941.1" width="14.8" height="16.8" fill="#ff0000"/>
<rect x="921.1" y="819.6" width="14.8" height="16.8" fill="#ff0000"/>
<path d="M385.4 1448.0L393.1 1452.9L393.1 1462.7L385.4 1467.5L377.6 1462.7L377.6 1452.9Z" fill="#ff00ff"/>
<path d="M396.0 1422.2L403.8 1427.1L403.8 1436.9L396.0 1441.8L388.2 1436.9L388.2 1427.1Z" fill="#ff00ff"/>
<path d="M407.0 1400.2L414.8 1405.1L414.8 1414.9L407.0 1419.8L399.2 1414.9L399.2 1405.1Z" fill="#ff00ff"/>
<path d="M419.0 1387.2L426.8 1392.1L426.8 1401.9L419.0 1406.8L411.2 1401.9L411.2 1392.1Z" fill="#ff00ff"/>
<path d="M495.5 1302.8L503.2 1307.6L503.2 1317.4L495.5 1322.2L487.8 1317.4L487.8 1307.6Z" fill="#ff00ff"/>
<path d="M509.0 1287.8L516.8 1292.6L516.8 1302.4L509.0 1307.2L501.2 1302.4L501.2 1292.6Z" fill="#ff00ff"/>
<path d="M522.5 1271.2L530.2 1276.1L530.2 1285.9L522.5 1290.8L514.8 1285.9L514.8 1276.1Z" fill="#ff00ff"/>
<path d="M536.0 1254.8L543.8 1259.6L543.8 1269.4L536.0 1274.2L528.2 1269.4L528.2 1259.6Z" fill="#ff00ff"/>
<path d="M549.5 1238.2L557.2 1243.1L557.2 1252.9L549.5 1257.8L541.8 1252.9L541.8 1243.1Z" fill="#ff00ff"/>
<path d="M563.0 1221.8L570.8 1226.6L570.8 1236.4L563.0 1241.2L555.2 1236.4L555.2 1226.6Z" fill="#ff00ff"/>
<path d="M578.0 1202.2L585.8 1207.1L585.8 1216.9L578.0 1221.8L570.2 1216.9L570.2 1207.1Z" fill="#ff00ff"/>
<path d="M593.0 1185.8L600.8 1190.6L600.8 1200.4L593.0 1205.2L585.2 1200.4L585.2 1190.6Z" fill="#ff00ff"/>
<path d="M608.0 1175.2L615.8 1180.1L615.8 1189.9L608.0 1194.8L600.2 1189.9L600.2 1180.1Z" fill="#ff00ff"/>
<path d="M623.0 1160.2L630.8 1165.1L630.8 1174.9L623.0 1179.8L615.2 1174.9L615.2 1165.1Z" fill="#ff00ff"/>
<path d="M638.0 1148.2L645.8 1153.1L645.8 1162.9L638.0 1167.8L630.2 1162.9L630.2 1153.1Z" fill="#ff00ff"/>
<path d="M654.5 1134.2L662.2 1139.1L662.2 1148.9L654.5 1153.8L646.8 1148.9L646.8 1139.1Z" fill="#ff00ff"/>
<path d="M671.0 1109.2L678.8 1114.1L678.8 1123.9L671.0 1128.8L663.2 1123.9L663.2 1114.1Z" fill="#ff00ff"/>
<path d="M773.0 999.2L780.8 1004.1L780.8 1013.9L773.0 1018.8L765.2 1013.9L765.2 1004.1Z" fill="#ff00ff"/>
<path d="M791.0 988.2L798.8 993.1L798.8 1002.9L791.0 1007.8L783.2 1002.9L783.2 993.1Z" fill="#ff00ff"/>
<path d="M907.5 819.8L915.2 824.6L915.2 834.4L907.5 839.2L899.8 834.4L899.8 824.6Z" fill="#ff00ff"/>
<path d="M420.0 1417.2L427.8 1422.1L427.8 1431.9L420.0 1436.8L412.2 1431.9L412.2 1422.1Z" fill="#000080"/>
<path d="M432.0 1384.2L439.8 1389.1L439.8 1398.9L432.0 1403.8L424.2 1398.9L424.2 1389.1Z" fill="#000080"/>
<path d="M444.0 1361.2L451.8 1366.1L451.8 1375.9L444.0 1380.8L436.2 1375.9L436.2 1366.1Z" fill="#000080"/>
<path d="M457.0 1343.2L464.8 1348.1L464.8 1357.9L457.0 1362.8L449.2 1357.9L449.2 1348.1Z" fill="#000080"/>
<path d="M470.0 1325.2L477.8 1330.1L477.8 1339.9L470.0 1344.8L462.2 1339.9L462.2 1330.1Z" fill="#000080"/>
<path d="M483.0 1308.2L490.8 1313.1L490.8 1322.9L483.0 1327.8L475.2 1322.9L475.2 1313.1Z" fill="#000080"/>
<path d="M496.0 1288.2L503.8 1293.1L503.8 1302.9L496.0 1307.8L488.2 1302.9L488.2 1293.1Z" fill="#000080"/>
<path d="M509.0 1271.2L516.8 1276.1L516.8 1285.9L509.0 1290.8L501.2 1285.9L501.2 1276.1Z" fill="#000080"/>
<path d="M522.5 1257.8L530.2 1262.6L530.2 1272.4L522.5 1277.2L514.8 1272.4L514.8 1262.6Z" fill="#000080"/>
<path d="M536.0 1241.2L543.8 1246.1L543.8 1255.9L536.0 1260.8L528.2 1255.9L528.2 1246.1Z" fill="#000080"/>
<path d="M551.0 1223.2L558.8 1228.1L558.8 1237.9L551.0 1242.8L543.2 1237.9L543.2 1228.1Z" fill="#000080"/>
<path d="M564.5 1205.2L572.2 1210.1L572.2 1219.9L564.5 1224.8L556.8 1219.9L556.8 1210.1Z" fill="#000080"/>
<path d="M578.0 1182.8L585.8 1187.6L585.8 1197.4L578.0 1202.2L570.2 1197.4L570.2 1187.6Z" fill="#000080"/>
<path d="M593.0 1173.8L600.8 1178.6L600.8 1188.4L593.0 1193.2L585.2 1188.4L585.2 1178.6Z" fill="#000080"/>
<path d="M608.0 1163.2L615.8 1168.1L615.8 1177.9L608.0 1182.8L600.2 1177.9L600.2 1168.1Z" fill="#000080"/>
<path d="M623.0 1151.2L630.8 1156.1L630.8 1165.9L623.0 1170.8L615.2 1165.9L615.2 1156.1Z" fill="#000080"/>
<path d="M638.0 1139.2L645.8 1144.1L645.8 1153.9L638.0 1158.8L630.2 1153.9L630.2 1144.1Z" fill="#000080"/>
<path d="M654.5 1128.8L662.2 1133.6L662.2 1143.4L654.5 1148.2L646.8 1143.4L646.8 1133.6Z" fill="#000080"/>
<path d="M671.0 1118.2L678.8 1123.1L678.8 1132.9L671.0 1137.8L663.2 1132.9L663.2 1123.1Z" fill="#000080"/>
<path d="M686.0 1100.2L693.8 1105.1L693.8 1114.9L686.0 1119.8L678.2 1114.9L678.2 1105.1Z" fill="#000080"/>
<path d="M703.0 1075.2L710.8 1080.1L710.8 1089.9L703.0 1094.8L695.2 1089.9L695.2 1080.1Z" fill="#000080"/>
<path d="M720.0 1056.2L727.8 1061.1L727.8 1070.9L720.0 1075.8L712.2 1070.9L712.2 1061.1Z" fill="#000080"/>
<path d="M738.0 1058.2L745.8 1063.1L745.8 1072.9L738.0 1077.8L730.2 1072.9L730.2 1063.1Z" fill="#000080"/>
<path d="M755.0 1020.2L762.8 1025.1L762.8 1034.9L755.0 1039.8L747.2 1034.9L747.2 1025.1Z" fill="#000080"/>
<path d="M773.0 1007.2L780.8 1012.1L780.8 1021.9L773.0 1026.8L765.2 1021.9L765.2 1012.1Z" fill="#000080"/>
<path d="M791.0 999.2L798.8 1004.1L798.8 1013.9L791.0 1018.8L783.2 1013.9L783.2 1004.1Z" fill="#000080"/>
<path d="M810.0 980.2L817.8 985.1L817.8 994.9L810.0 999.8L802.2 994.9L802.2 985.1Z" fill="#000080"/>
<path d="M829.0 963.2L836.8 968.1L836.8 977.9L829.0 982.8L821.2 977.9L821.2 968.1Z" fill="#000080"/>
<path d="M848.0 933.8L855.8 938.6L855.8 948.4L848.0 953.2L840.2 948.4L840.2 938.6Z" fill="#000080"/>
<path d="M867.0 924.8L874.8 929.6L874.8 939.4L867.0 944.2L859.2 939.4L859.2 929.6Z" fill="#000080"/>
<path d="M886.5 863.2L894.2 868.1L894.2 877.9L886.5 882.8L878.8 877.9L878.8 868.1Z" fill="#000080"/>
<path d="M907.5 881.2L915.2 886.1L915.2 895.9L907.5 900.8L899.8 895.9L899.8 886.1Z" fill="#000080"/>
<path d="M949.5 881.2L957.2 886.1L957.2 895.9L949.5 900.8L941.8 895.9L941.8 886.1Z" fill="#000080"/>
<path d="M972.0 854.2L979.8 859.1L979.8 868.9L972.0 873.8L964.2 868.9L964.2 859.1Z" fill="#000080"/>
<rect x="412.6" y="1405.6" width="14.8" height="16.8" fill="#008080"/>
<rect x="424.6" y="1370.6" width="14.8" height="16.8" fill="#008080"/>
<rect x="436.6" y="1347.6" width="14.8" height="16.8" fill="#008080"/>
<rect x="449.6" y="1328.6" width="14.8" height="16.8" fill="#008080"/>
<rect x="461.6" y="1311.6" width="14.8" height="16.8" fill="#008080"/>
<rect x="474.6" y="1290.6" width="14.8" height="16.8" fill="#008080"/>
<rect x="488.1" y="1272.6" width="14.8" height="16.8" fill="#008080"/>
<rect x="503.1" y="1257.6" width="14.8" height="16.8" fill="#008080"/>
<rect x="515.1" y="1241.1" width="14.8" height="16.8" fill="#008080"/>
<rect x="528.6" y="1221.6" width="14.8" height="16.8" fill="#008080"/>
<rect x="543.6" y="1203.6" width="14.8" height="16.8" fill="#008080"/>
<rect x="555.6" y="1185.6" width="14.8" height="16.8" fill="#008080"/>
<rect x="570.6" y="1161.6" width="14.8" height="16.8" fill="#008080"/>
<rect x="585.6" y="1151.1" width="14.8" height="16.8" fill="#008080"/>
<rect x="600.6" y="1139.1" width="14.8" height="16.8" fill="#008080"/>
<rect x="615.6" y="1128.6" width="14.8" height="16.8" fill="#008080"/>
<rect x="630.6" y="1118.1" width="14.8" height="16.8" fill="#008080"/>
<rect x="647.1" y="1106.1" width="14.8" height="16.8" fill="#008080"/>
<rect x="663.6" y="1091.6" width="14.8" height="16.8" fill="#008080"/>
<rect x="679.6" y="1080.6" width="14.8" height="16.8" fill="#008080"/>
<rect x="695.6" y="1043.6" width="14.8" height="16.8" fill="#008080"/>
<rect x="712.6" y="1033.6" width="14.8" height="16.8" fill="#008080"/>
<rect x="730.6" y="1029.6" width="14.8" height="16.8" fill="#008080"/>
<rect x="747.6" y="1004.6" width="14.8" height="16.8" fill="#008080"/>
<rect x="765.6" y="993.6" width="14.8" height="16.8" fill="#008080"/>
<rect x="783.6" y="978.6" width="14.8" height="16.8" fill="#008080"/>
<rect x="802.6" y="960.6" width="14.8" height="16.8" fill="#008080"/>
<rect x="821.6" y="955.6" width="14.8" height="16.8" fill="#008080"/>
<rect x="900.1" y="857.1" width="14.8" height="16.8" fill="#008080"/>
<rect x="942.1" y="836.1" width="14.8" height="16.8" fill="#008080"/>
<rect x="964.6" y="879.6" width="14.8" height="16.8" fill="#008080"/>
<rect x="333.2" y="1450.1" width="14.8" height="16.8" fill="#c8c8c8"/>
<rect x="342.6" y="1429.6" width="14.8" height="16.8" fill="#c8c8c8"/>
<rect x="376.6" y="1382.6" width="14.8" height="16.8" fill="#c8c8c8"/>
<rect x="388.6" y="1369.6" width="14.8" height="16.8" fill="#c8c8c8"/>
<rect x="400.6" y="1355.6" width="14.8" height="16.8" fill="#c8c8c8"/>
<rect x="412.6" y="1342.6" width="14.8" height="16.8" fill="#c8c8c8"/>
<rect x="424.6" y="1326.6" width="14.8" height="16.8" fill="#c8c8c8"/>
<rect x="436.6" y="1309.6" width="14.8" height="16.8" fill="#c8c8c8"/>
<rect x="448.6" y="1295.6" width="14.8" height="16.8" fill="#c8c8c8"/>
<rect x="461.6" y="1281.6" width="14.8" height="16.8" fill="#c8c8c8"/>
<rect x="474.6" y="1263.6" width="14.8" height="16.8" fill="#c8c8c8"/>
<rect x="488.1" y="1248.6" width="14.8" height="16.8" fill="#c8c8c8"/>
<rect x="501.6" y="1233.6" width="14.8" height="16.8" fill="#c8c8c8"/>
<rect x="515.1" y="1218.6" width="14.8" height="16.8" fill="#c8c8c8"/>
<rect x="528.6" y="1200.6" width="14.8" height="16.8" fill="#c8c8c8"/>
<rect x="542.1" y="1184.1" width="14.8" height="16.8" fill="#c8c8c8"/>
<rect x="555.6" y="1167.6" width="14.8" height="16.8" fill="#c8c8c8"/>
<rect x="570.6" y="1140.6" width="14.8" height="16.8" fill="#c8c8c8"/>
<rect x="585.6" y="1131.6" width="14.8" height="16.8" fill="#c8c8c8"/>
<rect x="600.6" y="1119.6" width="14.8" height="16.8" fill="#c8c8c8"/>
<rect x="615.6" y="1109.1" width="14.8" height="16.8" fill="#c8c8c8"/>
<rect x="630.6" y="1097.1" width="14.8" height="16.8" fill="#c8c8c8"/>
<rect x="647.1" y="1080.6" width="14.8" height="16.8" fill="#c8c8c8"/>
<rect x="663.6" y="1071.6" width="14.8" height="16.8" fill="#c8c8c8"/>
<rect x="679.6" y="1052.6" width="14.8" height="16.8" fill="#c8c8c8"/>
<rect x="695.6" y="1023.6" width="14.8" height="16.8" fill="#c8c8c8"/>
<rect x="712.6" y="1012.6" width="14.8" height="16.8" fill="#c8c8c8"/>
<rect x="730.6" y="1006.6" width="14.8" height="16.8" fill="#c8c8c8"/>
<rect x="747.6" y="983.6" width="14.8" height="16.8" fill="#c8c8c8"/>
<rect x="765.6" y="959.6" width="14.8" height="16.8" fill="#c8c8c8"/>
<rect x="783.6" y="951.6" width="14.8" height="16.8" fill="#c8c8c8"/>
<rect x="802.6" y="930.6" width="14.8" height="16.8" fill="#c8c8c8"/>
<rect x="821.6" y="917.1" width="14.8" height="16.8" fill="#c8c8c8"/>
<rect x="840.6" y="878.1" width="14.8" height="16.8" fill="#c8c8c8"/>
<rect x="859.6" y="860.1" width="14.8" height="16.8" fill="#c8c8c8"/>
<path d="M444.0 1390.8L454.0 1402.0L444.0 1413.2L434.0 1402.0Z" fill="#0000ff"/>
<path d="M457.0 1372.8L467.0 1384.0L457.0 1395.2L447.0 1384.0Z" fill="#0000ff"/>
<path d="M470.0 1354.8L480.0 1366.0L470.0 1377.2L460.0 1366.0Z" fill="#0000ff"/>
<path d="M483.0 1334.8L493.0 1346.0L483.0 1357.2L473.0 1346.0Z" fill="#0000ff"/>
<path d="M496.0 1316.8L506.0 1328.0L496.0 1339.2L486.0 1328.0Z" fill="#0000ff"/>
<path d="M509.0 1302.8L519.0 1314.0L509.0 1325.2L499.0 1314.0Z" fill="#0000ff"/>
<path d="M522.5 1284.8L532.5 1296.0L522.5 1307.2L512.5 1296.0Z" fill="#0000ff"/>
<path d="M536.0 1268.3L546.0 1279.5L536.0 1290.7L526.0 1279.5Z" fill="#0000ff"/>
<path d="M549.5 1253.3L559.5 1264.5L549.5 1275.7L539.5 1264.5Z" fill="#0000ff"/>
<path d="M563.0 1236.8L573.0 1248.0L563.0 1259.2L553.0 1248.0Z" fill="#0000ff"/>
<path d="M578.0 1215.8L588.0 1227.0L578.0 1238.2L568.0 1227.0Z" fill="#0000ff"/>
<path d="M593.0 1205.3L603.0 1216.5L593.0 1227.7L583.0 1216.5Z" fill="#0000ff"/>
<path d="M608.0 1191.8L618.0 1203.0L608.0 1214.2L598.0 1203.0Z" fill="#0000ff"/>
<path d="M623.0 1179.8L633.0 1191.0L623.0 1202.2L613.0 1191.0Z" fill="#0000ff"/>
<path d="M638.0 1164.8L648.0 1176.0L638.0 1187.2L628.0 1176.0Z" fill="#0000ff"/>
<path d="M654.5 1152.8L664.5 1164.0L654.5 1175.2L644.5 1164.0Z" fill="#0000ff"/>
<path d="M671.0 1145.3L681.0 1156.5L671.0 1167.7L661.0 1156.5Z" fill="#0000ff"/>
<path d="M686.0 1127.3L696.0 1138.5L686.0 1149.7L676.0 1138.5Z" fill="#0000ff"/>
<path d="M703.0 1092.8L713.0 1104.0L703.0 1115.2L693.0 1104.0Z" fill="#0000ff"/>
<path d="M738.0 1088.8L748.0 1100.0L738.0 1111.2L728.0 1100.0Z" fill="#0000ff"/>
<path d="M848.0 971.8L858.0 983.0L848.0 994.2L838.0 983.0Z" fill="#0000ff"/>
<path d="M867.0 951.8L877.0 963.0L867.0 974.2L857.0 963.0Z" fill="#0000ff"/>
<path d="M928.5 896.3L938.5 907.5L928.5 918.7L918.5 907.5Z" fill="#0000ff"/>
<path d="M949.5 896.3L959.5 907.5L949.5 918.7L939.5 907.5Z" fill="#0000ff"/>
<path d="M972.0 905.3L982.0 916.5L972.0 927.7L962.0 916.5Z" fill="#0000ff"/>
<path d="M432.0 1451.9L440.2 1435.4L423.8 1435.4Z" fill="#2f4f4f"/>
<path d="M444.0 1419.9L452.2 1403.4L435.8 1403.4Z" fill="#2f4f4f"/>
<path d="M457.0 1398.9L465.2 1382.4L448.8 1382.4Z" fill="#2f4f4f"/>
<path d="M470.0 1381.9L478.2 1365.4L461.8 1365.4Z" fill="#2f4f4f"/>
<path d="M482.0 1368.9L490.2 1352.4L473.8 1352.4Z" fill="#2f4f4f"/>
<path d="M495.0 1353.9L503.2 1337.4L486.8 1337.4Z" fill="#2f4f4f"/>
<path d="M509.0 1337.9L517.2 1321.4L500.8 1321.4Z" fill="#2f4f4f"/>
<path d="M522.0 1317.9L530.2 1301.4L513.8 1301.4Z" fill="#2f4f4f"/>
<path d="M536.0 1301.9L544.2 1285.4L527.8 1285.4Z" fill="#2f4f4f"/>
<path d="M549.5 1287.9L557.8 1271.4L541.2 1271.4Z" fill="#2f4f4f"/>
<path d="M563.0 1269.9L571.2 1253.4L554.8 1253.4Z" fill="#2f4f4f"/>
<path d="M578.0 1251.9L586.2 1235.4L569.8 1235.4Z" fill="#2f4f4f"/>
<path d="M593.0 1239.9L601.2 1223.4L584.8 1223.4Z" fill="#2f4f4f"/>
<path d="M608.0 1227.9L616.2 1211.4L599.8 1211.4Z" fill="#2f4f4f"/>
<path d="M623.0 1215.9L631.2 1199.4L614.8 1199.4Z" fill="#2f4f4f"/>
<path d="M638.0 1199.4L646.2 1182.9L629.8 1182.9Z" fill="#2f4f4f"/>
<path d="M654.5 1185.9L662.8 1169.4L646.2 1169.4Z" fill="#2f4f4f"/>
<path d="M671.0 1175.4L679.2 1158.9L662.8 1158.9Z" fill="#2f4f4f"/>
<path d="M686.0 1157.4L694.2 1140.9L677.8 1140.9Z" fill="#2f4f4f"/>
<path d="M702.5 1128.9L710.8 1112.4L694.2 1112.4Z" fill="#2f4f4f"/>
<path d="M720.0 1109.9L728.2 1093.4L711.8 1093.4Z" fill="#2f4f4f"/>
<path d="M755.0 1073.9L763.2 1057.4L746.8 1057.4Z" fill="#2f4f4f"/>
<path d="M791.0 1049.9L799.2 1033.4L782.8 1033.4Z" fill="#2f4f4f"/>
<path d="M848.0 969.9L856.2 953.4L839.8 953.4Z" fill="#2f4f4f"/>
<path d="M907.5 909.9L915.8 893.4L899.2 893.4Z" fill="#2f4f4f"/>
<path d="M928.5 885.9L936.8 869.4L920.2 869.4Z" fill="#2f4f4f"/>
<path d="M949.5 854.4L957.8 837.9L941.2 837.9Z" fill="#2f4f4f"/>
<path d="M687.0 1369.6L694.8 1386.1L679.2 1386.1Z" fill="#8c8c8c"/>
<path d="M703.5 1324.6L711.2 1341.1L695.8 1341.1Z" fill="#8c8c8c"/>
<path d="M720.0 1275.1L727.8 1291.6L712.2 1291.6Z" fill="#8c8c8c"/>
<path d="M736.5 1233.1L744.2 1249.6L728.8 1249.6Z" fill="#8c8c8c"/>
<path d="M755.0 1200.1L762.8 1216.6L747.2 1216.6Z" fill="#8c8c8c"/>
<path d="M772.5 1166.1L780.2 1182.6L764.8 1182.6Z" fill="#8c8c8c"/>
<path d="M791.0 1135.1L798.8 1151.6L783.2 1151.6Z" fill="#8c8c8c"/>
<path d="M810.0 1094.1L817.8 1110.6L802.2 1110.6Z" fill="#8c8c8c"/>
<path d="M828.8 1053.1L836.5 1069.6L821.0 1069.6Z" fill="#8c8c8c"/>
<path d="M847.5 1016.1L855.2 1032.6L839.8 1032.6Z" fill="#8c8c8c"/>
<path d="M867.0 972.6L874.8 989.1L859.2 989.1Z" fill="#8c8c8c"/>
<path d="M886.5 917.1L894.2 933.6L878.8 933.6Z" fill="#8c8c8c"/>
<path d="M907.5 900.6L915.2 917.1L899.8 917.1Z" fill="#8c8c8c"/>
<path d="M949.5 845.1L957.2 861.6L941.8 861.6Z" fill="#8c8c8c"/>
<path d="M972.0 854.1L979.8 870.6L964.2 870.6Z" fill="#8c8c8c"/>
<path d="M174.0 1366.2L181.8 1371.1L181.8 1380.9L174.0 1385.8L166.2 1380.9L166.2 1371.1Z" fill="#000000"/>
<path d="M182.7 1369.5L190.4 1374.4L190.4 1384.1L182.7 1389.0L174.9 1384.1L174.9 1374.4Z" fill="#000000"/>
<path d="M191.3 1372.8L199.1 1377.6L199.1 1387.4L191.3 1392.2L183.6 1387.4L183.6 1377.6Z" fill="#000000"/>
<path d="M200.0 1376.0L207.8 1380.9L207.8 1390.6L200.0 1395.5L192.2 1390.6L192.2 1380.9Z" fill="#000000"/>
<path d="M208.7 1378.8L216.4 1383.7L216.4 1393.5L208.7 1398.3L200.9 1393.5L200.9 1383.7Z" fill="#000000"/>
<path d="M217.3 1380.8L225.1 1385.6L225.1 1395.4L217.3 1400.3L209.6 1395.4L209.6 1385.6Z" fill="#000000"/>
<path d="M226.0 1382.7L233.8 1387.6L233.8 1397.3L226.0 1402.2L218.2 1397.3L218.2 1387.6Z" fill="#000000"/>
<path d="M234.7 1384.6L242.4 1389.5L242.4 1399.2L234.7 1404.1L226.9 1399.2L226.9 1389.5Z" fill="#000000"/>
<path d="M243.3 1386.3L251.1 1391.2L251.1 1400.9L243.3 1405.8L235.6 1400.9L235.6 1391.2Z" fill="#000000"/>
<path d="M252.0 1386.8L259.8 1391.7L259.8 1401.4L252.0 1406.3L244.2 1401.4L244.2 1391.7Z" fill="#000000"/>
<path d="M260.7 1387.3L268.4 1392.2L268.4 1401.9L260.7 1406.8L252.9 1401.9L252.9 1392.2Z" fill="#000000"/>
<path d="M269.3 1387.8L277.1 1392.6L277.1 1402.4L269.3 1407.3L261.6 1402.4L261.6 1392.6Z" fill="#000000"/>
<path d="M278.0 1388.2L285.8 1393.1L285.8 1402.9L278.0 1407.8L270.2 1402.9L270.2 1393.1Z" fill="#000000"/>
<path d="M286.7 1383.1L294.4 1388.0L294.4 1397.8L286.7 1402.6L278.9 1397.8L278.9 1388.0Z" fill="#000000"/>
<path d="M295.3 1378.0L303.1 1382.9L303.1 1392.6L295.3 1397.5L287.6 1392.6L287.6 1382.9Z" fill="#000000"/>
<path d="M304.0 1371.7L311.8 1376.6L311.8 1386.3L304.0 1391.2L296.2 1386.3L296.2 1376.6Z" fill="#000000"/>
<path d="M312.7 1360.8L320.4 1365.7L320.4 1375.4L312.7 1380.3L304.9 1375.4L304.9 1365.7Z" fill="#000000"/>
<path d="M321.3 1345.5L329.1 1350.4L329.1 1360.1L321.3 1365.0L313.6 1360.1L313.6 1350.4Z" fill="#000000"/>
<path d="M330.0 1330.2L337.8 1335.1L337.8 1344.9L330.0 1349.8L322.2 1344.9L322.2 1335.1Z" fill="#000000"/>
<path d="M340.0 1302.2L347.8 1307.0L347.8 1316.8L340.0 1321.7L332.2 1316.8L332.2 1307.0Z" fill="#000000"/>
<path d="M351.7 1269.4L359.4 1274.3L359.4 1284.0L351.7 1288.9L343.9 1284.0L343.9 1274.3Z" fill="#000000"/>
<path d="M363.3 1244.9L371.1 1249.8L371.1 1259.6L363.3 1264.4L355.6 1259.6L355.6 1249.8Z" fill="#000000"/>
<path d="M375.0 1225.3L382.8 1230.2L382.8 1240.0L375.0 1244.8L367.2 1240.0L367.2 1230.2Z" fill="#000000"/>
<path d="M386.7 1205.7L394.4 1210.6L394.4 1220.4L386.7 1225.2L378.9 1220.4L378.9 1210.6Z" fill="#000000"/>
<path d="M398.3 1186.1L406.1 1191.0L406.1 1200.8L398.3 1205.6L390.6 1200.8L390.6 1191.0Z" fill="#000000"/>
<path d="M410.0 1166.5L417.8 1171.4L417.8 1181.2L410.0 1186.0L402.2 1181.2L402.2 1171.4Z" fill="#000000"/>
<path d="M420.0 1149.8L427.8 1154.6L427.8 1164.4L420.0 1169.2L412.2 1164.4L412.2 1154.6Z" fill="#000000"/>
<path d="M432.0 1130.2L439.8 1135.1L439.8 1144.9L432.0 1149.8L424.2 1144.9L424.2 1135.1Z" fill="#000000"/>
<path d="M444.0 1112.2L451.8 1117.1L451.8 1126.9L444.0 1131.8L436.2 1126.9L436.2 1117.1Z" fill="#000000"/>
<path d="M456.0 1100.2L463.8 1105.1L463.8 1114.9L456.0 1119.8L448.2 1114.9L448.2 1105.1Z" fill="#000000"/>
<path d="M469.5 1086.8L477.2 1091.6L477.2 1101.4L469.5 1106.2L461.8 1101.4L461.8 1091.6Z" fill="#000000"/>
<path d="M481.5 1071.8L489.2 1076.6L489.2 1086.4L481.5 1091.2L473.8 1086.4L473.8 1076.6Z" fill="#000000"/>
<path d="M495.0 1064.2L502.8 1069.1L502.8 1078.9L495.0 1083.8L487.2 1078.9L487.2 1069.1Z" fill="#000000"/>
<path d="M508.5 1065.8L516.2 1070.6L516.2 1080.4L508.5 1085.2L500.8 1080.4L500.8 1070.6Z" fill="#000000"/>
<path d="M522.0 1056.8L529.8 1061.6L529.8 1071.4L522.0 1076.2L514.2 1071.4L514.2 1061.6Z" fill="#000000"/>
<path d="M535.5 1050.8L543.2 1055.6L543.2 1065.4L535.5 1070.2L527.8 1065.4L527.8 1055.6Z" fill="#000000"/>
<path d="M549.0 1047.8L556.8 1052.6L556.8 1062.4L549.0 1067.2L541.2 1062.4L541.2 1052.6Z" fill="#000000"/>
<path d="M564.0 1049.2L571.8 1054.1L571.8 1063.9L564.0 1068.8L556.2 1063.9L556.2 1054.1Z" fill="#000000"/>
<path d="M577.5 1038.8L585.2 1043.6L585.2 1053.4L577.5 1058.2L569.8 1053.4L569.8 1043.6Z" fill="#000000"/>
<path d="M592.5 1053.8L600.2 1058.6L600.2 1068.4L592.5 1073.2L584.8 1068.4L584.8 1058.6Z" fill="#000000"/>
<path d="M607.5 1059.8L615.2 1064.6L615.2 1074.4L607.5 1079.2L599.8 1074.4L599.8 1064.6Z" fill="#000000"/>
<path d="M622.5 1068.8L630.2 1073.6L630.2 1083.4L622.5 1088.2L614.8 1083.4L614.8 1073.6Z" fill="#000000"/>
<path d="M639.0 1082.2L646.8 1087.1L646.8 1096.9L639.0 1101.8L631.2 1096.9L631.2 1087.1Z" fill="#000000"/>
<path d="M654.0 1089.8L661.8 1094.6L661.8 1104.4L654.0 1109.2L646.2 1104.4L646.2 1094.6Z" fill="#000000"/>
<path d="M669.0 1092.8L676.8 1097.6L676.8 1107.4L669.0 1112.2L661.2 1107.4L661.2 1097.6Z" fill="#000000"/>
<path d="M687.0 1090.2L694.8 1095.1L694.8 1104.9L687.0 1109.8L679.2 1104.9L679.2 1095.1Z" fill="#000000"/>
<path d="M703.0 1074.2L710.8 1079.1L710.8 1088.9L703.0 1093.8L695.2 1088.9L695.2 1079.1Z" fill="#000000"/>
<path d="M720.0 1074.2L727.8 1079.1L727.8 1088.9L720.0 1093.8L712.2 1088.9L712.2 1079.1Z" fill="#000000"/>
<path d="M738.0 1072.2L745.8 1077.1L745.8 1086.9L738.0 1091.8L730.2 1086.9L730.2 1077.1Z" fill="#000000"/>
<path d="M755.0 1062.2L762.8 1067.1L762.8 1076.9L755.0 1081.8L747.2 1076.9L747.2 1067.1Z" fill="#000000"/>
<path d="M773.0 1055.2L780.8 1060.1L780.8 1069.9L773.0 1074.8L765.2 1069.9L765.2 1060.1Z" fill="#000000"/>
<path d="M791.0 1042.2L798.8 1047.1L798.8 1056.9L791.0 1061.8L783.2 1056.9L783.2 1047.1Z" fill="#000000"/>
<path d="M810.0 1038.2L817.8 1043.1L817.8 1052.9L810.0 1057.8L802.2 1052.9L802.2 1043.1Z" fill="#000000"/>
<path d="M829.0 1018.2L836.8 1023.1L836.8 1032.9L829.0 1037.8L821.2 1032.9L821.2 1023.1Z" fill="#000000"/>
<path d="M848.0 958.2L855.8 963.1L855.8 972.9L848.0 977.8L840.2 972.9L840.2 963.1Z" fill="#000000"/>
<path d="M867.0 966.2L874.8 971.1L874.8 980.9L867.0 985.8L859.2 980.9L859.2 971.1Z" fill="#000000"/>
<path d="M886.5 896.2L894.2 901.1L894.2 910.9L886.5 915.8L878.8 910.9L878.8 901.1Z" fill="#000000"/>
<path d="M907.5 867.8L915.2 872.6L915.2 882.4L907.5 887.2L899.8 882.4L899.8 872.6Z" fill="#000000"/>
<path d="M928.5 818.2L936.2 823.1L936.2 832.9L928.5 837.8L920.8 832.9L920.8 823.1Z" fill="#000000"/>
<ellipse cx="174.0" cy="1413.0" rx="7.30" ry="8.60" fill="#ff0000"/>
<ellipse cx="183.0" cy="1416.9" rx="7.30" ry="8.60" fill="#ff0000"/>
<ellipse cx="192.0" cy="1420.1" rx="7.30" ry="8.60" fill="#ff0000"/>
<ellipse cx="201.0" cy="1422.6" rx="7.30" ry="8.60" fill="#ff0000"/>
<ellipse cx="210.0" cy="1425.6" rx="7.30" ry="8.60" fill="#ff0000"/>
<ellipse cx="219.0" cy="1429.1" rx="7.30" ry="8.60" fill="#ff0000"/>
<ellipse cx="228.0" cy="1432.0" rx="7.30" ry="8.60" fill="#ff0000"/>
<ellipse cx="237.0" cy="1434.2" rx="7.30" ry="8.60" fill="#ff0000"/>
<ellipse cx="246.0" cy="1436.5" rx="7.30" ry="8.60" fill="#ff0000"/>
<ellipse cx="255.0" cy="1438.8" rx="7.30" ry="8.60" fill="#ff0000"/>
<ellipse cx="264.0" cy="1431.8" rx="7.30" ry="8.60" fill="#ff0000"/>
<ellipse cx="273.0" cy="1423.8" rx="7.30" ry="8.60" fill="#ff0000"/>
<ellipse cx="282.0" cy="1415.7" rx="7.30" ry="8.60" fill="#ff0000"/>
<ellipse cx="291.0" cy="1407.5" rx="7.30" ry="8.60" fill="#ff0000"/>
<ellipse cx="300.0" cy="1396.5" rx="7.30" ry="8.60" fill="#ff0000"/>
<ellipse cx="307.0" cy="1385.0" rx="7.30" ry="8.60" fill="#ff0000"/>
<ellipse cx="318.9" cy="1363.3" rx="7.30" ry="8.60" fill="#ff0000"/>
<ellipse cx="330.7" cy="1339.3" rx="7.30" ry="8.60" fill="#ff0000"/>
<ellipse cx="342.6" cy="1313.9" rx="7.30" ry="8.60" fill="#ff0000"/>
<ellipse cx="354.4" cy="1285.6" rx="7.30" ry="8.60" fill="#ff0000"/>
<ellipse cx="366.3" cy="1258.4" rx="7.30" ry="8.60" fill="#ff0000"/>
<ellipse cx="378.1" cy="1233.1" rx="7.30" ry="8.60" fill="#ff0000"/>
<ellipse cx="390.0" cy="1205.3" rx="7.30" ry="8.60" fill="#ff0000"/>
<ellipse cx="396.0" cy="1191.0" rx="7.30" ry="8.60" fill="#ff0000"/>
<ellipse cx="406.5" cy="1165.5" rx="7.30" ry="8.60" fill="#ff0000"/>
<ellipse cx="418.5" cy="1143.0" rx="7.30" ry="8.60" fill="#ff0000"/>
<ellipse cx="430.5" cy="1120.5" rx="7.30" ry="8.60" fill="#ff0000"/>
<ellipse cx="442.5" cy="1104.0" rx="7.30" ry="8.60" fill="#ff0000"/>
<ellipse cx="456.0" cy="1085.0" rx="7.30" ry="8.60" fill="#ff0000"/>
<ellipse cx="468.0" cy="1068.0" rx="7.30" ry="8.60" fill="#ff0000"/>
<ellipse cx="481.5" cy="1050.0" rx="7.30" ry="8.60" fill="#ff0000"/>
<ellipse cx="495.0" cy="1039.5" rx="7.30" ry="8.60" fill="#ff0000"/>
<ellipse cx="508.5" cy="1032.0" rx="7.30" ry="8.60" fill="#ff0000"/>
<ellipse cx="522.0" cy="1021.5" rx="7.30" ry="8.60" fill="#ff0000"/>
<ellipse cx="535.5" cy="1003.5" rx="7.30" ry="8.60" fill="#ff0000"/>
<ellipse cx="549.0" cy="999.0" rx="7.30" ry="8.60" fill="#ff0000"/>
<ellipse cx="564.0" cy="996.0" rx="7.30" ry="8.60" fill="#ff0000"/>
<ellipse cx="577.5" cy="984.0" rx="7.30" ry="8.60" fill="#ff0000"/>
<ellipse cx="592.5" cy="996.0" rx="7.30" ry="8.60" fill="#ff0000"/>
<ellipse cx="607.5" cy="1002.0" rx="7.30" ry="8.60" fill="#ff0000"/>
<ellipse cx="622.5" cy="1005.0" rx="7.30" ry="8.60" fill="#ff0000"/>
<ellipse cx="637.5" cy="1017.0" rx="7.30" ry="8.60" fill="#ff0000"/>
<ellipse cx="654.0" cy="1023.0" rx="7.30" ry="8.60" fill="#ff0000"/>
<ellipse cx="669.0" cy="1024.5" rx="7.30" ry="8.60" fill="#ff0000"/>
<ellipse cx="687.0" cy="1014.0" rx="7.30" ry="8.60" fill="#ff0000"/>
<ellipse cx="703.0" cy="1001.0" rx="7.30" ry="8.60" fill="#ff0000"/>
<ellipse cx="720.0" cy="994.0" rx="7.30" ry="8.60" fill="#ff0000"/>
<ellipse cx="738.0" cy="1008.0" rx="7.30" ry="8.60" fill="#ff0000"/>
<ellipse cx="755.0" cy="986.0" rx="7.30" ry="8.60" fill="#ff0000"/>
<ellipse cx="773.0" cy="973.0" rx="7.30" ry="8.60" fill="#ff0000"/>
<ellipse cx="791.0" cy="971.0" rx="7.30" ry="8.60" fill="#ff0000"/>
<ellipse cx="810.0" cy="978.0" rx="7.30" ry="8.60" fill="#ff0000"/>
<ellipse cx="829.0" cy="960.0" rx="7.30" ry="8.60" fill="#ff0000"/>
<ellipse cx="848.0" cy="915.0" rx="7.30" ry="8.60" fill="#ff0000"/>
<ellipse cx="867.0" cy="907.5" rx="7.30" ry="8.60" fill="#ff0000"/>
<ellipse cx="886.5" cy="843.0" rx="7.30" ry="8.60" fill="#ff0000"/>
<ellipse cx="907.5" cy="838.5" rx="7.30" ry="8.60" fill="#ff0000"/>
<ellipse cx="928.5" cy="852.0" rx="7.30" ry="8.60" fill="#ff0000"/>
<rect x="166.6" y="1395.6" width="14.8" height="16.8" fill="#00ff00"/>
<rect x="175.6" y="1399.2" width="14.8" height="16.8" fill="#00ff00"/>
<rect x="184.6" y="1402.1" width="14.8" height="16.8" fill="#00ff00"/>
<rect x="193.6" y="1405.1" width="14.8" height="16.8" fill="#00ff00"/>
<rect x="202.6" y="1408.6" width="14.8" height="16.8" fill="#00ff00"/>
<rect x="211.6" y="1412.2" width="14.8" height="16.8" fill="#00ff00"/>
<rect x="220.6" y="1415.3" width="14.8" height="16.8" fill="#00ff00"/>
<rect x="229.6" y="1417.4" width="14.8" height="16.8" fill="#00ff00"/>
<rect x="238.6" y="1421.2" width="14.8" height="16.8" fill="#00ff00"/>
<rect x="247.6" y="1421.6" width="14.8" height="16.8" fill="#00ff00"/>
<rect x="256.6" y="1421.6" width="14.8" height="16.8" fill="#00ff00"/>
<rect x="265.6" y="1421.6" width="14.8" height="16.8" fill="#00ff00"/>
<rect x="274.6" y="1421.6" width="14.8" height="16.8" fill="#00ff00"/>
<rect x="283.6" y="1419.1" width="14.8" height="16.8" fill="#00ff00"/>
<rect x="292.6" y="1413.6" width="14.8" height="16.8" fill="#00ff00"/>
<rect x="301.6" y="1406.6" width="14.8" height="16.8" fill="#00ff00"/>
<rect x="313.0" y="1389.5" width="14.8" height="16.8" fill="#00ff00"/>
<rect x="324.4" y="1364.1" width="14.8" height="16.8" fill="#00ff00"/>
<rect x="335.7" y="1335.6" width="14.8" height="16.8" fill="#00ff00"/>
<rect x="347.1" y="1304.3" width="14.8" height="16.8" fill="#00ff00"/>
<rect x="358.5" y="1274.0" width="14.8" height="16.8" fill="#00ff00"/>
<rect x="369.9" y="1244.7" width="14.8" height="16.8" fill="#00ff00"/>
<rect x="381.2" y="1216.2" width="14.8" height="16.8" fill="#00ff00"/>
<rect x="392.6" y="1185.6" width="14.8" height="16.8" fill="#00ff00"/>
<rect x="399.1" y="1170.6" width="14.8" height="16.8" fill="#00ff00"/>
<rect x="412.6" y="1145.1" width="14.8" height="16.8" fill="#00ff00"/>
<rect x="424.6" y="1119.6" width="14.8" height="16.8" fill="#00ff00"/>
<rect x="436.6" y="1093.6" width="14.8" height="16.8" fill="#00ff00"/>
<rect x="448.6" y="1070.1" width="14.8" height="16.8" fill="#00ff00"/>
<rect x="462.1" y="1043.1" width="14.8" height="16.8" fill="#00ff00"/>
<rect x="474.1" y="1019.1" width="14.8" height="16.8" fill="#00ff00"/>
<rect x="487.6" y="1013.1" width="14.8" height="16.8" fill="#00ff00"/>
<rect x="501.1" y="1008.6" width="14.8" height="16.8" fill="#00ff00"/>
<rect x="514.6" y="1007.1" width="14.8" height="16.8" fill="#00ff00"/>
<rect x="528.1" y="999.6" width="14.8" height="16.8" fill="#00ff00"/>
<rect x="541.6" y="1002.6" width="14.8" height="16.8" fill="#00ff00"/>
<rect x="556.6" y="1010.1" width="14.8" height="16.8" fill="#00ff00"/>
<rect x="571.6" y="1001.1" width="14.8" height="16.8" fill="#00ff00"/>
<rect x="586.6" y="1022.1" width="14.8" height="16.8" fill="#00ff00"/>
<rect x="601.6" y="1026.6" width="14.8" height="16.8" fill="#00ff00"/>
<rect x="616.6" y="1038.6" width="14.8" height="16.8" fill="#00ff00"/>
<rect x="631.6" y="1058.1" width="14.8" height="16.8" fill="#00ff00"/>
<rect x="648.1" y="1073.1" width="14.8" height="16.8" fill="#00ff00"/>
<rect x="663.1" y="1082.1" width="14.8" height="16.8" fill="#00ff00"/>
<rect x="679.6" y="1067.6" width="14.8" height="16.8" fill="#00ff00"/>
<rect x="695.6" y="1057.6" width="14.8" height="16.8" fill="#00ff00"/>
<rect x="712.6" y="1044.6" width="14.8" height="16.8" fill="#00ff00"/>
<rect x="730.6" y="1046.6" width="14.8" height="16.8" fill="#00ff00"/>
<rect x="747.6" y="1034.6" width="14.8" height="16.8" fill="#00ff00"/>
<rect x="765.6" y="1042.6" width="14.8" height="16.8" fill="#00ff00"/>
<rect x="783.6" y="1045.6" width="14.8" height="16.8" fill="#00ff00"/>
<rect x="802.6" y="1010.6" width="14.8" height="16.8" fill="#00ff00"/>
<rect x="821.6" y="979.6" width="14.8" height="16.8" fill="#00ff00"/>
<rect x="840.6" y="920.1" width="14.8" height="16.8" fill="#00ff00"/>
<rect x="859.6" y="911.1" width="14.8" height="16.8" fill="#00ff00"/>
<rect x="879.1" y="851.1" width="14.8" height="16.8" fill="#00ff00"/>
<path d="M174.0 1357.1L181.8 1373.6L166.2 1373.6Z" fill="#ffff00"/>
<path d="M183.2 1358.0L191.0 1374.5L175.5 1374.5Z" fill="#ffff00"/>
<path d="M192.4 1363.7L200.2 1380.2L184.7 1380.2Z" fill="#ffff00"/>
<path d="M201.7 1368.9L209.4 1385.4L193.9 1385.4Z" fill="#ffff00"/>
<path d="M210.9 1375.0L218.6 1391.5L203.1 1391.5Z" fill="#ffff00"/>
<path d="M220.1 1378.1L227.9 1394.6L212.4 1394.6Z" fill="#ffff00"/>
<path d="M229.3 1382.2L237.1 1398.7L221.6 1398.7Z" fill="#ffff00"/>
<path d="M238.6 1385.3L246.3 1401.8L230.8 1401.8Z" fill="#ffff00"/>
<path d="M247.8 1389.1L255.5 1405.6L240.0 1405.6Z" fill="#ffff00"/>
<path d="M257.0 1389.1L264.8 1405.6L249.2 1405.6Z" fill="#ffff00"/>
<path d="M266.2 1389.1L274.0 1405.6L258.5 1405.6Z" fill="#ffff00"/>
<path d="M275.4 1386.0L283.2 1402.5L267.7 1402.5Z" fill="#ffff00"/>
<path d="M284.7 1379.6L292.4 1396.1L276.9 1396.1Z" fill="#ffff00"/>
<path d="M293.9 1373.4L301.6 1389.9L286.1 1389.9Z" fill="#ffff00"/>
<path d="M303.1 1364.6L310.9 1381.1L295.4 1381.1Z" fill="#ffff00"/>
<path d="M312.3 1351.5L320.1 1368.0L304.6 1368.0Z" fill="#ffff00"/>
<path d="M321.6 1335.0L329.3 1351.5L313.8 1351.5Z" fill="#ffff00"/>
<path d="M330.8 1315.0L338.5 1331.5L323.0 1331.5Z" fill="#ffff00"/>
<path d="M340.0 1291.6L347.8 1308.1L332.2 1308.1Z" fill="#ffff00"/>
<path d="M350.0 1266.1L357.8 1282.6L342.2 1282.6Z" fill="#ffff00"/>
<path d="M362.0 1227.2L369.7 1243.7L354.2 1243.7Z" fill="#ffff00"/>
<path d="M373.9 1197.3L381.7 1213.8L366.2 1213.8Z" fill="#ffff00"/>
<path d="M385.9 1150.8L393.6 1167.3L378.1 1167.3Z" fill="#ffff00"/>
<path d="M397.8 1110.7L405.6 1127.2L390.1 1127.2Z" fill="#ffff00"/>
<path d="M409.8 1072.5L417.5 1089.0L402.0 1089.0Z" fill="#ffff00"/>
<path d="M421.7 1036.6L429.5 1053.1L414.0 1053.1Z" fill="#ffff00"/>
<path d="M433.7 993.1L441.4 1009.6L425.9 1009.6Z" fill="#ffff00"/>
<path d="M445.6 957.9L453.4 974.4L437.9 974.4Z" fill="#ffff00"/>
<path d="M457.6 927.3L465.3 943.8L449.8 943.8Z" fill="#ffff00"/>
<path d="M469.5 890.0L477.3 906.5L461.8 906.5Z" fill="#ffff00"/>
<path d="M481.5 851.1L489.2 867.6L473.8 867.6Z" fill="#ffff00"/>
<path d="M177.0 1332.9L185.2 1316.4L168.8 1316.4Z" fill="#0000ff"/>
<path d="M185.9 1339.4L194.2 1322.9L177.7 1322.9Z" fill="#0000ff"/>
<path d="M194.9 1343.2L203.1 1326.7L186.6 1326.7Z" fill="#0000ff"/>
<path d="M203.8 1347.7L212.1 1331.2L195.6 1331.2Z" fill="#0000ff"/>
<path d="M212.8 1355.0L221.0 1338.5L204.5 1338.5Z" fill="#0000ff"/>
<path d="M221.7 1364.1L229.9 1347.6L213.4 1347.6Z" fill="#0000ff"/>
<path d="M230.6 1371.5L238.9 1355.0L222.4 1355.0Z" fill="#0000ff"/>
<path d="M239.6 1377.1L247.8 1360.6L231.3 1360.6Z" fill="#0000ff"/>
<path d="M248.5 1382.1L256.8 1365.6L240.2 1365.6Z" fill="#0000ff"/>
<path d="M257.4 1383.5L265.7 1367.0L249.2 1367.0Z" fill="#0000ff"/>
<path d="M266.4 1385.7L274.6 1369.2L258.1 1369.2Z" fill="#0000ff"/>
<path d="M275.3 1380.5L283.6 1364.0L267.1 1364.0Z" fill="#0000ff"/>
<path d="M284.2 1374.7L292.5 1358.2L276.0 1358.2Z" fill="#0000ff"/>
<path d="M293.2 1370.5L301.4 1354.0L284.9 1354.0Z" fill="#0000ff"/>
<path d="M302.1 1365.3L310.4 1348.8L293.9 1348.8Z" fill="#0000ff"/>
<path d="M311.1 1352.6L319.3 1336.1L302.8 1336.1Z" fill="#0000ff"/>
<path d="M320.0 1333.9L328.2 1317.4L311.8 1317.4Z" fill="#0000ff"/>
<path d="M338.0 1306.9L346.2 1290.4L329.8 1290.4Z" fill="#0000ff"/>
<path d="M341.0 1276.9L349.2 1260.4L332.8 1260.4Z" fill="#0000ff"/>
<path d="M351.0 1242.9L359.2 1226.4L342.8 1226.4Z" fill="#0000ff"/>
<path d="M362.0 1205.9L370.2 1189.4L353.8 1189.4Z" fill="#0000ff"/>
<path d="M373.5 1164.9L381.8 1148.4L365.2 1148.4Z" fill="#0000ff"/>
<path d="M385.5 1127.4L393.8 1110.9L377.2 1110.9Z" fill="#0000ff"/>
<path d="M397.5 1083.9L405.8 1067.4L389.2 1067.4Z" fill="#0000ff"/>
<path d="M408.0 1053.9L416.2 1037.4L399.8 1037.4Z" fill="#0000ff"/>
<path d="M420.0 1023.9L428.2 1007.4L411.8 1007.4Z" fill="#0000ff"/>
<path d="M432.0 995.4L440.2 978.9L423.8 978.9Z" fill="#0000ff"/>
<path d="M444.0 957.9L452.2 941.4L435.8 941.4Z" fill="#0000ff"/>
<path d="M456.0 939.9L464.2 923.4L447.8 923.4Z" fill="#0000ff"/>
<path d="M469.5 917.4L477.8 900.9L461.2 900.9Z" fill="#0000ff"/>
<path d="M481.5 890.4L489.8 873.9L473.2 873.9Z" fill="#0000ff"/>
<path d="M495.0 876.9L503.2 860.4L486.8 860.4Z" fill="#0000ff"/>
<path d="M508.5 870.9L516.8 854.4L500.2 854.4Z" fill="#0000ff"/>
<path d="M522.0 864.9L530.2 848.4L513.8 848.4Z" fill="#0000ff"/>
<path d="M535.5 851.4L543.8 834.9L527.2 834.9Z" fill="#0000ff"/>
<path d="M549.0 846.9L557.2 830.4L540.8 830.4Z" fill="#0000ff"/>
<path d="M564.0 851.4L572.2 834.9L555.8 834.9Z" fill="#0000ff"/>
<path d="M592.5 854.4L600.8 837.9L584.2 837.9Z" fill="#0000ff"/>
<path d="M609.0 863.4L617.2 846.9L600.8 846.9Z" fill="#0000ff"/>
<path d="M624.0 884.4L632.2 867.9L615.8 867.9Z" fill="#0000ff"/>
<path d="M639.0 902.4L647.2 885.9L630.8 885.9Z" fill="#0000ff"/>
<path d="M655.5 929.4L663.8 912.9L647.2 912.9Z" fill="#0000ff"/>
<path d="M670.5 939.9L678.8 923.4L662.2 923.4Z" fill="#0000ff"/>
<path d="M687.0 939.9L695.2 923.4L678.8 923.4Z" fill="#0000ff"/>
<path d="M703.5 923.4L711.8 906.9L695.2 906.9Z" fill="#0000ff"/>
<path d="M718.5 927.9L726.8 911.4L710.2 911.4Z" fill="#0000ff"/>
<path d="M738.0 933.9L746.2 917.4L729.8 917.4Z" fill="#0000ff"/>
<path d="M754.5 914.4L762.8 897.9L746.2 897.9Z" fill="#0000ff"/>
<path d="M772.5 908.4L780.8 891.9L764.2 891.9Z" fill="#0000ff"/>
<path d="M790.5 894.9L798.8 878.4L782.2 878.4Z" fill="#0000ff"/>
<path d="M810.0 861.9L818.2 845.4L801.8 845.4Z" fill="#0000ff"/>
<path d="M828.0 840.9L836.2 824.4L819.8 824.4Z" fill="#0000ff"/>
<path d="M174.0 1329.8L184.0 1341.0L174.0 1352.2L164.0 1341.0Z" fill="#ff00ff"/>
<path d="M183.0 1329.8L193.0 1341.0L183.0 1352.2L173.0 1341.0Z" fill="#ff00ff"/>
<path d="M192.0 1338.8L202.0 1350.0L192.0 1361.2L182.0 1350.0Z" fill="#ff00ff"/>
<path d="M201.0 1335.8L211.0 1347.0L201.0 1358.2L191.0 1347.0Z" fill="#ff00ff"/>
<path d="M210.0 1335.8L220.0 1347.0L210.0 1358.2L200.0 1347.0Z" fill="#ff00ff"/>
<path d="M219.0 1337.8L229.0 1349.0L219.0 1360.2L209.0 1349.0Z" fill="#ff00ff"/>
<path d="M229.0 1335.8L239.0 1347.0L229.0 1358.2L219.0 1347.0Z" fill="#ff00ff"/>
<path d="M238.0 1353.8L248.0 1365.0L238.0 1376.2L228.0 1365.0Z" fill="#ff00ff"/>
<path d="M249.0 1405.8L259.0 1417.0L249.0 1428.2L239.0 1417.0Z" fill="#ff00ff"/>
<path d="M258.0 1391.8L268.0 1403.0L258.0 1414.2L248.0 1403.0Z" fill="#ff00ff"/>
<path d="M267.0 1403.8L277.0 1415.0L267.0 1426.2L257.0 1415.0Z" fill="#ff00ff"/>
<path d="M278.0 1360.8L288.0 1372.0L278.0 1383.2L268.0 1372.0Z" fill="#ff00ff"/>
<path d="M287.0 1344.8L297.0 1356.0L287.0 1367.2L277.0 1356.0Z" fill="#ff00ff"/>
<path d="M298.0 1329.8L308.0 1341.0L298.0 1352.2L288.0 1341.0Z" fill="#ff00ff"/>
<path d="M309.0 1311.8L319.0 1323.0L309.0 1334.2L299.0 1323.0Z" fill="#ff00ff"/>
<path d="M319.0 1292.8L329.0 1304.0L319.0 1315.2L309.0 1304.0Z" fill="#ff00ff"/>
<path d="M328.0 1261.8L338.0 1273.0L328.0 1284.2L318.0 1273.0Z" fill="#ff00ff"/>
<path d="M340.0 1223.8L350.0 1235.0L340.0 1246.2L330.0 1235.0Z" fill="#ff00ff"/>
<path d="M351.0 1181.8L361.0 1193.0L351.0 1204.2L341.0 1193.0Z" fill="#ff00ff"/>
<path d="M359.0 1141.8L369.0 1153.0L359.0 1164.2L349.0 1153.0Z" fill="#ff00ff"/>
<path d="M368.0 1100.8L378.0 1112.0L368.0 1123.2L358.0 1112.0Z" fill="#ff00ff"/>
<path d="M384.0 1055.3L394.0 1066.5L384.0 1077.7L374.0 1066.5Z" fill="#ff00ff"/>
<path d="M396.0 1014.8L406.0 1026.0L396.0 1037.2L386.0 1026.0Z" fill="#ff00ff"/>
<path d="M408.0 981.8L418.0 993.0L408.0 1004.2L398.0 993.0Z" fill="#ff00ff"/>
<path d="M420.0 954.8L430.0 966.0L420.0 977.2L410.0 966.0Z" fill="#ff00ff"/>
<path d="M432.0 914.3L442.0 925.5L432.0 936.7L422.0 925.5Z" fill="#ff00ff"/>
<path d="M444.0 879.8L454.0 891.0L444.0 902.2L434.0 891.0Z" fill="#ff00ff"/>
<path d="M456.0 848.3L466.0 859.5L456.0 870.7L446.0 859.5Z" fill="#ff00ff"/>
<path d="M469.5 827.3L479.5 838.5L469.5 849.7L459.5 838.5Z" fill="#ff00ff"/>
<path d="M495.0 816.8L505.0 828.0L495.0 839.2L485.0 828.0Z" fill="#ff00ff"/>
<path d="M508.5 818.3L518.5 829.5L508.5 840.7L498.5 829.5Z" fill="#ff00ff"/>
<path d="M522.0 824.3L532.0 835.5L522.0 846.7L512.0 835.5Z" fill="#ff00ff"/>
<path d="M535.5 807.8L545.5 819.0L535.5 830.2L525.5 819.0Z" fill="#ff00ff"/>
<path d="M564.0 824.3L574.0 835.5L564.0 846.7L554.0 835.5Z" fill="#ff00ff"/>
<path d="M579.0 818.3L589.0 829.5L579.0 840.7L569.0 829.5Z" fill="#ff00ff"/>
<path d="M592.5 834.8L602.5 846.0L592.5 857.2L582.5 846.0Z" fill="#ff00ff"/>
<path d="M607.5 852.8L617.5 864.0L607.5 875.2L597.5 864.0Z" fill="#ff00ff"/>
<path d="M622.5 878.3L632.5 889.5L622.5 900.7L612.5 889.5Z" fill="#ff00ff"/>
<path d="M639.0 923.3L649.0 934.5L639.0 945.7L629.0 934.5Z" fill="#ff00ff"/>
<path d="M654.0 914.3L664.0 925.5L654.0 936.7L644.0 925.5Z" fill="#ff00ff"/>
<path d="M670.5 941.3L680.5 952.5L670.5 963.7L660.5 952.5Z" fill="#ff00ff"/>
<path d="M687.0 955.8L697.0 967.0L687.0 978.2L677.0 967.0Z" fill="#ff00ff"/>
<path d="M703.0 964.8L713.0 976.0L703.0 987.2L693.0 976.0Z" fill="#ff00ff"/>
<path d="M720.0 957.8L730.0 969.0L720.0 980.2L710.0 969.0Z" fill="#ff00ff"/>
<path d="M738.0 984.8L748.0 996.0L738.0 1007.2L728.0 996.0Z" fill="#ff00ff"/>
<path d="M755.0 1011.8L765.0 1023.0L755.0 1034.2L745.0 1023.0Z" fill="#ff00ff"/>
<path d="M773.0 981.8L783.0 993.0L773.0 1004.2L763.0 993.0Z" fill="#ff00ff"/>
<path d="M791.0 1059.8L801.0 1071.0L791.0 1082.2L781.0 1071.0Z" fill="#ff00ff"/>
<path d="M810.0 1063.8L820.0 1075.0L810.0 1086.2L800.0 1075.0Z" fill="#ff00ff"/>
<path d="M654.0 1450.9L662.2 1434.4L645.8 1434.4Z" fill="#ffff00"/>
<path d="M670.5 1416.4L678.8 1399.9L662.2 1399.9Z" fill="#ffff00"/>
<path d="M703.5 1353.4L711.8 1336.9L695.2 1336.9Z" fill="#ffff00"/>
<path d="M720.0 1344.4L728.2 1327.9L711.8 1327.9Z" fill="#ffff00"/>
<path d="M756.0 1323.4L764.2 1306.9L747.8 1306.9Z" fill="#ffff00"/>
<path d="M772.5 1289.9L780.8 1273.4L764.2 1273.4Z" fill="#ffff00"/>
<path d="M791.2 1297.4L799.5 1280.9L783.0 1280.9Z" fill="#ffff00"/>
<path d="M810.0 1264.9L818.2 1248.4L801.8 1248.4Z" fill="#ffff00"/>
<path d="M828.8 1272.4L837.0 1255.9L820.5 1255.9Z" fill="#ffff00"/>
<path d="M847.5 1224.9L855.8 1208.4L839.2 1208.4Z" fill="#ffff00"/>
<path d="M887.5 1177.4L895.8 1160.9L879.2 1160.9Z" fill="#ffff00"/>
<path d="M928.8 1082.4L937.0 1065.9L920.5 1065.9Z" fill="#ffff00"/>
<path d="M950.0 1066.2L958.2 1049.7L941.8 1049.7Z" fill="#ffff00"/>
<path d="M972.0 1041.9L980.2 1025.4L963.8 1025.4Z" fill="#ffff00"/>
<path d="M592.5 1414.6L600.2 1431.1L584.8 1431.1Z" fill="#800000"/>
<path d="M607.5 1401.1L615.2 1417.6L599.8 1417.6Z" fill="#800000"/>
<path d="M637.5 1363.6L645.2 1380.1L629.8 1380.1Z" fill="#800000"/>
<path d="M654.0 1339.6L661.8 1356.1L646.2 1356.1Z" fill="#800000"/>
<path d="M687.0 1306.6L694.8 1323.1L679.2 1323.1Z" fill="#800000"/>
<path d="M736.5 1272.1L744.2 1288.6L728.8 1288.6Z" fill="#800000"/>
<path d="M755.0 1255.1L762.8 1271.6L747.2 1271.6Z" fill="#800000"/>
<path d="M791.2 1257.6L799.0 1274.1L783.5 1274.1Z" fill="#800000"/>
<path d="M810.0 1233.8L817.8 1250.3L802.2 1250.3Z" fill="#800000"/>
<path d="M828.8 1213.8L836.5 1230.3L821.0 1230.3Z" fill="#800000"/>
<path d="M847.5 1226.3L855.2 1242.8L839.8 1242.8Z" fill="#800000"/>
<path d="M887.5 1147.6L895.2 1164.1L879.8 1164.1Z" fill="#800000"/>
<path d="M928.8 1110.1L936.5 1126.6L921.0 1126.6Z" fill="#800000"/>
<path d="M972.0 1013.1L979.8 1029.6L964.2 1029.6Z" fill="#800000"/>
<path d="M550.5 1458.4L558.8 1441.9L542.2 1441.9Z" fill="#008000"/>
<path d="M564.0 1429.9L572.2 1413.4L555.8 1413.4Z" fill="#008000"/>
<path d="M577.5 1404.4L585.8 1387.9L569.2 1387.9Z" fill="#008000"/>
<path d="M622.5 1372.9L630.8 1356.4L614.2 1356.4Z" fill="#008000"/>
<path d="M654.0 1339.9L662.2 1323.4L645.8 1323.4Z" fill="#008000"/>
<path d="M755.0 1258.7L763.2 1242.2L746.8 1242.2Z" fill="#008000"/>
<path d="M791.2 1238.7L799.5 1222.2L783.0 1222.2Z" fill="#008000"/>
<path d="M828.8 1212.4L837.0 1195.9L820.5 1195.9Z" fill="#008000"/>
<path d="M867.5 1178.7L875.8 1162.2L859.2 1162.2Z" fill="#008000"/>
<path d="M887.5 1159.9L895.8 1143.4L879.2 1143.4Z" fill="#008000"/>
<path d="M928.8 1058.7L937.0 1042.2L920.5 1042.2Z" fill="#008000"/>
<path d="M928.5 1059.9L936.8 1043.4L920.2 1043.4Z" fill="#008000"/>
<path d="M949.5 1034.4L957.8 1017.9L941.2 1017.9Z" fill="#008000"/>
<path d="M972.0 999.9L980.2 983.4L963.8 983.4Z" fill="#008000"/>
<ellipse cx="576.0" cy="1427.0" rx="7.30" ry="8.60" fill="#00ffff"/>
<ellipse cx="592.5" cy="1396.0" rx="7.30" ry="8.60" fill="#00ffff"/>
<ellipse cx="607.5" cy="1382.5" rx="7.30" ry="8.60" fill="#00ffff"/>
<ellipse cx="622.5" cy="1369.0" rx="7.30" ry="8.60" fill="#00ffff"/>
<ellipse cx="637.5" cy="1355.5" rx="7.30" ry="8.60" fill="#00ffff"/>
<ellipse cx="654.0" cy="1342.0" rx="7.30" ry="8.60" fill="#00ffff"/>
<ellipse cx="669.0" cy="1328.5" rx="7.30" ry="8.60" fill="#00ffff"/>
<ellipse cx="687.0" cy="1316.5" rx="7.30" ry="8.60" fill="#00ffff"/>
<ellipse cx="703.5" cy="1286.5" rx="7.30" ry="8.60" fill="#00ffff"/>
<ellipse cx="720.0" cy="1276.0" rx="7.30" ry="8.60" fill="#00ffff"/>
<ellipse cx="736.5" cy="1270.0" rx="7.30" ry="8.60" fill="#00ffff"/>
<ellipse cx="790.0" cy="1232.5" rx="7.30" ry="8.60" fill="#00ffff"/>
<ellipse cx="808.8" cy="1218.8" rx="7.30" ry="8.60" fill="#00ffff"/>
<ellipse cx="827.5" cy="1220.0" rx="7.30" ry="8.60" fill="#00ffff"/>
<ellipse cx="847.5" cy="1176.2" rx="7.30" ry="8.60" fill="#00ffff"/>
<ellipse cx="867.5" cy="1187.5" rx="7.30" ry="8.60" fill="#00ffff"/>
<ellipse cx="887.5" cy="1142.5" rx="7.30" ry="8.60" fill="#00ffff"/>
<ellipse cx="907.5" cy="1145.0" rx="7.30" ry="8.60" fill="#00ffff"/>
<ellipse cx="949.5" cy="1017.0" rx="7.30" ry="8.60" fill="#00ffff"/>
<ellipse cx="972.0" cy="990.0" rx="7.30" ry="8.60" fill="#00ffff"/>
<ellipse cx="564.0" cy="1411.0" rx="7.30" ry="8.60" fill="#800080"/>
<ellipse cx="577.5" cy="1384.0" rx="7.30" ry="8.60" fill="#800080"/>
<ellipse cx="592.5" cy="1379.5" rx="7.30" ry="8.60" fill="#800080"/>
<ellipse cx="607.5" cy="1358.5" rx="7.30" ry="8.60" fill="#800080"/>
<ellipse cx="622.5" cy="1352.5" rx="7.30" ry="8.60" fill="#800080"/>
<ellipse cx="637.5" cy="1333.0" rx="7.30" ry="8.60" fill="#800080"/>
<ellipse cx="654.0" cy="1316.5" rx="7.30" ry="8.60" fill="#800080"/>
<ellipse cx="669.0" cy="1313.5" rx="7.30" ry="8.60" fill="#800080"/>
<ellipse cx="687.0" cy="1297.0" rx="7.30" ry="8.60" fill="#800080"/>
<ellipse cx="703.5" cy="1277.5" rx="7.30" ry="8.60" fill="#800080"/>
<ellipse cx="720.0" cy="1267.0" rx="7.30" ry="8.60" fill="#800080"/>
<ellipse cx="736.5" cy="1256.5" rx="7.30" ry="8.60" fill="#800080"/>
<ellipse cx="753.8" cy="1223.8" rx="7.30" ry="8.60" fill="#800080"/>
<ellipse cx="772.5" cy="1230.0" rx="7.30" ry="8.60" fill="#800080"/>
<ellipse cx="790.0" cy="1177.5" rx="7.30" ry="8.60" fill="#800080"/>
<ellipse cx="808.8" cy="1205.0" rx="7.30" ry="8.60" fill="#800080"/>
<ellipse cx="827.5" cy="1193.8" rx="7.30" ry="8.60" fill="#800080"/>
<ellipse cx="847.5" cy="1170.0" rx="7.30" ry="8.60" fill="#800080"/>
<ellipse cx="867.5" cy="1197.5" rx="7.30" ry="8.60" fill="#800080"/>
<ellipse cx="887.5" cy="1111.2" rx="7.30" ry="8.60" fill="#800080"/>
<ellipse cx="907.5" cy="1138.8" rx="7.30" ry="8.60" fill="#800080"/>
<ellipse cx="928.8" cy="1062.5" rx="7.30" ry="8.60" fill="#800080"/>
<ellipse cx="950.0" cy="1041.2" rx="7.30" ry="8.60" fill="#800080"/>
<ellipse cx="972.0" cy="955.5" rx="7.30" ry="8.60" fill="#800080"/>
<path d="M607.5 1413.3L617.5 1424.5L607.5 1435.7L597.5 1424.5Z" fill="#808000"/>
<path d="M622.5 1381.8L632.5 1393.0L622.5 1404.2L612.5 1393.0Z" fill="#808000"/>
<path d="M637.5 1372.8L647.5 1384.0L637.5 1395.2L627.5 1384.0Z" fill="#808000"/>
<path d="M654.0 1350.3L664.0 1361.5L654.0 1372.7L644.0 1361.5Z" fill="#808000"/>
<path d="M670.5 1336.8L680.5 1348.0L670.5 1359.2L660.5 1348.0Z" fill="#808000"/>
<path d="M687.0 1324.8L697.0 1336.0L687.0 1347.2L677.0 1336.0Z" fill="#808000"/>
<path d="M703.5 1305.3L713.5 1316.5L703.5 1327.7L693.5 1316.5Z" fill="#808000"/>
<path d="M736.5 1290.3L746.5 1301.5L736.5 1312.7L726.5 1301.5Z" fill="#808000"/>
<path d="M756.0 1269.3L766.0 1280.5L756.0 1291.7L746.0 1280.5Z" fill="#808000"/>
<path d="M772.5 1245.0L782.5 1256.2L772.5 1267.5L762.5 1256.2Z" fill="#808000"/>
<path d="M791.2 1245.0L801.2 1256.2L791.2 1267.5L781.2 1256.2Z" fill="#808000"/>
<path d="M810.0 1218.8L820.0 1230.0L810.0 1241.2L800.0 1230.0Z" fill="#808000"/>
<path d="M828.8 1235.0L838.8 1246.2L828.8 1257.5L818.8 1246.2Z" fill="#808000"/>
<path d="M847.5 1176.3L857.5 1187.5L847.5 1198.7L837.5 1187.5Z" fill="#808000"/>
<path d="M867.5 1167.5L877.5 1178.8L867.5 1190.0L857.5 1178.8Z" fill="#808000"/>
<path d="M887.5 1122.5L897.5 1133.8L887.5 1145.0L877.5 1133.8Z" fill="#808000"/>
<path d="M908.8 1107.5L918.8 1118.8L908.8 1130.0L898.8 1118.8Z" fill="#808000"/>
<path d="M928.8 1075.0L938.8 1086.2L928.8 1097.5L918.8 1086.2Z" fill="#808000"/>
<path d="M950.0 1035.0L960.0 1046.2L950.0 1057.5L940.0 1046.2Z" fill="#808000"/>
<path d="M972.0 993.8L982.0 1005.0L972.0 1016.2L962.0 1005.0Z" fill="#808000"/>
<path d="M622.5 1422.3L632.5 1433.5L622.5 1444.7L612.5 1433.5Z" fill="#6e6a82"/>
<path d="M639.0 1402.8L649.0 1414.0L639.0 1425.2L629.0 1414.0Z" fill="#6e6a82"/>
<path d="M655.5 1378.8L665.5 1390.0L655.5 1401.2L645.5 1390.0Z" fill="#6e6a82"/>
<path d="M670.5 1380.3L680.5 1391.5L670.5 1402.7L660.5 1391.5Z" fill="#6e6a82"/>
<path d="M687.0 1353.3L697.0 1364.5L687.0 1375.7L677.0 1364.5Z" fill="#6e6a82"/>
<path d="M703.5 1347.3L713.5 1358.5L703.5 1369.7L693.5 1358.5Z" fill="#6e6a82"/>
<path d="M720.0 1294.8L730.0 1306.0L720.0 1317.2L710.0 1306.0Z" fill="#6e6a82"/>
<path d="M736.5 1305.3L746.5 1316.5L736.5 1327.7L726.5 1316.5Z" fill="#6e6a82"/>
<path d="M756.0 1317.3L766.0 1328.5L756.0 1339.7L746.0 1328.5Z" fill="#6e6a82"/>
<path d="M772.5 1296.3L782.5 1307.5L772.5 1318.7L762.5 1307.5Z" fill="#6e6a82"/>
<path d="M790.5 1302.3L800.5 1313.5L790.5 1324.7L780.5 1313.5Z" fill="#6e6a82"/>
<path d="M810.0 1303.8L820.0 1315.0L810.0 1326.2L800.0 1315.0Z" fill="#6e6a82"/>
<path d="M847.5 1187.5L857.5 1198.8L847.5 1210.0L837.5 1198.8Z" fill="#6e6a82"/>
<path d="M867.5 1201.3L877.5 1212.5L867.5 1223.7L857.5 1212.5Z" fill="#6e6a82"/>
<path d="M887.5 1211.3L897.5 1222.5L887.5 1233.7L877.5 1222.5Z" fill="#6e6a82"/>
<path d="M908.8 1161.3L918.8 1172.5L908.8 1183.7L898.8 1172.5Z" fill="#6e6a82"/>
<path d="M950.0 1155.0L960.0 1166.2L950.0 1177.5L940.0 1166.2Z" fill="#6e6a82"/>
<path d="M972.5 1092.5L982.5 1103.8L972.5 1115.0L962.5 1103.8Z" fill="#6e6a82"/>
<path d="M928.8 1080.0L938.8 1091.2L928.8 1102.5L918.8 1091.2Z" fill="#6e6a82"/>
<path d="M928.5 1077.8L938.5 1089.0L928.5 1100.2L918.5 1089.0Z" fill="#6e6a82"/>
<path d="M972.0 1089.8L982.0 1101.0L972.0 1112.2L962.0 1101.0Z" fill="#6e6a82"/>
</g>
<rect x="174.5" y="8" width="799" height="666" fill="none" stroke="#000" stroke-width="1.6"/>
<path d="M174.5 58.2H194.5M973.5 58.2H953.5" stroke="#000" stroke-width="1.5"/>
<path d="M174.5 224.7H194.5M973.5 224.7H953.5" stroke="#000" stroke-width="1.5"/>
<path d="M174.5 391.2H194.5M973.5 391.2H953.5" stroke="#000" stroke-width="1.5"/>
<path d="M174.5 557.7H194.5M973.5 557.7H953.5" stroke="#000" stroke-width="1.5"/>
<path d="M307.7 674V652M307.7 8V30" stroke="#000" stroke-width="1.5"/>
<path d="M440.9 674V652M440.9 8V30" stroke="#000" stroke-width="1.5"/>
<path d="M574.1 674V652M574.1 8V30" stroke="#000" stroke-width="1.5"/>
<path d="M707.3 674V652M707.3 8V30" stroke="#000" stroke-width="1.5"/>
<path d="M840.5 674V652M840.5 8V30" stroke="#000" stroke-width="1.5"/>
<rect x="176" y="819.6" width="799.4" height="666" fill="none" stroke="#000" stroke-width="1.6"/>
<path d="M176 1168.5H196M975.4 1168.5H955.4" stroke="#000" stroke-width="1.5"/>
<path d="M176 851.4H196M975.4 851.4H955.4" stroke="#000" stroke-width="1.5"/>
<path d="M242.8 1485.6V1463.6M242.8 819.6V841.6" stroke="#000" stroke-width="1.5"/>
<path d="M342.7 1485.6V1463.6M342.7 819.6V841.6" stroke="#000" stroke-width="1.5"/>
<path d="M442.7 1485.6V1463.6M442.7 819.6V841.6" stroke="#000" stroke-width="1.5"/>
<path d="M542.7 1485.6V1463.6M542.7 819.6V841.6" stroke="#000" stroke-width="1.5"/>
<path d="M642.7 1485.6V1463.6M642.7 819.6V841.6" stroke="#000" stroke-width="1.5"/>
<path d="M742.7 1485.6V1463.6M742.7 819.6V841.6" stroke="#000" stroke-width="1.5"/>
<path d="M842.7 1485.6V1463.6M842.7 819.6V841.6" stroke="#000" stroke-width="1.5"/>
<path d="M942.7 1485.6V1463.6M942.7 819.6V841.6" stroke="#000" stroke-width="1.5"/>
<ellipse cx="583.5" cy="262" rx="22" ry="125" fill="none" stroke="#00ff00" stroke-width="5"/>
<ellipse cx="653" cy="486.5" rx="22.5" ry="104" fill="none" stroke="#ff0000" stroke-width="5"/>
<ellipse cx="881.5" cy="335" rx="21.5" ry="103" fill="none" stroke="#0000ff" stroke-width="5"/>
<path d="M487.2 328L529.6 357.6M487.2 328L510.4 376.8M487.2 328L587.2 448M629.6 329.6L651.2 379.2M629.6 329.6L668.8 360M629.6 329.6L689.6 406.4M629.6 329.6L717.6 446.4M758.8 385.2L775.6 436.4M758.8 385.2L796.4 420.4M758.8 385.2L855 540" stroke="#000" stroke-width="1.3" fill="none"/>
<ellipse cx="351.5" cy="1248.5" rx="21.5" ry="124" fill="none" stroke="#00ff00" stroke-width="5"/>
<ellipse cx="525.5" cy="1271" rx="21.5" ry="103" fill="none" stroke="#ff0000" stroke-width="5"/>
<ellipse cx="727" cy="1293.5" rx="20.3" ry="107.5" fill="none" stroke="#0000ff" stroke-width="5"/>
<text transform="translate(89.77,73.20) scale(0.8418,1)" font-size="48.00" fill="#000" stroke="#000" stroke-width="0.9">10</text>
<text transform="translate(131.70,59.40) scale(0.9136,1)" font-size="30.00" fill="#000" stroke="#000" stroke-width="0.9">-5</text>
<text transform="translate(89.77,239.70) scale(0.8418,1)" font-size="48.00" fill="#000" stroke="#000" stroke-width="0.9">10</text>
<text transform="translate(131.69,225.90) scale(0.9250,1)" font-size="30.00" fill="#000" stroke="#000" stroke-width="0.9">-6</text>
<text transform="translate(89.77,406.20) scale(0.8418,1)" font-size="48.00" fill="#000" stroke="#000" stroke-width="0.9">10</text>
<text transform="translate(131.69,392.40) scale(0.9250,1)" font-size="30.00" fill="#000" stroke="#000" stroke-width="0.9">-7</text>
<text transform="translate(89.77,572.70) scale(0.8418,1)" font-size="48.00" fill="#000" stroke="#000" stroke-width="0.9">10</text>
<text transform="translate(131.70,558.90) scale(0.9136,1)" font-size="30.00" fill="#000" stroke="#000" stroke-width="0.9">-8</text>
<text transform="translate(146.06,734.40) scale(0.8627,1)" font-size="47.43" fill="#000" stroke="#000" stroke-width="0.9">3.0</text>
<text transform="translate(279.26,734.40) scale(0.8627,1)" font-size="47.43" fill="#000" stroke="#000" stroke-width="0.9">3.5</text>
<text transform="translate(413.29,734.40) scale(0.8497,1)" font-size="47.43" fill="#000" stroke="#000" stroke-width="0.9">4.0</text>
<text transform="translate(546.49,734.40) scale(0.8497,1)" font-size="47.43" fill="#000" stroke="#000" stroke-width="0.9">4.5</text>
<text transform="translate(678.86,734.40) scale(0.8627,1)" font-size="47.43" fill="#000" stroke="#000" stroke-width="0.9">5.0</text>
<text transform="translate(812.06,734.40) scale(0.8627,1)" font-size="47.43" fill="#000" stroke="#000" stroke-width="0.9">5.5</text>
<text transform="translate(944.84,734.40) scale(0.8693,1)" font-size="47.43" fill="#000" stroke="#000" stroke-width="0.9">6.0</text>
<text transform="translate(370.06,781.30) scale(0.8669,1)" font-size="45.29" fill="#000" stroke="#000" stroke-width="0.9">PHOTON ENERGY (eV)</text>
<text transform="translate(66.20,578.87) rotate(-90) scale(0.9688,0.9524)" font-size="45.0" fill="#000" stroke="#000" stroke-width="0.9">YIELD (RELATIVE UNITS)</text>
<text transform="translate(175.85,52.00) scale(0.8751,1)" font-size="45.00" fill="#000" stroke="#000" stroke-width="0.9">MoS</text>
<text transform="translate(255.21,65.50) scale(0.9300,1)" font-size="38.57" fill="#000" stroke="#000" stroke-width="0.9">2</text>
<text transform="translate(274.25,52.00) scale(0.8701,1)" font-size="45.00" fill="#000" stroke="#000" stroke-width="0.9">(2 ML-trans.)/SiO</text>
<text transform="translate(570.64,65.50) scale(1.0145,1)" font-size="38.57" fill="#000" stroke="#000" stroke-width="0.9">2</text>
<text transform="translate(589.61,52.00) scale(0.8835,1)" font-size="45.00" fill="#000" stroke="#000" stroke-width="0.9">(90 nm)</text>
<text transform="translate(254.69,126.80) scale(0.7870,1)" font-size="46.29" fill="#00ff00" stroke="#00ff00" stroke-width="0.9">H</text>
<text transform="translate(276.83,137.60) scale(1.1272,1)" font-size="38.57" fill="#00ff00" stroke="#00ff00" stroke-width="0.9">2</text>
<text transform="translate(298.89,126.80) scale(0.8240,1)" font-size="46.29" fill="#00ff00" stroke="#00ff00" stroke-width="0.9">S anneal 370</text>
<text transform="translate(531.16,107.00) scale(1.1914,1)" font-size="30.86" fill="#00ff00" stroke="#00ff00" stroke-width="0.9">O</text>
<text transform="translate(559.80,126.80) scale(0.8642,1)" font-size="46.29" fill="#00ff00" stroke="#00ff00" stroke-width="0.9">C</text>
<text transform="translate(439.41,307.00) scale(0.8430,1)" font-size="47.14" fill="#000" stroke="#000" stroke-width="0.9">-40 V</text>
<text transform="translate(604.84,320.00) scale(0.8526,1)" font-size="45.71" fill="#000" stroke="#000" stroke-width="0.9">-50 V</text>
<text transform="translate(720.44,380.40) scale(0.8526,1)" font-size="45.71" fill="#000" stroke="#000" stroke-width="0.9">-70 V</text>
<text transform="translate(558.44,492.00) scale(0.8506,1)" font-size="45.71" fill="#000" stroke="#000" stroke-width="0.9">-5 V</text>
<text transform="translate(687.24,488.00) scale(0.8506,1)" font-size="45.71" fill="#000" stroke="#000" stroke-width="0.9">-3 V</text>
<text transform="translate(839.39,587.00) scale(0.8532,1)" font-size="47.14" fill="#000" stroke="#000" stroke-width="0.9">-5 V</text>
<text transform="translate(518.50,641.00) scale(0.8609,1)" font-size="43.56" fill="#ff0000" stroke="#ff0000" stroke-width="0.9">center</text>
<text transform="translate(855.41,496.00) scale(0.8786,1)" font-size="45.21" fill="#0000ff" stroke="#0000ff" stroke-width="0.9">edge</text>
<text transform="translate(902.43,623.00) scale(0.8818,1)" font-size="58.22" fill="#000" stroke="#000" stroke-width="0.9" font-weight="bold">(a)</text>
<text transform="translate(80.40,866.60) scale(0.8356,1)" font-size="48.00" fill="#000" stroke="#000" stroke-width="0.9">0.02</text>
<text transform="translate(80.40,1184.00) scale(0.8257,1)" font-size="48.57" fill="#000" stroke="#000" stroke-width="0.9">0.01</text>
<text transform="translate(80.93,1500.50) scale(0.8337,1)" font-size="47.14" fill="#000" stroke="#000" stroke-width="0.9">0.00</text>
<text transform="translate(215.55,1546.50) scale(0.8485,1)" font-size="47.14" fill="#000" stroke="#000" stroke-width="0.9">4.2</text>
<text transform="translate(315.55,1546.50) scale(0.8421,1)" font-size="47.14" fill="#000" stroke="#000" stroke-width="0.9">4.5</text>
<text transform="translate(415.54,1546.50) scale(0.8421,1)" font-size="47.14" fill="#000" stroke="#000" stroke-width="0.9">4.8</text>
<text transform="translate(514.70,1546.50) scale(0.8615,1)" font-size="47.14" fill="#000" stroke="#000" stroke-width="0.9">5.1</text>
<text transform="translate(614.71,1546.50) scale(0.8485,1)" font-size="47.14" fill="#000" stroke="#000" stroke-width="0.9">5.4</text>
<text transform="translate(714.68,1546.50) scale(0.8615,1)" font-size="47.14" fill="#000" stroke="#000" stroke-width="0.9">5.7</text>
<text transform="translate(814.26,1546.50) scale(0.8615,1)" font-size="47.14" fill="#000" stroke="#000" stroke-width="0.9">6.0</text>
<text transform="translate(914.25,1546.50) scale(0.8615,1)" font-size="47.14" fill="#000" stroke="#000" stroke-width="0.9">6.3</text>
<text transform="translate(371.87,1614.30) scale(0.8217,1)" font-size="47.57" fill="#000" stroke="#000" stroke-width="0.9">PHOTON ENERGY (eV)</text>
<text transform="translate(45.30,1368.76) rotate(-90) scale(1.0681,0.9524)" font-size="45.0" fill="#000" stroke="#000" stroke-width="0.9">Y</text>
<text transform="translate(23.00,1337.75) rotate(-90) scale(0.8189,0.7143)" font-size="45.0" fill="#000" stroke="#000" stroke-width="0.9">1/3</text>
<text transform="translate(45.30,1287.61) rotate(-90) scale(0.9653,0.9524)" font-size="45.0" fill="#000" stroke="#000" stroke-width="0.9">(RELATIVE UNITS)</text>
<text transform="translate(310.32,1476.00) scale(0.8486,1)" font-size="46.40" fill="#000" stroke="#000" stroke-width="0.9">center</text>
<text transform="translate(668.00,1468.30) scale(0.9019,1)" font-size="44.25" fill="#000" stroke="#000" stroke-width="0.9">edge</text>
<text transform="translate(890.48,1441.50) scale(0.8462,1)" font-size="59.59" fill="#000" stroke="#000" stroke-width="0.9" font-weight="bold">(b)</text>
</svg>
</body></html>
